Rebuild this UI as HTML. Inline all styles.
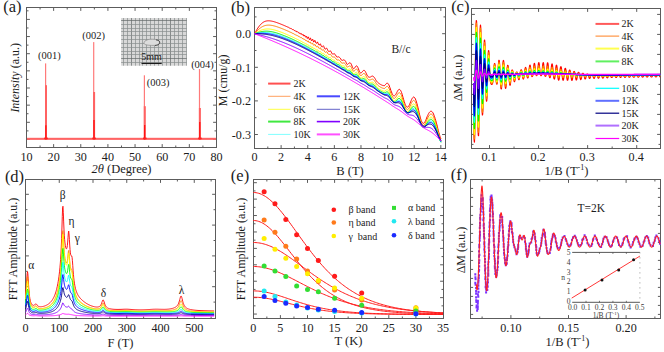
<!DOCTYPE html>
<html><head><meta charset="utf-8"><style>
html,body{margin:0;padding:0;background:#fff;}
body{width:664px;height:352px;overflow:hidden;}
svg{display:block;font-family:"Liberation Serif", serif;}
</style></head><body>
<svg width="664" height="352" viewBox="0 0 664 352">
<rect width="664" height="352" fill="#fff"/>
<rect x="26.5" y="7.5" width="190" height="140" fill="none" stroke="#5c5c5c" stroke-width="1"/>
<line x1="40.07" y1="147.5" x2="40.07" y2="145.5" stroke="#5c5c5c" stroke-width="1.0"/>
<line x1="40.07" y1="7.5" x2="40.07" y2="9.5" stroke="#5c5c5c" stroke-width="1.0"/>
<line x1="53.64" y1="147.5" x2="53.64" y2="144.1" stroke="#5c5c5c" stroke-width="1.0"/>
<line x1="53.64" y1="7.5" x2="53.64" y2="10.9" stroke="#5c5c5c" stroke-width="1.0"/>
<line x1="67.21" y1="147.5" x2="67.21" y2="145.5" stroke="#5c5c5c" stroke-width="1.0"/>
<line x1="67.21" y1="7.5" x2="67.21" y2="9.5" stroke="#5c5c5c" stroke-width="1.0"/>
<line x1="80.78" y1="147.5" x2="80.78" y2="144.1" stroke="#5c5c5c" stroke-width="1.0"/>
<line x1="80.78" y1="7.5" x2="80.78" y2="10.9" stroke="#5c5c5c" stroke-width="1.0"/>
<line x1="94.35" y1="147.5" x2="94.35" y2="145.5" stroke="#5c5c5c" stroke-width="1.0"/>
<line x1="94.35" y1="7.5" x2="94.35" y2="9.5" stroke="#5c5c5c" stroke-width="1.0"/>
<line x1="107.92" y1="147.5" x2="107.92" y2="144.1" stroke="#5c5c5c" stroke-width="1.0"/>
<line x1="107.92" y1="7.5" x2="107.92" y2="10.9" stroke="#5c5c5c" stroke-width="1.0"/>
<line x1="121.49" y1="147.5" x2="121.49" y2="145.5" stroke="#5c5c5c" stroke-width="1.0"/>
<line x1="121.49" y1="7.5" x2="121.49" y2="9.5" stroke="#5c5c5c" stroke-width="1.0"/>
<line x1="135.06" y1="147.5" x2="135.06" y2="144.1" stroke="#5c5c5c" stroke-width="1.0"/>
<line x1="135.06" y1="7.5" x2="135.06" y2="10.9" stroke="#5c5c5c" stroke-width="1.0"/>
<line x1="148.63" y1="147.5" x2="148.63" y2="145.5" stroke="#5c5c5c" stroke-width="1.0"/>
<line x1="148.63" y1="7.5" x2="148.63" y2="9.5" stroke="#5c5c5c" stroke-width="1.0"/>
<line x1="162.2" y1="147.5" x2="162.2" y2="144.1" stroke="#5c5c5c" stroke-width="1.0"/>
<line x1="162.2" y1="7.5" x2="162.2" y2="10.9" stroke="#5c5c5c" stroke-width="1.0"/>
<line x1="175.77" y1="147.5" x2="175.77" y2="145.5" stroke="#5c5c5c" stroke-width="1.0"/>
<line x1="175.77" y1="7.5" x2="175.77" y2="9.5" stroke="#5c5c5c" stroke-width="1.0"/>
<line x1="189.34" y1="147.5" x2="189.34" y2="144.1" stroke="#5c5c5c" stroke-width="1.0"/>
<line x1="189.34" y1="7.5" x2="189.34" y2="10.9" stroke="#5c5c5c" stroke-width="1.0"/>
<line x1="202.91" y1="147.5" x2="202.91" y2="145.5" stroke="#5c5c5c" stroke-width="1.0"/>
<line x1="202.91" y1="7.5" x2="202.91" y2="9.5" stroke="#5c5c5c" stroke-width="1.0"/>
<line x1="26.5" y1="10.82" x2="28.5" y2="10.82" stroke="#5c5c5c" stroke-width="1.0"/>
<line x1="216.5" y1="10.82" x2="214.5" y2="10.82" stroke="#5c5c5c" stroke-width="1.0"/>
<line x1="26.5" y1="19.4" x2="29.9" y2="19.4" stroke="#5c5c5c" stroke-width="1.0"/>
<line x1="216.5" y1="19.4" x2="213.1" y2="19.4" stroke="#5c5c5c" stroke-width="1.0"/>
<line x1="26.5" y1="27.97" x2="28.5" y2="27.97" stroke="#5c5c5c" stroke-width="1.0"/>
<line x1="216.5" y1="27.97" x2="214.5" y2="27.97" stroke="#5c5c5c" stroke-width="1.0"/>
<line x1="26.5" y1="36.55" x2="29.9" y2="36.55" stroke="#5c5c5c" stroke-width="1.0"/>
<line x1="216.5" y1="36.55" x2="213.1" y2="36.55" stroke="#5c5c5c" stroke-width="1.0"/>
<line x1="26.5" y1="45.12" x2="28.5" y2="45.12" stroke="#5c5c5c" stroke-width="1.0"/>
<line x1="216.5" y1="45.12" x2="214.5" y2="45.12" stroke="#5c5c5c" stroke-width="1.0"/>
<line x1="26.5" y1="53.7" x2="29.9" y2="53.7" stroke="#5c5c5c" stroke-width="1.0"/>
<line x1="216.5" y1="53.7" x2="213.1" y2="53.7" stroke="#5c5c5c" stroke-width="1.0"/>
<line x1="26.5" y1="62.27" x2="28.5" y2="62.27" stroke="#5c5c5c" stroke-width="1.0"/>
<line x1="216.5" y1="62.27" x2="214.5" y2="62.27" stroke="#5c5c5c" stroke-width="1.0"/>
<line x1="26.5" y1="70.85" x2="29.9" y2="70.85" stroke="#5c5c5c" stroke-width="1.0"/>
<line x1="216.5" y1="70.85" x2="213.1" y2="70.85" stroke="#5c5c5c" stroke-width="1.0"/>
<line x1="26.5" y1="79.42" x2="28.5" y2="79.42" stroke="#5c5c5c" stroke-width="1.0"/>
<line x1="216.5" y1="79.42" x2="214.5" y2="79.42" stroke="#5c5c5c" stroke-width="1.0"/>
<line x1="26.5" y1="88" x2="29.9" y2="88" stroke="#5c5c5c" stroke-width="1.0"/>
<line x1="216.5" y1="88" x2="213.1" y2="88" stroke="#5c5c5c" stroke-width="1.0"/>
<line x1="26.5" y1="96.57" x2="28.5" y2="96.57" stroke="#5c5c5c" stroke-width="1.0"/>
<line x1="216.5" y1="96.57" x2="214.5" y2="96.57" stroke="#5c5c5c" stroke-width="1.0"/>
<line x1="26.5" y1="105.15" x2="29.9" y2="105.15" stroke="#5c5c5c" stroke-width="1.0"/>
<line x1="216.5" y1="105.15" x2="213.1" y2="105.15" stroke="#5c5c5c" stroke-width="1.0"/>
<line x1="26.5" y1="113.72" x2="28.5" y2="113.72" stroke="#5c5c5c" stroke-width="1.0"/>
<line x1="216.5" y1="113.72" x2="214.5" y2="113.72" stroke="#5c5c5c" stroke-width="1.0"/>
<line x1="26.5" y1="122.3" x2="29.9" y2="122.3" stroke="#5c5c5c" stroke-width="1.0"/>
<line x1="216.5" y1="122.3" x2="213.1" y2="122.3" stroke="#5c5c5c" stroke-width="1.0"/>
<line x1="26.5" y1="130.88" x2="28.5" y2="130.88" stroke="#5c5c5c" stroke-width="1.0"/>
<line x1="216.5" y1="130.88" x2="214.5" y2="130.88" stroke="#5c5c5c" stroke-width="1.0"/>
<line x1="26.5" y1="139.45" x2="29.9" y2="139.45" stroke="#5c5c5c" stroke-width="1.0"/>
<line x1="216.5" y1="139.45" x2="213.1" y2="139.45" stroke="#5c5c5c" stroke-width="1.0"/>
<text transform="translate(26.5 160.8) scale(0.92 1)" font-size="13.2" text-anchor="middle" fill="#1c1c1c">10</text>
<text transform="translate(53.64 160.8) scale(0.92 1)" font-size="13.2" text-anchor="middle" fill="#1c1c1c">20</text>
<text transform="translate(80.78 160.8) scale(0.92 1)" font-size="13.2" text-anchor="middle" fill="#1c1c1c">30</text>
<text transform="translate(107.92 160.8) scale(0.92 1)" font-size="13.2" text-anchor="middle" fill="#1c1c1c">40</text>
<text transform="translate(135.06 160.8) scale(0.92 1)" font-size="13.2" text-anchor="middle" fill="#1c1c1c">50</text>
<text transform="translate(162.2 160.8) scale(0.92 1)" font-size="13.2" text-anchor="middle" fill="#1c1c1c">60</text>
<text transform="translate(189.34 160.8) scale(0.92 1)" font-size="13.2" text-anchor="middle" fill="#1c1c1c">70</text>
<text transform="translate(216.48 160.8) scale(0.92 1)" font-size="13.2" text-anchor="middle" fill="#1c1c1c">80</text>
<text x="14.9" y="77.8" font-size="12" text-anchor="middle" fill="#1c1c1c" transform="rotate(-90 14.9 77.8)" dominant-baseline="central"><tspan font-style="italic">Intensity</tspan> (a.u.)</text>
<text x="121.5" y="173" font-size="12.5" text-anchor="middle" fill="#1c1c1c"><tspan font-style="italic">2θ</tspan> (Degree)</text>
<text x="12.4" y="11.6" font-size="16.5" text-anchor="middle" fill="#1c1c1c">(a)</text>
<rect x="121.1" y="18" width="65.6" height="47.7" fill="#d8d8d8"/>
<line x1="123.5" y1="18" x2="123.5" y2="65.7" stroke="#888e8e" stroke-width="0.7"/>
<line x1="127.5" y1="18" x2="127.5" y2="65.7" stroke="#888e8e" stroke-width="0.7"/>
<line x1="131.5" y1="18" x2="131.5" y2="65.7" stroke="#646a6a" stroke-width="0.7"/>
<line x1="135.5" y1="18" x2="135.5" y2="65.7" stroke="#888e8e" stroke-width="0.7"/>
<line x1="139.5" y1="18" x2="139.5" y2="65.7" stroke="#888e8e" stroke-width="0.7"/>
<line x1="142.5" y1="18" x2="142.5" y2="65.7" stroke="#888e8e" stroke-width="0.7"/>
<line x1="146.5" y1="18" x2="146.5" y2="65.7" stroke="#888e8e" stroke-width="0.7"/>
<line x1="150.5" y1="18" x2="150.5" y2="65.7" stroke="#888e8e" stroke-width="0.7"/>
<line x1="154.5" y1="18" x2="154.5" y2="65.7" stroke="#888e8e" stroke-width="0.7"/>
<line x1="158.5" y1="18" x2="158.5" y2="65.7" stroke="#888e8e" stroke-width="0.7"/>
<line x1="162.5" y1="18" x2="162.5" y2="65.7" stroke="#888e8e" stroke-width="0.7"/>
<line x1="166.5" y1="18" x2="166.5" y2="65.7" stroke="#888e8e" stroke-width="0.7"/>
<line x1="170.5" y1="18" x2="170.5" y2="65.7" stroke="#646a6a" stroke-width="0.7"/>
<line x1="174.5" y1="18" x2="174.5" y2="65.7" stroke="#888e8e" stroke-width="0.7"/>
<line x1="178.5" y1="18" x2="178.5" y2="65.7" stroke="#888e8e" stroke-width="0.7"/>
<line x1="182.5" y1="18" x2="182.5" y2="65.7" stroke="#888e8e" stroke-width="0.7"/>
<line x1="186.5" y1="18" x2="186.5" y2="65.7" stroke="#888e8e" stroke-width="0.7"/>
<line x1="121.1" y1="20.5" x2="186.7" y2="20.5" stroke="#646a6a" stroke-width="0.7"/>
<line x1="121.1" y1="24.5" x2="186.7" y2="24.5" stroke="#888e8e" stroke-width="0.7"/>
<line x1="121.1" y1="28.5" x2="186.7" y2="28.5" stroke="#888e8e" stroke-width="0.7"/>
<line x1="121.1" y1="31.5" x2="186.7" y2="31.5" stroke="#888e8e" stroke-width="0.7"/>
<line x1="121.1" y1="35.5" x2="186.7" y2="35.5" stroke="#888e8e" stroke-width="0.7"/>
<line x1="121.1" y1="39.5" x2="186.7" y2="39.5" stroke="#888e8e" stroke-width="0.7"/>
<line x1="121.1" y1="43.5" x2="186.7" y2="43.5" stroke="#888e8e" stroke-width="0.7"/>
<line x1="121.1" y1="47.5" x2="186.7" y2="47.5" stroke="#888e8e" stroke-width="0.7"/>
<line x1="121.1" y1="51.5" x2="186.7" y2="51.5" stroke="#888e8e" stroke-width="0.7"/>
<line x1="121.1" y1="54.5" x2="186.7" y2="54.5" stroke="#888e8e" stroke-width="0.7"/>
<line x1="121.1" y1="58.5" x2="186.7" y2="58.5" stroke="#646a6a" stroke-width="0.7"/>
<line x1="121.1" y1="62.5" x2="186.7" y2="62.5" stroke="#888e8e" stroke-width="0.7"/>
<path d="M144,42.8 C144.5,40.2 148.5,39 152.5,39.2 C156.5,39.3 160,40.2 159.6,42.6 C159.2,44.8 156,45.6 151.5,45.4 C147.5,45.3 143.6,44.8 144,42.8 Z" fill="#dcdcdc" stroke="#8a8a8a" stroke-width="0.7"/><path d="M156,39.8 C159,40.3 160.3,41.5 159.6,43.2 C159,44.8 157,45.4 155,45.5" fill="none" stroke="#505050" stroke-width="1"/>
<text x="151.6" y="60.1" font-size="10" text-anchor="middle" fill="#1a1a1a">5mm</text>
<line x1="141.5" y1="63.4" x2="161.7" y2="63.4" stroke="#1a1a1a" stroke-width="1.2"/>
<rect x="27.0" y="137.8" width="189" height="2.1" fill="#ff6464"/>
<rect x="45.0" y="63.4" width="1.2" height="76.1" fill="#ff7a7a"/>
<rect x="45.0" y="85.2" width="2.0" height="54.3" fill="#ff6262"/>
<rect x="45.3" y="125.3" width="1.2" height="14.2" fill="#ff0a0a"/>
<rect x="44.2" y="137.6" width="3.6" height="1.6" fill="#ff2020"/>
<rect x="93.1" y="42.1" width="1.2" height="97.4" fill="#ff7a7a"/>
<rect x="93.1" y="92.0" width="2.0" height="47.5" fill="#ff6262"/>
<rect x="93.39999999999999" y="120.0" width="1.2" height="19.5" fill="#ff0a0a"/>
<rect x="92.3" y="137.6" width="3.6" height="1.6" fill="#ff2020"/>
<rect x="143.8" y="75.3" width="1.2" height="64.2" fill="#ff7a7a"/>
<rect x="143.8" y="106.2" width="2.0" height="33.3" fill="#ff6262"/>
<rect x="144.10000000000002" y="125.0" width="1.2" height="14.5" fill="#ff0a0a"/>
<rect x="143.0" y="137.6" width="3.6" height="1.6" fill="#ff2020"/>
<rect x="198.9" y="69.0" width="1.2" height="70.5" fill="#ff7a7a"/>
<rect x="198.9" y="108.0" width="2.0" height="31.5" fill="#ff6262"/>
<rect x="199.20000000000002" y="122.0" width="1.2" height="17.5" fill="#ff0a0a"/>
<rect x="198.1" y="137.6" width="3.6" height="1.6" fill="#ff2020"/>
<text x="49.3" y="58.6" font-size="10.5" text-anchor="middle" fill="#1c1c1c">(001)</text>
<text x="93.7" y="38.9" font-size="10.5" text-anchor="middle" fill="#1c1c1c">(002)</text>
<text x="158.2" y="86" font-size="10.5" text-anchor="middle" fill="#1c1c1c">(003)</text>
<text x="202.5" y="68" font-size="10.5" text-anchor="middle" fill="#1c1c1c">(004)</text>
<rect x="254.5" y="7.5" width="191" height="141" fill="none" stroke="#5c5c5c" stroke-width="1"/>
<line x1="267.81" y1="148.5" x2="267.81" y2="146.5" stroke="#5c5c5c" stroke-width="1.0"/>
<line x1="267.81" y1="7.5" x2="267.81" y2="9.5" stroke="#5c5c5c" stroke-width="1.0"/>
<line x1="281.12" y1="148.5" x2="281.12" y2="145.1" stroke="#5c5c5c" stroke-width="1.0"/>
<line x1="281.12" y1="7.5" x2="281.12" y2="10.9" stroke="#5c5c5c" stroke-width="1.0"/>
<line x1="294.43" y1="148.5" x2="294.43" y2="146.5" stroke="#5c5c5c" stroke-width="1.0"/>
<line x1="294.43" y1="7.5" x2="294.43" y2="9.5" stroke="#5c5c5c" stroke-width="1.0"/>
<line x1="307.74" y1="148.5" x2="307.74" y2="145.1" stroke="#5c5c5c" stroke-width="1.0"/>
<line x1="307.74" y1="7.5" x2="307.74" y2="10.9" stroke="#5c5c5c" stroke-width="1.0"/>
<line x1="321.05" y1="148.5" x2="321.05" y2="146.5" stroke="#5c5c5c" stroke-width="1.0"/>
<line x1="321.05" y1="7.5" x2="321.05" y2="9.5" stroke="#5c5c5c" stroke-width="1.0"/>
<line x1="334.36" y1="148.5" x2="334.36" y2="145.1" stroke="#5c5c5c" stroke-width="1.0"/>
<line x1="334.36" y1="7.5" x2="334.36" y2="10.9" stroke="#5c5c5c" stroke-width="1.0"/>
<line x1="347.67" y1="148.5" x2="347.67" y2="146.5" stroke="#5c5c5c" stroke-width="1.0"/>
<line x1="347.67" y1="7.5" x2="347.67" y2="9.5" stroke="#5c5c5c" stroke-width="1.0"/>
<line x1="360.98" y1="148.5" x2="360.98" y2="145.1" stroke="#5c5c5c" stroke-width="1.0"/>
<line x1="360.98" y1="7.5" x2="360.98" y2="10.9" stroke="#5c5c5c" stroke-width="1.0"/>
<line x1="374.29" y1="148.5" x2="374.29" y2="146.5" stroke="#5c5c5c" stroke-width="1.0"/>
<line x1="374.29" y1="7.5" x2="374.29" y2="9.5" stroke="#5c5c5c" stroke-width="1.0"/>
<line x1="387.6" y1="148.5" x2="387.6" y2="145.1" stroke="#5c5c5c" stroke-width="1.0"/>
<line x1="387.6" y1="7.5" x2="387.6" y2="10.9" stroke="#5c5c5c" stroke-width="1.0"/>
<line x1="400.91" y1="148.5" x2="400.91" y2="146.5" stroke="#5c5c5c" stroke-width="1.0"/>
<line x1="400.91" y1="7.5" x2="400.91" y2="9.5" stroke="#5c5c5c" stroke-width="1.0"/>
<line x1="414.22" y1="148.5" x2="414.22" y2="145.1" stroke="#5c5c5c" stroke-width="1.0"/>
<line x1="414.22" y1="7.5" x2="414.22" y2="10.9" stroke="#5c5c5c" stroke-width="1.0"/>
<line x1="427.53" y1="148.5" x2="427.53" y2="146.5" stroke="#5c5c5c" stroke-width="1.0"/>
<line x1="427.53" y1="7.5" x2="427.53" y2="9.5" stroke="#5c5c5c" stroke-width="1.0"/>
<line x1="440.84" y1="148.5" x2="440.84" y2="145.1" stroke="#5c5c5c" stroke-width="1.0"/>
<line x1="440.84" y1="7.5" x2="440.84" y2="10.9" stroke="#5c5c5c" stroke-width="1.0"/>
<line x1="254.5" y1="16.9" x2="256.5" y2="16.9" stroke="#5c5c5c" stroke-width="1.0"/>
<line x1="445.5" y1="16.9" x2="443.5" y2="16.9" stroke="#5c5c5c" stroke-width="1.0"/>
<line x1="254.5" y1="33.7" x2="257.9" y2="33.7" stroke="#5c5c5c" stroke-width="1.0"/>
<line x1="445.5" y1="33.7" x2="442.1" y2="33.7" stroke="#5c5c5c" stroke-width="1.0"/>
<line x1="254.5" y1="50.5" x2="256.5" y2="50.5" stroke="#5c5c5c" stroke-width="1.0"/>
<line x1="445.5" y1="50.5" x2="443.5" y2="50.5" stroke="#5c5c5c" stroke-width="1.0"/>
<line x1="254.5" y1="67.3" x2="257.9" y2="67.3" stroke="#5c5c5c" stroke-width="1.0"/>
<line x1="445.5" y1="67.3" x2="442.1" y2="67.3" stroke="#5c5c5c" stroke-width="1.0"/>
<line x1="254.5" y1="84.1" x2="256.5" y2="84.1" stroke="#5c5c5c" stroke-width="1.0"/>
<line x1="445.5" y1="84.1" x2="443.5" y2="84.1" stroke="#5c5c5c" stroke-width="1.0"/>
<line x1="254.5" y1="100.9" x2="257.9" y2="100.9" stroke="#5c5c5c" stroke-width="1.0"/>
<line x1="445.5" y1="100.9" x2="442.1" y2="100.9" stroke="#5c5c5c" stroke-width="1.0"/>
<line x1="254.5" y1="117.7" x2="256.5" y2="117.7" stroke="#5c5c5c" stroke-width="1.0"/>
<line x1="445.5" y1="117.7" x2="443.5" y2="117.7" stroke="#5c5c5c" stroke-width="1.0"/>
<line x1="254.5" y1="134.5" x2="257.9" y2="134.5" stroke="#5c5c5c" stroke-width="1.0"/>
<line x1="445.5" y1="134.5" x2="442.1" y2="134.5" stroke="#5c5c5c" stroke-width="1.0"/>
<text transform="translate(254.5 160.8) scale(0.92 1)" font-size="13.2" text-anchor="middle" fill="#1c1c1c">0</text>
<text transform="translate(281.12 160.8) scale(0.92 1)" font-size="13.2" text-anchor="middle" fill="#1c1c1c">2</text>
<text transform="translate(307.74 160.8) scale(0.92 1)" font-size="13.2" text-anchor="middle" fill="#1c1c1c">4</text>
<text transform="translate(334.36 160.8) scale(0.92 1)" font-size="13.2" text-anchor="middle" fill="#1c1c1c">6</text>
<text transform="translate(360.98 160.8) scale(0.92 1)" font-size="13.2" text-anchor="middle" fill="#1c1c1c">8</text>
<text transform="translate(387.6 160.8) scale(0.92 1)" font-size="13.2" text-anchor="middle" fill="#1c1c1c">10</text>
<text transform="translate(414.22 160.8) scale(0.92 1)" font-size="13.2" text-anchor="middle" fill="#1c1c1c">12</text>
<text transform="translate(440.84 160.8) scale(0.92 1)" font-size="13.2" text-anchor="middle" fill="#1c1c1c">14</text>
<text transform="translate(251 38.1) scale(0.92 1)" font-size="13.2" text-anchor="end" fill="#1c1c1c">0.0</text>
<text transform="translate(251 71.7) scale(0.92 1)" font-size="13.2" text-anchor="end" fill="#1c1c1c">-0.1</text>
<text transform="translate(251 105.3) scale(0.92 1)" font-size="13.2" text-anchor="end" fill="#1c1c1c">-0.2</text>
<text transform="translate(251 138.9) scale(0.92 1)" font-size="13.2" text-anchor="end" fill="#1c1c1c">-0.3</text>
<text x="223" y="80.3" font-size="12" text-anchor="middle" fill="#1c1c1c" transform="rotate(-90 223 80.3)" dominant-baseline="central">M (cmu/g)</text>
<text x="350" y="174.7" font-size="12.5" text-anchor="middle" fill="#1c1c1c">B (T)</text>
<text x="240.5" y="13.3" font-size="16.5" text-anchor="middle" fill="#1c1c1c">(b)</text>
<text x="401" y="52.5" font-size="11.5" text-anchor="middle" fill="#1c1c1c">B//c</text>
<polyline fill="none" stroke="#ff0000" stroke-width="1.0" stroke-linejoin="round" points="254.5,33.7 255.17,32.53 255.83,31.37 256.5,30.24 257.16,29.16 257.83,28.12 258.49,27.14 259.16,26.23 259.82,25.39 260.49,24.62 261.15,23.94 261.82,23.33 262.49,22.79 263.15,22.33 263.82,21.94 264.48,21.61 265.15,21.35 265.81,21.14 266.48,20.99 267.14,20.89 267.81,20.82 268.48,20.8 269.14,20.82 269.81,20.86 270.47,20.94 271.14,21.04 271.8,21.16 272.47,21.3 273.13,21.46 273.8,21.64 274.47,21.83 275.13,22.03 275.8,22.25 276.46,22.47 277.13,22.7 277.79,22.94 278.46,23.19 279.12,23.44 279.79,23.7 280.45,23.96 281.12,24.23 281.79,24.5 282.45,24.78 283.12,25.06 283.78,25.34 284.45,25.62 285.11,25.91 285.78,26.2 286.44,26.49 287.11,26.78 287.77,27.08 288.44,27.29 289.11,27.68 289.77,28.22 290.44,28.42 291.1,28.52 291.77,28.9 292.43,29.53 293.1,29.52 293.76,29.87 294.43,30.59 295.1,30.47 295.63,31.27 296.16,31.01 296.69,31.82 297.23,31.61 297.76,32.08 298.29,32.42 298.82,32.38 299.35,33.49 299.89,32.91 300.42,33.49 300.95,34.24 301.48,33.62 302.02,34.81 302.55,34.94 303.08,34.42 303.61,35.85 304.15,35.95 304.68,35.14 305.21,36.49 305.74,37.28 306.28,36.01 306.81,36.73 307.34,38.49 307.87,37.62 308.41,36.88 308.94,38.68 309.47,39.73 310,38.39 310.54,38.06 311.07,40.05 311.6,40.83 312.13,39.75 312.66,39.08 313.2,41 313.73,42.02 314.26,41.71 314.79,40.32 315.33,41.2 315.86,42.94 316.39,43.41 316.92,42.98 317.46,41.87 317.99,43.07 318.52,44.56 319.05,45.03 319.59,44.93 320.12,43.74 320.65,44.25 321.18,46.01 321.72,46.71 322.25,46.92 322.78,46.42 323.31,45.7 323.85,46.56 324.38,48.12 324.91,48.87 325.44,49.11 325.97,48.82 326.51,48.1 327.04,48.46 327.57,49.79 328.1,50.87 328.64,51.48 329.17,51.51 329.7,51.11 330.23,50.8 330.77,51.18 331.3,52.15 331.83,53.23 332.36,54 332.9,54.22 333.43,53.98 333.96,53.74 334.49,53.82 335.03,54.3 335.56,55.04 336.09,56 336.62,56.77 337.16,57.09 337.69,56.97 338.22,56.78 338.75,56.92 339.28,57.23 339.82,57.67 340.35,58.2 340.88,59.2 341.41,60.07 341.95,60.47 342.48,60.38 343.01,59.95 343.54,59.88 344.08,59.92 344.61,60.2 345.14,60.74 345.67,61.51 346.21,62.75 346.74,63.83 347.27,64.42 347.8,64.41 348.34,63.9 348.87,63.27 349.4,62.89 349.93,62.75 350.47,63.01 351,63.71 351.53,64.77 352.06,66.13 352.59,67.46 353.13,68.38 353.66,68.73 354.19,68.48 354.72,67.81 355.26,67 355.79,66.31 356.32,65.89 356.85,65.93 357.39,66.53 357.92,67.58 358.45,68.9 358.98,70.3 359.52,71.57 360.05,72.49 360.58,72.97 361.11,72.96 361.65,72.53 362.18,71.91 362.71,71.23 363.24,70.64 363.78,70.3 364.31,70.33 364.84,70.8 365.37,71.62 365.9,72.69 366.44,73.89 366.97,74.95 367.5,75.85 368.03,76.54 368.57,76.99 369.1,77.2 369.63,77.23 370.16,77.11 370.7,76.88 371.23,76.54 371.76,76.23 372.29,76.08 372.83,76.14 373.36,76.44 373.89,76.95 374.42,77.66 374.96,78.46 375.49,79.4 376.02,80.32 376.55,81.11 377.09,81.78 377.62,82.34 378.15,82.82 378.68,83.24 379.21,83.61 379.75,83.96 380.28,84.28 380.81,84.58 381.34,84.86 381.88,85.11 382.41,85.32 382.94,85.48 383.47,85.58 384.01,85.62 384.54,85.59 385.07,85.18 385.6,84.43 386.14,83.77 386.67,83.31 387.2,83.14 387.73,83.32 388.27,83.86 388.8,84.76 389.33,85.97 389.86,87.43 390.4,89.03 390.93,90.5 391.46,91.94 391.99,93.27 392.52,94.41 393.06,95.26 393.59,95.75 394.12,95.9 394.65,95.7 395.19,95.2 395.72,94.46 396.25,93.54 396.78,92.51 397.32,91.47 397.85,90.55 398.38,89.85 398.91,89.44 399.45,89.36 399.98,89.63 400.51,90.27 401.04,91.27 401.58,92.61 402.11,94.21 402.64,96.01 403.17,97.91 403.71,99.77 404.24,101.56 404.77,103.19 405.3,104.6 405.83,105.73 406.37,106.58 406.9,107.08 407.43,107.2 407.96,106.97 408.5,106.39 409.03,105.53 409.56,104.44 410.09,103.18 410.63,101.86 411.16,100.56 411.69,99.37 412.22,98.36 412.76,97.6 413.29,97.14 413.82,97.02 414.35,97.32 414.89,97.99 415.42,99.01 415.95,100.35 416.48,101.97 417.02,103.81 417.55,105.83 418.08,107.94 418.61,110.23 419.14,112.62 419.68,114.93 420.21,117.09 420.74,119.02 421.27,120.59 421.81,121.83 422.34,122.71 422.87,123.22 423.4,123.35 423.94,123.14 424.47,122.59 425,121.77 425.53,120.7 426.07,119.44 426.6,118.07 427.13,116.62 427.66,115.47 428.2,114.38 428.73,113.4 429.26,112.55 429.79,111.89 430.33,111.43 430.86,111.21 431.39,111.24 431.92,111.54 432.45,112.1 432.99,112.93 433.52,114 434.05,115.29 434.58,116.77 435.12,118.42 435.65,120.2 436.18,122.08 436.71,124.01 437.25,126.08 437.78,128.33 438.31,130.5 438.84,132.57 439.38,134.49 439.91,136.23 440.44,137.75 440.97,139.05"/>
<polyline fill="none" stroke="#ff8000" stroke-width="1.0" stroke-linejoin="round" points="254.5,33.7 255.17,32.96 255.83,32.24 256.5,31.52 257.16,30.83 257.83,30.17 258.49,29.53 259.16,28.94 259.82,28.38 260.49,27.87 261.15,27.4 261.82,26.98 262.49,26.6 263.15,26.27 263.82,25.99 264.48,25.75 265.15,25.55 265.81,25.39 266.48,25.27 267.14,25.19 267.81,25.14 268.48,25.12 269.14,25.13 269.81,25.17 270.47,25.23 271.14,25.32 271.8,25.42 272.47,25.54 273.13,25.69 273.8,25.84 274.47,26.01 275.13,26.2 275.8,26.39 276.46,26.6 277.13,26.81 277.79,27.04 278.46,27.27 279.12,27.51 279.79,27.75 280.45,28 281.12,28.26 281.79,28.52 282.45,28.78 283.12,29.05 283.78,29.32 284.45,29.6 285.11,29.88 285.78,30.16 286.44,30.45 287.11,30.73 287.77,31.02 288.44,31.29 289.11,31.61 289.77,32 290.44,32.27 291.1,32.49 291.77,32.83 292.43,33.27 293.1,33.46 293.76,33.79 294.43,34.28 295.1,34.41 295.63,34.92 296.16,34.94 296.69,35.46 297.23,35.5 297.76,35.87 298.29,36.18 298.82,36.3 299.35,36.99 299.89,36.83 300.42,37.26 300.95,37.79 301.48,37.59 302.02,38.36 302.55,38.56 303.08,38.41 303.61,39.32 304.15,39.5 304.68,39.17 305.21,40.06 305.74,40.64 306.28,40.03 306.81,40.57 307.34,41.72 307.87,41.33 308.41,40.99 308.94,42.2 309.47,42.96 310,42.24 310.54,42.14 311.07,43.5 311.6,44.1 312.13,43.52 312.66,43.2 313.2,44.54 313.73,45.3 314.26,45.2 314.79,44.39 315.33,45.07 315.86,46.32 316.39,46.74 316.92,46.54 317.46,45.88 317.99,46.79 318.52,47.91 319.05,48.33 319.59,48.35 320.12,47.61 320.65,48.05 321.18,49.38 321.72,49.96 322.25,50.2 322.78,49.92 323.31,49.48 323.85,50.18 324.38,51.4 324.91,52.02 325.44,52.28 325.97,52.15 326.51,51.69 327.04,52.03 327.57,53.09 328.1,53.98 328.64,54.51 329.17,54.61 329.7,54.38 330.23,54.21 330.77,54.58 331.3,55.39 331.83,56.28 332.36,56.94 332.9,57.18 333.43,57.06 333.96,56.94 334.49,57.07 335.03,57.51 335.56,58.16 336.09,58.97 336.62,59.65 337.16,59.96 337.69,59.93 338.22,59.84 338.75,60.01 339.28,60.31 339.82,60.73 340.35,61.21 340.88,62.08 341.41,62.84 341.95,63.22 342.48,63.2 343.01,62.91 343.54,62.91 344.08,63 344.61,63.28 345.14,63.77 345.67,64.46 346.21,65.53 346.74,66.48 347.27,67.02 347.8,67.07 348.34,66.7 348.87,66.23 349.4,65.96 349.93,65.89 350.47,66.15 351,66.79 351.53,67.73 352.06,68.92 352.59,70.09 353.13,70.92 353.66,71.27 354.19,71.1 354.72,70.58 355.26,69.94 355.79,69.39 356.32,69.08 356.85,69.16 357.39,69.72 357.92,70.65 358.45,71.83 358.98,73.08 359.52,74.22 360.05,75.06 360.58,75.52 361.11,75.55 361.65,75.23 362.18,74.73 362.71,74.18 363.24,73.71 363.78,73.46 364.31,73.53 364.84,73.97 365.37,74.72 365.9,75.7 366.44,76.79 366.97,77.76 367.5,78.59 368.03,79.24 368.57,79.68 369.1,79.9 369.63,79.97 370.16,79.9 370.7,79.73 371.23,79.48 371.76,79.24 372.29,79.14 372.83,79.23 373.36,79.52 373.89,80.02 374.42,80.69 374.96,81.43 375.49,82.3 376.02,83.16 376.55,83.91 377.09,84.54 377.62,85.08 378.15,85.54 378.68,85.96 379.21,86.33 379.75,86.68 380.28,87 380.81,87.31 381.34,87.59 381.88,87.85 382.41,88.07 382.94,88.25 383.47,88.38 384.01,88.45 384.54,88.45 385.07,88.11 385.6,87.46 386.14,86.89 386.67,86.51 387.2,86.38 387.73,86.57 388.27,87.09 388.8,87.94 389.33,89.08 389.86,90.43 390.4,91.93 390.93,93.3 391.46,94.64 391.99,95.9 392.52,96.97 393.06,97.78 393.59,98.26 394.12,98.43 394.65,98.28 395.19,97.85 395.72,97.2 396.25,96.38 396.78,95.46 397.32,94.53 397.85,93.71 398.38,93.09 398.91,92.74 399.45,92.69 399.98,92.96 400.51,93.58 401.04,94.53 401.58,95.79 402.11,97.3 402.64,98.99 403.17,100.78 403.71,102.53 404.24,104.22 404.77,105.76 405.3,107.09 405.83,108.17 406.37,108.99 406.9,109.48 407.43,109.63 407.96,109.44 408.5,108.93 409.03,108.15 409.56,107.15 410.09,106.01 410.63,104.79 411.16,103.61 411.69,102.51 412.22,101.59 412.76,100.89 413.29,100.48 413.82,100.39 414.35,100.68 414.89,101.32 415.42,102.29 415.95,103.56 416.48,105.09 417.02,106.84 417.55,108.74 418.08,110.74 418.61,112.9 419.14,115.17 419.68,117.35 420.21,119.4 420.74,121.23 421.27,122.73 421.81,123.91 422.34,124.75 422.87,125.24 423.4,125.39 423.94,125.2 424.47,124.7 425,123.93 425.53,122.94 426.07,121.77 426.6,120.47 427.13,119.12 427.66,118.04 428.2,117.03 428.73,116.1 429.26,115.31 429.79,114.69 430.33,114.26 430.86,114.06 431.39,114.1 431.92,114.38 432.45,114.93 432.99,115.72 433.52,116.74 434.05,117.97 434.58,119.39 435.12,120.97 435.65,122.67 436.18,124.46 436.71,126.3 437.25,128.28 437.78,130.43 438.31,132.51 438.84,134.49 439.38,136.33 439.91,137.99 440.44,139.46 440.97,140.71"/>
<polyline fill="none" stroke="#ffff00" stroke-width="1.0" stroke-linejoin="round" points="254.5,33.7 255.17,33.29 255.83,32.88 256.5,32.48 257.16,32.09 257.83,31.71 258.49,31.35 259.16,31.01 259.82,30.7 260.49,30.41 261.15,30.14 261.82,29.9 262.49,29.69 263.15,29.51 263.82,29.35 264.48,29.22 265.15,29.12 265.81,29.05 266.48,29 267.14,28.97 267.81,28.97 268.48,28.99 269.14,29.03 269.81,29.09 270.47,29.17 271.14,29.27 271.8,29.39 272.47,29.52 273.13,29.66 273.8,29.82 274.47,29.99 275.13,30.17 275.8,30.36 276.46,30.56 277.13,30.76 277.79,30.98 278.46,31.21 279.12,31.44 279.79,31.68 280.45,31.92 281.12,32.17 281.79,32.42 282.45,32.68 283.12,32.94 283.78,33.21 284.45,33.48 285.11,33.75 285.78,34.03 286.44,34.31 287.11,34.59 287.77,34.88 288.44,35.16 289.11,35.46 289.77,35.78 290.44,36.07 291.1,36.35 291.77,36.66 292.43,37.01 293.1,37.28 293.76,37.6 294.43,37.98 295.1,38.23 295.63,38.58 296.16,38.75 296.69,39.11 297.23,39.29 297.76,39.6 298.29,39.88 298.82,40.08 299.35,40.52 299.89,40.62 300.42,40.96 300.95,41.34 301.48,41.41 302.02,41.9 302.55,42.14 303.08,42.23 303.61,42.79 304.15,43.03 304.68,43.02 305.21,43.59 305.74,44.01 306.28,43.87 306.81,44.27 307.34,44.98 307.87,44.93 308.41,44.91 308.94,45.65 309.47,46.18 310,45.96 310.54,46.04 311.07,46.89 311.6,47.34 312.13,47.17 312.66,47.13 313.2,47.99 313.73,48.54 314.26,48.62 314.79,48.29 315.33,48.8 315.86,49.63 316.39,50 316.92,50.01 317.46,49.75 317.99,50.4 318.52,51.18 319.05,51.55 319.59,51.68 320.12,51.35 320.65,51.73 321.18,52.65 321.72,53.12 322.25,53.39 322.78,53.33 323.31,53.17 323.85,53.71 324.38,54.59 324.91,55.09 325.44,55.37 325.97,55.39 326.51,55.21 327.04,55.53 327.57,56.32 328.1,57 328.64,57.45 329.17,57.62 329.7,57.57 330.23,57.56 330.77,57.9 331.3,58.54 331.83,59.24 332.36,59.79 332.9,60.05 333.43,60.07 333.96,60.08 334.49,60.26 335.03,60.65 335.56,61.19 336.09,61.85 336.62,62.42 337.16,62.73 337.69,62.8 338.22,62.82 338.75,63.03 339.28,63.33 339.82,63.72 340.35,64.15 340.88,64.86 341.41,65.49 341.95,65.86 342.48,65.93 343.01,65.8 343.54,65.87 344.08,66.02 344.61,66.3 345.14,66.75 345.67,67.34 346.21,68.21 346.74,69 347.27,69.49 347.8,69.6 348.34,69.4 348.87,69.12 349.4,68.99 349.93,69 350.47,69.28 351,69.83 351.53,70.62 352.06,71.61 352.59,72.58 353.13,73.3 353.66,73.64 354.19,73.58 354.72,73.25 355.26,72.82 355.79,72.46 356.32,72.28 356.85,72.41 357.39,72.91 357.92,73.71 358.45,74.7 358.98,75.76 359.52,76.73 360.05,77.47 360.58,77.9 361.11,77.99 361.65,77.8 362.18,77.47 362.71,77.09 363.24,76.77 363.78,76.63 364.31,76.74 364.84,77.15 365.37,77.82 365.9,78.68 366.44,79.63 366.97,80.48 367.5,81.21 368.03,81.81 368.57,82.22 369.1,82.47 369.63,82.58 370.16,82.58 370.7,82.51 371.23,82.35 371.76,82.21 372.29,82.18 372.83,82.31 373.36,82.61 373.89,83.08 374.42,83.69 374.96,84.36 375.49,85.14 376.02,85.92 376.55,86.6 377.09,87.18 377.62,87.69 378.15,88.14 378.68,88.54 379.21,88.91 379.75,89.25 380.28,89.58 380.81,89.9 381.34,90.19 381.88,90.46 382.41,90.7 382.94,90.91 383.47,91.06 384.01,91.18 384.54,91.23 385.07,90.99 385.6,90.48 386.14,90.04 386.67,89.75 387.2,89.69 387.73,89.9 388.27,90.39 388.8,91.17 389.33,92.19 389.86,93.41 390.4,94.75 390.93,95.98 391.46,97.2 391.99,98.34 392.52,99.32 393.06,100.07 393.59,100.54 394.12,100.73 394.65,100.65 395.19,100.32 395.72,99.8 396.25,99.13 396.78,98.37 397.32,97.59 397.85,96.92 398.38,96.42 398.91,96.14 399.45,96.14 399.98,96.41 400.51,97 401.04,97.88 401.58,99.03 402.11,100.4 402.64,101.94 403.17,103.56 403.71,105.15 404.24,106.69 404.77,108.11 405.3,109.33 405.83,110.34 406.37,111.11 406.9,111.59 407.43,111.77 407.96,111.64 408.5,111.23 409.03,110.58 409.56,109.72 410.09,108.74 410.63,107.69 411.16,106.66 411.69,105.72 412.22,104.92 412.76,104.32 413.29,103.98 413.82,103.93 414.35,104.22 414.89,104.83 415.42,105.72 415.95,106.9 416.48,108.31 417.02,109.91 417.55,111.65 418.08,113.49 418.61,115.47 419.14,117.55 419.68,119.56 420.21,121.44 420.74,123.13 421.27,124.52 421.81,125.63 422.34,126.42 422.87,126.9 423.4,127.06 423.94,126.92 424.47,126.5 425,125.83 425.53,124.95 426.07,123.91 426.6,122.76 427.13,121.55 427.66,120.59 428.2,119.69 428.73,118.87 429.26,118.16 429.79,117.62 430.33,117.25 430.86,117.08 431.39,117.14 431.92,117.42 432.45,117.94 432.99,118.68 433.52,119.64 434.05,120.79 434.58,122.11 435.12,123.58 435.65,125.17 436.18,126.84 436.71,128.56 437.25,130.41 437.78,132.4 438.31,134.35 438.84,136.2 439.38,137.92 439.91,139.49 440.44,140.88 440.97,142.06"/>
<polyline fill="none" stroke="#00ee00" stroke-width="1.0" stroke-linejoin="round" points="254.5,33.7 255.17,33.46 255.83,33.23 256.5,33 257.16,32.78 257.83,32.56 258.49,32.36 259.16,32.17 259.82,31.99 260.49,31.83 261.15,31.68 261.82,31.56 262.49,31.45 263.15,31.35 263.82,31.28 264.48,31.22 265.15,31.19 265.81,31.17 266.48,31.17 267.14,31.18 267.81,31.22 268.48,31.27 269.14,31.33 269.81,31.41 270.47,31.51 271.14,31.62 271.8,31.74 272.47,31.88 273.13,32.02 273.8,32.18 274.47,32.35 275.13,32.53 275.8,32.72 276.46,32.91 277.13,33.12 277.79,33.33 278.46,33.55 279.12,33.78 279.79,34.01 280.45,34.25 281.12,34.49 281.79,34.74 282.45,34.99 283.12,35.25 283.78,35.51 284.45,35.77 285.11,36.04 285.78,36.31 286.44,36.58 287.11,36.86 287.77,37.14 288.44,37.42 289.11,37.71 289.77,38.01 290.44,38.3 291.1,38.6 291.77,38.9 292.43,39.22 293.1,39.51 293.76,39.83 294.43,40.16 295.1,40.46 295.63,40.74 296.16,40.97 296.69,41.26 297.23,41.49 297.76,41.77 298.29,42.04 298.82,42.28 299.35,42.61 299.89,42.81 300.42,43.11 300.95,43.42 301.48,43.61 302.02,43.97 302.55,44.23 303.08,44.43 303.61,44.82 304.15,45.08 304.68,45.24 305.21,45.64 305.74,45.98 306.28,46.08 306.81,46.42 307.34,46.89 307.87,47.02 308.41,47.17 308.94,47.66 309.47,48.06 310,48.11 310.54,48.3 311.07,48.85 311.6,49.22 312.13,49.29 312.66,49.42 313.2,49.99 313.73,50.4 314.26,50.59 314.79,50.58 315.33,50.97 315.86,51.54 316.39,51.88 316.92,52.03 317.46,52.03 317.99,52.51 318.52,53.06 319.05,53.4 319.59,53.61 320.12,53.57 320.65,53.91 321.18,54.55 321.72,54.94 322.25,55.22 322.78,55.32 323.31,55.36 323.85,55.8 324.38,56.43 324.91,56.85 325.44,57.14 325.97,57.28 326.51,57.29 327.04,57.61 327.57,58.2 328.1,58.73 328.64,59.12 329.17,59.35 329.7,59.44 330.23,59.55 330.77,59.87 331.3,60.38 331.83,60.93 332.36,61.39 332.9,61.67 333.43,61.8 333.96,61.92 334.49,62.14 335.03,62.5 335.56,62.96 336.09,63.49 336.62,63.97 337.16,64.28 337.69,64.44 338.22,64.56 338.75,64.8 339.28,65.1 339.82,65.46 340.35,65.85 340.88,66.43 341.41,66.95 341.95,67.3 342.48,67.45 343.01,67.47 343.54,67.62 344.08,67.81 344.61,68.1 345.14,68.5 345.67,69.01 346.21,69.71 346.74,70.35 347.27,70.79 347.8,70.96 348.34,70.91 348.87,70.81 349.4,70.81 349.93,70.91 350.47,71.19 351,71.67 351.53,72.32 352.06,73.12 352.59,73.91 353.13,74.51 353.66,74.85 354.19,74.9 354.72,74.74 355.26,74.51 355.79,74.33 356.32,74.28 356.85,74.45 357.39,74.9 357.92,75.57 358.45,76.39 358.98,77.26 359.52,78.06 360.05,78.69 360.58,79.1 361.11,79.25 361.65,79.19 362.18,79.02 362.71,78.81 363.24,78.65 363.78,78.61 364.31,78.77 364.84,79.16 365.37,79.75 365.9,80.47 366.44,81.28 366.97,82 367.5,82.65 368.03,83.18 368.57,83.58 369.1,83.84 369.63,84.01 370.16,84.08 370.7,84.09 371.23,84.04 371.76,84 372.29,84.05 372.83,84.22 373.36,84.53 373.89,84.96 374.42,85.51 374.96,86.11 375.49,86.8 376.02,87.49 376.55,88.09 377.09,88.63 377.62,89.1 378.15,89.53 378.68,89.92 379.21,90.28 379.75,90.63 380.28,90.96 380.81,91.28 381.34,91.58 381.88,91.87 382.41,92.13 382.94,92.36 383.47,92.56 384.01,92.71 384.54,92.82 385.07,92.68 385.6,92.33 386.14,92.03 386.67,91.86 387.2,91.87 387.73,92.1 388.27,92.56 388.8,93.26 389.33,94.16 389.86,95.22 390.4,96.39 390.93,97.47 391.46,98.54 391.99,99.54 392.52,100.42 393.06,101.11 393.59,101.57 394.12,101.79 394.65,101.78 395.19,101.57 395.72,101.19 396.25,100.69 396.78,100.1 397.32,99.51 397.85,99 398.38,98.63 398.91,98.45 399.45,98.5 399.98,98.78 400.51,99.32 401.04,100.12 401.58,101.15 402.11,102.36 402.64,103.72 403.17,105.16 403.71,106.57 404.24,107.93 404.77,109.19 405.3,110.3 405.83,111.21 406.37,111.93 406.9,112.4 407.43,112.61 407.96,112.55 408.5,112.26 409.03,111.75 409.56,111.07 410.09,110.27 410.63,109.42 411.16,108.58 411.69,107.82 412.22,107.17 412.76,106.7 413.29,106.45 413.82,106.45 414.35,106.75 414.89,107.31 415.42,108.14 415.95,109.2 416.48,110.47 417.02,111.91 417.55,113.48 418.08,115.12 418.61,116.9 419.14,118.76 419.68,120.57 420.21,122.27 420.74,123.79 421.27,125.06 421.81,126.08 422.34,126.83 422.87,127.3 423.4,127.49 423.94,127.42 424.47,127.09 425,126.55 425.53,125.82 426.07,124.95 426.6,123.98 427.13,122.95 427.66,122.14 428.2,121.39 428.73,120.7 429.26,120.11 429.79,119.67 430.33,119.38 430.86,119.27 431.39,119.35 431.92,119.64 432.45,120.13 432.99,120.83 433.52,121.72 434.05,122.78 434.58,124 435.12,125.35 435.65,126.8 436.18,128.33 436.71,129.91 437.25,131.6 437.78,133.43 438.31,135.21 438.84,136.91 439.38,138.5 439.91,139.95 440.44,141.23 440.97,142.34"/>
<polyline fill="none" stroke="#00ffff" stroke-width="1.0" stroke-linejoin="round" points="254.5,33.7 255.17,33.57 255.83,33.45 256.5,33.32 257.16,33.21 257.83,33.1 258.49,32.99 259.16,32.9 259.82,32.81 260.49,32.73 261.15,32.67 261.82,32.61 262.49,32.57 263.15,32.54 263.82,32.52 264.48,32.52 265.15,32.53 265.81,32.55 266.48,32.59 267.14,32.64 267.81,32.7 268.48,32.78 269.14,32.86 269.81,32.96 270.47,33.07 271.14,33.19 271.8,33.33 272.47,33.47 273.13,33.62 273.8,33.78 274.47,33.95 275.13,34.13 275.8,34.32 276.46,34.51 277.13,34.72 277.79,34.93 278.46,35.14 279.12,35.36 279.79,35.59 280.45,35.82 281.12,36.06 281.79,36.3 282.45,36.55 283.12,36.8 283.78,37.06 284.45,37.32 285.11,37.58 285.78,37.85 286.44,38.12 287.11,38.39 287.77,38.67 288.44,38.95 289.11,39.23 289.77,39.52 290.44,39.81 291.1,40.1 291.77,40.4 292.43,40.71 293.1,41.01 293.76,41.31 294.43,41.63 295.1,41.94 295.63,42.2 296.16,42.44 296.69,42.71 297.23,42.96 297.76,43.22 298.29,43.48 298.82,43.74 299.35,44.02 299.89,44.27 300.42,44.54 300.95,44.82 301.48,45.06 302.02,45.36 302.55,45.63 303.08,45.88 303.61,46.19 304.15,46.46 304.68,46.69 305.21,47.02 305.74,47.32 306.28,47.52 306.81,47.83 307.34,48.18 307.87,48.4 308.41,48.63 308.94,49 309.47,49.33 310,49.52 310.54,49.76 311.07,50.16 311.6,50.49 312.13,50.68 312.66,50.89 313.2,51.31 313.73,51.66 314.26,51.9 314.79,52.05 315.33,52.39 315.86,52.81 316.39,53.13 316.92,53.35 317.46,53.5 317.99,53.89 318.52,54.31 319.05,54.63 319.59,54.88 320.12,55.01 320.65,55.33 321.18,55.8 321.72,56.15 322.25,56.44 322.78,56.63 323.31,56.79 323.85,57.17 324.38,57.64 324.91,58.01 325.44,58.31 325.97,58.52 326.51,58.66 327.04,58.97 327.57,59.44 328.1,59.87 328.64,60.22 329.17,60.48 329.7,60.66 330.23,60.86 330.77,61.18 331.3,61.6 331.83,62.05 332.36,62.44 332.9,62.74 333.43,62.93 333.96,63.13 334.49,63.39 335.03,63.73 335.56,64.13 336.09,64.57 336.62,64.98 337.16,65.29 337.69,65.51 338.22,65.7 338.75,65.97 339.28,66.28 339.82,66.61 340.35,66.98 340.88,67.45 341.41,67.9 341.95,68.24 342.48,68.45 343.01,68.57 343.54,68.77 344.08,69.01 344.61,69.31 345.14,69.67 345.67,70.11 346.21,70.68 346.74,71.21 347.27,71.6 347.8,71.82 348.34,71.9 348.87,71.93 349.4,72.03 349.93,72.2 350.47,72.49 351,72.92 351.53,73.46 352.06,74.1 352.59,74.74 353.13,75.25 353.66,75.58 354.19,75.71 354.72,75.7 355.26,75.64 355.79,75.61 356.32,75.66 356.85,75.88 357.39,76.28 357.92,76.85 358.45,77.51 358.98,78.22 359.52,78.88 360.05,79.42 360.58,79.81 361.11,80.01 361.65,80.06 362.18,80.02 362.71,79.96 363.24,79.93 363.78,80 364.31,80.2 364.84,80.57 365.37,81.08 365.9,81.69 366.44,82.37 366.97,82.99 367.5,83.55 368.03,84.03 368.57,84.41 369.1,84.69 369.63,84.9 370.16,85.04 370.7,85.13 371.23,85.17 371.76,85.23 372.29,85.35 372.83,85.55 373.36,85.86 373.89,86.27 374.42,86.76 374.96,87.3 375.49,87.9 376.02,88.5 376.55,89.05 377.09,89.54 377.62,89.98 378.15,90.38 378.68,90.76 379.21,91.12 379.75,91.47 380.28,91.8 380.81,92.13 381.34,92.44 381.88,92.74 382.41,93.02 382.94,93.27 383.47,93.5 384.01,93.7 384.54,93.85 385.07,93.82 385.6,93.62 386.14,93.46 386.67,93.39 387.2,93.47 387.73,93.72 388.27,94.15 388.8,94.77 389.33,95.56 389.86,96.48 390.4,97.48 390.93,98.41 391.46,99.33 391.99,100.21 392.52,100.98 393.06,101.61 393.59,102.05 394.12,102.3 394.65,102.36 395.19,102.26 395.72,102.02 396.25,101.69 396.78,101.28 397.32,100.87 397.85,100.52 398.38,100.28 398.91,100.2 399.45,100.3 399.98,100.59 400.51,101.1 401.04,101.81 401.58,102.71 402.11,103.77 402.64,104.95 403.17,106.2 403.71,107.42 404.24,108.61 404.77,109.72 405.3,110.7 405.83,111.52 406.37,112.18 406.9,112.64 407.43,112.88 407.96,112.9 408.5,112.72 409.03,112.36 409.56,111.86 410.09,111.25 410.63,110.6 411.16,109.96 411.69,109.38 412.22,108.9 412.76,108.56 413.29,108.41 413.82,108.46 414.35,108.77 414.89,109.3 415.42,110.05 415.95,111 416.48,112.12 417.02,113.4 417.55,114.78 418.08,116.23 418.61,117.8 419.14,119.44 419.68,121.03 420.21,122.53 420.74,123.89 421.27,125.03 421.81,125.97 422.34,126.67 422.87,127.13 423.4,127.36 423.94,127.35 424.47,127.14 425,126.73 425.53,126.17 426.07,125.48 426.6,124.7 427.13,123.87 427.66,123.23 428.2,122.63 428.73,122.09 429.26,121.63 429.79,121.3 430.33,121.1 430.86,121.05 431.39,121.17 431.92,121.47 432.45,121.95 432.99,122.6 433.52,123.42 434.05,124.39 434.58,125.49 435.12,126.71 435.65,128.03 436.18,129.41 436.71,130.83 437.25,132.36 437.78,134.01 438.31,135.62 438.84,137.15 439.38,138.6 439.91,139.92 440.44,141.1 440.97,142.12"/>
<polyline fill="none" stroke="#0000ff" stroke-width="1.0" stroke-linejoin="round" points="254.5,33.7 255.17,33.64 255.83,33.59 256.5,33.54 257.16,33.49 257.83,33.44 258.49,33.4 259.16,33.37 259.82,33.34 260.49,33.32 261.15,33.31 261.82,33.31 262.49,33.31 263.15,33.33 263.82,33.35 264.48,33.38 265.15,33.43 265.81,33.48 266.48,33.55 267.14,33.62 267.81,33.7 268.48,33.8 269.14,33.9 269.81,34.01 270.47,34.13 271.14,34.27 271.8,34.41 272.47,34.55 273.13,34.71 273.8,34.88 274.47,35.05 275.13,35.23 275.8,35.42 276.46,35.61 277.13,35.81 277.79,36.02 278.46,36.23 279.12,36.45 279.79,36.68 280.45,36.9 281.12,37.14 281.79,37.38 282.45,37.62 283.12,37.87 283.78,38.12 284.45,38.38 285.11,38.63 285.78,38.9 286.44,39.16 287.11,39.43 287.77,39.7 288.44,39.98 289.11,40.26 289.77,40.54 290.44,40.83 291.1,41.12 291.77,41.41 292.43,41.71 293.1,42.01 293.76,42.31 294.43,42.62 295.1,42.93 295.63,43.18 296.16,43.43 296.69,43.68 297.23,43.93 297.76,44.19 298.29,44.45 298.82,44.71 299.35,44.97 299.89,45.23 300.42,45.5 300.95,45.76 301.48,46.02 302.02,46.3 302.55,46.57 303.08,46.83 303.61,47.11 304.15,47.38 304.68,47.64 305.21,47.93 305.74,48.22 306.28,48.47 306.81,48.75 307.34,49.06 307.87,49.32 308.41,49.57 308.94,49.89 309.47,50.19 310,50.44 310.54,50.7 311.07,51.04 311.6,51.34 312.13,51.58 312.66,51.84 313.2,52.18 313.73,52.5 314.26,52.77 314.79,52.99 315.33,53.3 315.86,53.66 316.39,53.96 316.92,54.22 317.46,54.44 317.99,54.78 318.52,55.14 319.05,55.44 319.59,55.72 320.12,55.93 320.65,56.24 321.18,56.62 321.72,56.95 322.25,57.24 322.78,57.49 323.31,57.72 323.85,58.05 324.38,58.44 324.91,58.78 325.44,59.08 325.97,59.33 326.51,59.55 327.04,59.86 327.57,60.25 328.1,60.62 328.64,60.95 329.17,61.23 329.7,61.47 330.23,61.71 330.77,62.02 331.3,62.39 331.83,62.78 332.36,63.14 332.9,63.44 333.43,63.68 333.96,63.93 334.49,64.2 335.03,64.53 335.56,64.89 336.09,65.28 336.62,65.65 337.16,65.96 337.69,66.21 338.22,66.45 338.75,66.74 339.28,67.04 339.82,67.37 340.35,67.71 340.88,68.12 341.41,68.52 341.95,68.84 342.48,69.09 343.01,69.29 343.54,69.53 344.08,69.8 344.61,70.1 345.14,70.44 345.67,70.83 346.21,71.31 346.74,71.76 347.27,72.12 347.8,72.38 348.34,72.54 348.87,72.67 349.4,72.84 349.93,73.06 350.47,73.36 351,73.74 351.53,74.2 352.06,74.73 352.59,75.26 353.13,75.7 353.66,76.03 354.19,76.22 354.72,76.32 355.26,76.38 355.79,76.46 356.32,76.6 356.85,76.85 357.39,77.22 357.92,77.7 358.45,78.26 358.98,78.84 359.52,79.39 360.05,79.86 360.58,80.23 361.11,80.47 361.65,80.6 362.18,80.67 362.71,80.73 363.24,80.8 363.78,80.94 364.31,81.18 364.84,81.53 365.37,81.99 365.9,82.52 366.44,83.09 366.97,83.62 367.5,84.11 368.03,84.55 368.57,84.91 369.1,85.21 369.63,85.45 370.16,85.64 370.7,85.8 371.23,85.93 371.76,86.05 372.29,86.23 372.83,86.47 373.36,86.78 373.89,87.17 374.42,87.62 374.96,88.1 375.49,88.63 376.02,89.16 376.55,89.65 377.09,90.1 377.62,90.51 378.15,90.9 378.68,91.27 379.21,91.62 379.75,91.97 380.28,92.3 380.81,92.63 381.34,92.95 381.88,93.26 382.41,93.56 382.94,93.84 383.47,94.09 384.01,94.33 384.54,94.53 385.07,94.59 385.6,94.51 386.14,94.47 386.67,94.49 387.2,94.63 387.73,94.9 388.27,95.31 388.8,95.87 389.33,96.55 389.86,97.34 390.4,98.19 390.93,98.99 391.46,99.79 391.99,100.55 392.52,101.23 393.06,101.8 393.59,102.22 394.12,102.49 394.65,102.62 395.19,102.62 395.72,102.51 396.25,102.33 396.78,102.08 397.32,101.83 397.85,101.63 398.38,101.51 398.91,101.52 399.45,101.67 399.98,101.97 400.51,102.44 401.04,103.08 401.58,103.87 402.11,104.79 402.64,105.8 403.17,106.87 403.71,107.92 404.24,108.95 404.77,109.91 405.3,110.77 405.83,111.51 406.37,112.12 406.9,112.56 407.43,112.83 407.96,112.92 408.5,112.85 409.03,112.63 409.56,112.29 410.09,111.87 410.63,111.41 411.16,110.96 411.69,110.55 412.22,110.23 412.76,110.02 413.29,109.95 413.82,110.06 414.35,110.38 414.89,110.88 415.42,111.56 415.95,112.4 416.48,113.4 417.02,114.51 417.55,115.72 418.08,116.98 418.61,118.35 419.14,119.77 419.68,121.16 420.21,122.48 420.74,123.68 421.27,124.7 421.81,125.54 422.34,126.2 422.87,126.65 423.4,126.91 423.94,126.98 424.47,126.87 425,126.6 425.53,126.19 426.07,125.68 426.6,125.1 427.13,124.47 427.66,123.99 428.2,123.55 428.73,123.15 429.26,122.83 429.79,122.61 430.33,122.5 430.86,122.52 431.39,122.68 431.92,122.99 432.45,123.45 432.99,124.06 433.52,124.81 434.05,125.69 434.58,126.69 435.12,127.79 435.65,128.96 436.18,130.2 436.71,131.47 437.25,132.83 437.78,134.3 438.31,135.73 438.84,137.11 439.38,138.41 439.91,139.6 440.44,140.67 440.97,141.61"/>
<polyline fill="none" stroke="#000080" stroke-width="1.0" stroke-linejoin="round" points="254.5,33.7 255.17,33.71 255.83,33.72 256.5,33.73 257.16,33.74 257.83,33.76 258.49,33.78 259.16,33.8 259.82,33.83 260.49,33.86 261.15,33.9 261.82,33.95 262.49,34 263.15,34.05 263.82,34.12 264.48,34.19 265.15,34.26 265.81,34.35 266.48,34.44 267.14,34.54 267.81,34.64 268.48,34.75 269.14,34.87 269.81,35 270.47,35.14 271.14,35.28 271.8,35.43 272.47,35.58 273.13,35.74 273.8,35.91 274.47,36.09 275.13,36.27 275.8,36.46 276.46,36.65 277.13,36.85 277.79,37.05 278.46,37.26 279.12,37.48 279.79,37.7 280.45,37.92 281.12,38.15 281.79,38.38 282.45,38.62 283.12,38.86 283.78,39.11 284.45,39.36 285.11,39.61 285.78,39.86 286.44,40.12 287.11,40.39 287.77,40.65 288.44,40.92 289.11,41.19 289.77,41.47 290.44,41.75 291.1,42.04 291.77,42.32 292.43,42.62 293.1,42.91 293.76,43.21 294.43,43.51 295.1,43.81 295.63,44.06 296.16,44.3 296.69,44.55 297.23,44.8 297.76,45.05 298.29,45.31 298.82,45.56 299.35,45.82 299.89,46.07 300.42,46.33 300.95,46.6 301.48,46.86 302.02,47.12 302.55,47.39 303.08,47.65 303.61,47.92 304.15,48.19 304.68,48.46 305.21,48.73 305.74,49.01 306.28,49.27 306.81,49.55 307.34,49.83 307.87,50.1 308.41,50.38 308.94,50.66 309.47,50.95 310,51.22 310.54,51.5 311.07,51.79 311.6,52.08 312.13,52.35 312.66,52.63 313.2,52.93 313.73,53.22 314.26,53.51 314.79,53.78 315.33,54.07 315.86,54.38 316.39,54.67 316.92,54.95 317.46,55.23 317.99,55.53 318.52,55.84 319.05,56.14 319.59,56.43 320.12,56.7 320.65,57 321.18,57.32 321.72,57.63 322.25,57.93 322.78,58.21 323.31,58.48 323.85,58.79 324.38,59.12 324.91,59.44 325.44,59.74 325.97,60.02 326.51,60.29 327.04,60.59 327.57,60.93 328.1,61.26 328.64,61.57 329.17,61.87 329.7,62.15 330.23,62.43 330.77,62.73 331.3,63.07 331.83,63.4 332.36,63.73 332.9,64.03 333.43,64.32 333.96,64.6 334.49,64.89 335.03,65.21 335.56,65.54 336.09,65.88 336.62,66.21 337.16,66.52 337.69,66.81 338.22,67.09 338.75,67.38 339.28,67.69 339.82,68.01 340.35,68.33 340.88,68.69 341.41,69.04 341.95,69.35 342.48,69.64 343.01,69.89 343.54,70.17 344.08,70.46 344.61,70.77 345.14,71.1 345.67,71.44 346.21,71.83 346.74,72.21 347.27,72.55 347.8,72.83 348.34,73.07 348.87,73.29 349.4,73.54 349.93,73.8 350.47,74.1 351,74.45 351.53,74.84 352.06,75.26 352.59,75.68 353.13,76.06 353.66,76.38 354.19,76.63 354.72,76.83 355.26,77.01 355.79,77.2 356.32,77.42 356.85,77.7 357.39,78.04 357.92,78.44 358.45,78.89 358.98,79.34 359.52,79.79 360.05,80.19 360.58,80.53 361.11,80.81 361.65,81.03 362.18,81.21 362.71,81.39 363.24,81.57 363.78,81.79 364.31,82.06 364.84,82.4 365.37,82.79 365.9,83.23 366.44,83.69 366.97,84.14 367.5,84.56 368.03,84.95 368.57,85.3 369.1,85.6 369.63,85.88 370.16,86.13 370.7,86.36 371.23,86.57 371.76,86.78 372.29,87.02 372.83,87.29 373.36,87.61 373.89,87.97 374.42,88.38 374.96,88.8 375.49,89.25 376.02,89.7 376.55,90.13 377.09,90.53 377.62,90.92 378.15,91.28 378.68,91.64 379.21,91.99 379.75,92.33 380.28,92.67 380.81,93 381.34,93.33 381.88,93.65 382.41,93.97 382.94,94.27 383.47,94.56 384.01,94.83 384.54,95.08 385.07,95.25 385.6,95.32 386.14,95.42 386.67,95.56 387.2,95.77 387.73,96.06 388.27,96.45 388.8,96.93 389.33,97.49 389.86,98.12 390.4,98.79 390.93,99.44 391.46,100.08 391.99,100.7 392.52,101.27 393.06,101.77 393.59,102.17 394.12,102.47 394.65,102.68 395.19,102.8 395.72,102.85 396.25,102.84 396.78,102.79 397.32,102.74 397.85,102.72 398.38,102.75 398.91,102.87 399.45,103.09 399.98,103.4 400.51,103.84 401.04,104.38 401.58,105.03 402.11,105.77 402.64,106.58 403.17,107.42 403.71,108.26 404.24,109.08 404.77,109.86 405.3,110.57 405.83,111.2 406.37,111.74 406.9,112.16 407.43,112.46 407.96,112.64 408.5,112.7 409.03,112.66 409.56,112.54 410.09,112.36 410.63,112.14 411.16,111.93 411.69,111.75 412.22,111.63 412.76,111.58 413.29,111.64 413.82,111.83 414.35,112.16 414.89,112.62 415.42,113.21 415.95,113.92 416.48,114.75 417.02,115.65 417.55,116.63 418.08,117.65 418.61,118.75 419.14,119.89 419.68,121.01 420.21,122.08 420.74,123.07 421.27,123.93 421.81,124.66 422.34,125.25 422.87,125.7 423.4,126.01 423.94,126.17 424.47,126.2 425,126.11 425.53,125.92 426.07,125.65 426.6,125.32 427.13,124.96 427.66,124.71 428.2,124.48 428.73,124.29 429.26,124.15 429.79,124.09 430.33,124.1 430.86,124.22 431.39,124.43 431.92,124.76 432.45,125.21 432.99,125.76 433.52,126.43 434.05,127.19 434.58,128.04 435.12,128.97 435.65,129.96 436.18,130.99 436.71,132.06 437.25,133.19 437.78,134.41 438.31,135.61 438.84,136.76 439.38,137.85 439.91,138.87 440.44,139.79 440.97,140.61"/>
<polyline fill="none" stroke="#8000ff" stroke-width="1.0" stroke-linejoin="round" points="254.5,33.7 255.17,33.85 255.83,34 256.5,34.16 257.16,34.31 257.83,34.47 258.49,34.63 259.16,34.79 259.82,34.95 260.49,35.12 261.15,35.28 261.82,35.45 262.49,35.62 263.15,35.8 263.82,35.97 264.48,36.15 265.15,36.34 265.81,36.52 266.48,36.71 267.14,36.9 267.81,37.09 268.48,37.29 269.14,37.49 269.81,37.7 270.47,37.9 271.14,38.11 271.8,38.32 272.47,38.54 273.13,38.76 273.8,38.98 274.47,39.21 275.13,39.43 275.8,39.67 276.46,39.9 277.13,40.14 277.79,40.38 278.46,40.62 279.12,40.86 279.79,41.11 280.45,41.36 281.12,41.62 281.79,41.87 282.45,42.13 283.12,42.39 283.78,42.65 284.45,42.92 285.11,43.19 285.78,43.46 286.44,43.73 287.11,44 287.77,44.28 288.44,44.56 289.11,44.84 289.77,45.12 290.44,45.41 291.1,45.7 291.77,45.99 292.43,46.28 293.1,46.58 293.76,46.87 294.43,47.17 295.1,47.47 295.63,47.72 296.16,47.96 296.69,48.21 297.23,48.45 297.76,48.7 298.29,48.95 298.82,49.2 299.35,49.45 299.89,49.7 300.42,49.95 300.95,50.21 301.48,50.46 302.02,50.72 302.55,50.98 303.08,51.24 303.61,51.5 304.15,51.76 304.68,52.02 305.21,52.28 305.74,52.55 306.28,52.81 306.81,53.08 307.34,53.34 307.87,53.61 308.41,53.88 308.94,54.15 309.47,54.42 310,54.69 310.54,54.96 311.07,55.23 311.6,55.5 312.13,55.78 312.66,56.05 313.2,56.33 313.73,56.61 314.26,56.88 314.79,57.16 315.33,57.44 315.86,57.72 316.39,58 316.92,58.28 317.46,58.56 317.99,58.84 318.52,59.12 319.05,59.41 319.59,59.69 320.12,59.97 320.65,60.26 321.18,60.55 321.72,60.83 322.25,61.12 322.78,61.41 323.31,61.69 323.85,61.98 324.38,62.27 324.91,62.57 325.44,62.86 325.97,63.14 326.51,63.43 327.04,63.72 327.57,64.02 328.1,64.32 328.64,64.61 329.17,64.91 329.7,65.2 330.23,65.49 330.77,65.78 331.3,66.08 331.83,66.39 332.36,66.69 332.9,66.98 333.43,67.28 333.96,67.57 334.49,67.86 335.03,68.16 335.56,68.47 336.09,68.78 336.62,69.08 337.16,69.38 337.69,69.68 338.22,69.97 338.75,70.27 339.28,70.57 339.82,70.88 340.35,71.18 340.88,71.5 341.41,71.81 341.95,72.12 342.48,72.42 343.01,72.71 343.54,73 344.08,73.3 344.61,73.61 345.14,73.92 345.67,74.23 346.21,74.56 346.74,74.89 347.27,75.2 347.8,75.5 348.34,75.79 348.87,76.07 349.4,76.36 349.93,76.65 350.47,76.96 351,77.28 351.53,77.61 352.06,77.95 352.59,78.29 353.13,78.63 353.66,78.94 354.19,79.23 354.72,79.51 355.26,79.78 355.79,80.05 356.32,80.34 356.85,80.64 357.39,80.96 357.92,81.3 358.45,81.66 358.98,82.02 359.52,82.37 360.05,82.72 360.58,83.05 361.11,83.35 361.65,83.63 362.18,83.91 362.71,84.18 363.24,84.45 363.78,84.73 364.31,85.04 364.84,85.36 365.37,85.71 365.9,86.07 366.44,86.44 366.97,86.81 367.5,87.17 368.03,87.52 368.57,87.85 369.1,88.17 369.63,88.48 370.16,88.78 370.7,89.07 371.23,89.35 371.76,89.64 372.29,89.93 372.83,90.24 373.36,90.56 373.89,90.91 374.42,91.26 374.96,91.63 375.49,92.01 376.02,92.39 376.55,92.76 377.09,93.12 377.62,93.48 378.15,93.83 378.68,94.17 379.21,94.51 379.75,94.85 380.28,95.19 380.81,95.53 381.34,95.86 381.88,96.2 382.41,96.53 382.94,96.85 383.47,97.17 384.01,97.48 384.54,97.79 385.07,98.05 385.6,98.28 386.14,98.51 386.67,98.76 387.2,99.05 387.73,99.37 388.27,99.73 388.8,100.13 389.33,100.58 389.86,101.05 390.4,101.54 390.93,102.03 391.46,102.51 391.99,102.99 392.52,103.44 393.06,103.86 393.59,104.23 394.12,104.57 394.65,104.85 395.19,105.1 395.72,105.31 396.25,105.49 396.78,105.66 397.32,105.82 397.85,105.99 398.38,106.19 398.91,106.43 399.45,106.72 399.98,107.05 400.51,107.44 401.04,107.89 401.58,108.39 402.11,108.94 402.64,109.51 403.17,110.12 403.71,110.71 404.24,111.31 404.77,111.88 405.3,112.42 405.83,112.92 406.37,113.38 406.9,113.78 407.43,114.11 407.96,114.39 408.5,114.6 409.03,114.76 409.56,114.88 410.09,114.96 410.63,115.03 411.16,115.09 411.69,115.18 412.22,115.28 412.76,115.43 413.29,115.64 413.82,115.91 414.35,116.25 414.89,116.67 415.42,117.15 415.95,117.7 416.48,118.31 417.02,118.97 417.55,119.67 418.08,120.39 418.61,121.16 419.14,121.96 419.68,122.74 420.21,123.5 420.74,124.22 421.27,124.86 421.81,125.44 422.34,125.95 422.87,126.37 423.4,126.71 423.94,126.98 424.47,127.17 425,127.29 425.53,127.35 426.07,127.37 426.6,127.35 427.13,127.31 427.66,127.34 428.2,127.37 428.73,127.43 429.26,127.51 429.79,127.63 430.33,127.8 430.86,128.02 431.39,128.3 431.92,128.65 432.45,129.07 432.99,129.55 433.52,130.09 434.05,130.69 434.58,131.35 435.12,132.05 435.65,132.79 436.18,133.56 436.71,134.35 437.25,135.18 437.78,136.07 438.31,136.94 438.84,137.79 439.38,138.61 439.91,139.38 440.44,140.1 440.97,140.76"/>
<polyline fill="none" stroke="#ff00ff" stroke-width="1.0" stroke-linejoin="round" points="254.5,33.7 255.17,33.96 255.83,34.22 256.5,34.47 257.16,34.73 257.83,35 258.49,35.26 259.16,35.52 259.82,35.78 260.49,36.05 261.15,36.31 261.82,36.58 262.49,36.85 263.15,37.11 263.82,37.38 264.48,37.65 265.15,37.92 265.81,38.19 266.48,38.47 267.14,38.74 267.81,39.01 268.48,39.29 269.14,39.56 269.81,39.84 270.47,40.12 271.14,40.39 271.8,40.67 272.47,40.95 273.13,41.23 273.8,41.52 274.47,41.8 275.13,42.08 275.8,42.37 276.46,42.65 277.13,42.94 277.79,43.23 278.46,43.51 279.12,43.8 279.79,44.09 280.45,44.38 281.12,44.67 281.79,44.97 282.45,45.26 283.12,45.55 283.78,45.85 284.45,46.14 285.11,46.44 285.78,46.74 286.44,47.04 287.11,47.34 287.77,47.64 288.44,47.94 289.11,48.24 289.77,48.54 290.44,48.84 291.1,49.15 291.77,49.45 292.43,49.76 293.1,50.07 293.76,50.38 294.43,50.68 295.1,50.99 295.63,51.24 296.16,51.49 296.69,51.74 297.23,51.99 297.76,52.24 298.29,52.49 298.82,52.75 299.35,53 299.89,53.25 300.42,53.5 300.95,53.76 301.48,54.01 302.02,54.27 302.55,54.52 303.08,54.78 303.61,55.04 304.15,55.29 304.68,55.55 305.21,55.81 305.74,56.07 306.28,56.33 306.81,56.59 307.34,56.85 307.87,57.11 308.41,57.37 308.94,57.63 309.47,57.9 310,58.16 310.54,58.43 311.07,58.69 311.6,58.96 312.13,59.22 312.66,59.49 313.2,59.75 313.73,60.02 314.26,60.29 314.79,60.56 315.33,60.83 315.86,61.1 316.39,61.37 316.92,61.64 317.46,61.91 317.99,62.18 318.52,62.45 319.05,62.73 319.59,63 320.12,63.27 320.65,63.55 321.18,63.82 321.72,64.1 322.25,64.38 322.78,64.65 323.31,64.93 323.85,65.21 324.38,65.49 324.91,65.77 325.44,66.05 325.97,66.33 326.51,66.61 327.04,66.89 327.57,67.17 328.1,67.45 328.64,67.74 329.17,68.02 329.7,68.3 330.23,68.59 330.77,68.87 331.3,69.16 331.83,69.45 332.36,69.73 332.9,70.02 333.43,70.31 333.96,70.6 334.49,70.89 335.03,71.18 335.56,71.47 336.09,71.76 336.62,72.05 337.16,72.34 337.69,72.63 338.22,72.93 338.75,73.22 339.28,73.51 339.82,73.81 340.35,74.11 340.88,74.4 341.41,74.7 341.95,75 342.48,75.29 343.01,75.59 343.54,75.89 344.08,76.19 344.61,76.49 345.14,76.79 345.67,77.09 346.21,77.39 346.74,77.7 347.27,78 347.8,78.3 348.34,78.6 348.87,78.91 349.4,79.21 349.93,79.51 350.47,79.82 351,80.13 351.53,80.44 352.06,80.75 352.59,81.06 353.13,81.37 353.66,81.68 354.19,81.99 354.72,82.29 355.26,82.6 355.79,82.91 356.32,83.22 356.85,83.53 357.39,83.85 357.92,84.16 358.45,84.48 358.98,84.8 359.52,85.12 360.05,85.44 360.58,85.75 361.11,86.07 361.65,86.39 362.18,86.7 362.71,87.01 363.24,87.33 363.78,87.64 364.31,87.96 364.84,88.28 365.37,88.61 365.9,88.93 366.44,89.26 366.97,89.59 367.5,89.92 368.03,90.25 368.57,90.57 369.1,90.9 369.63,91.22 370.16,91.54 370.7,91.87 371.23,92.19 371.76,92.51 372.29,92.84 372.83,93.16 373.36,93.49 373.89,93.83 374.42,94.16 374.96,94.5 375.49,94.83 376.02,95.17 376.55,95.51 377.09,95.85 377.62,96.19 378.15,96.52 378.68,96.86 379.21,97.2 379.75,97.54 380.28,97.87 380.81,98.21 381.34,98.55 381.88,98.89 382.41,99.23 382.94,99.56 383.47,99.9 384.01,100.24 384.54,100.57 385.07,100.9 385.6,101.23 386.14,101.55 386.67,101.88 387.2,102.22 387.73,102.56 388.27,102.91 388.8,103.26 389.33,103.62 389.86,103.99 390.4,104.36 390.93,104.74 391.46,105.11 391.99,105.48 392.52,105.85 393.06,106.22 393.59,106.57 394.12,106.92 394.65,107.26 395.19,107.6 395.72,107.92 396.25,108.25 396.78,108.56 397.32,108.88 397.85,109.2 398.38,109.53 398.91,109.86 399.45,110.2 399.98,110.55 400.51,110.92 401.04,111.29 401.58,111.68 402.11,112.08 402.64,112.48 403.17,112.89 403.71,113.31 404.24,113.72 404.77,114.13 405.3,114.53 405.83,114.92 406.37,115.31 406.9,115.68 407.43,116.04 407.96,116.39 408.5,116.73 409.03,117.05 409.56,117.36 410.09,117.66 410.63,117.96 411.16,118.26 411.69,118.56 412.22,118.87 412.76,119.19 413.29,119.51 413.82,119.86 414.35,120.22 414.89,120.6 415.42,121 415.95,121.41 416.48,121.84 417.02,122.28 417.55,122.73 418.08,123.19 418.61,123.66 419.14,124.14 419.68,124.62 420.21,125.1 420.74,125.56 421.27,126.01 421.81,126.44 422.34,126.85 422.87,127.25 423.4,127.62 423.94,127.97 424.47,128.3 425,128.61 425.53,128.91 426.07,129.19 426.6,129.47 427.13,129.73 427.66,130.02 428.2,130.3 428.73,130.59 429.26,130.89 429.79,131.2 430.33,131.52 430.86,131.85 431.39,132.21 431.92,132.58 432.45,132.97 432.99,133.38 433.52,133.81 434.05,134.26 434.58,134.72 435.12,135.2 435.65,135.69 436.18,136.2 436.71,136.71 437.25,137.23 437.78,137.77 438.31,138.31 438.84,138.85 439.38,139.37 439.91,139.89 440.44,140.39 440.97,140.87"/>
<line x1="268.1" y1="83.6" x2="290.5" y2="83.6" stroke="#ff5050" stroke-width="2"/>
<text x="293.4" y="87" font-size="10" text-anchor="start" fill="#1c1c1c">2K</text>
<line x1="268.1" y1="96.3" x2="290.5" y2="96.3" stroke="#ffa060" stroke-width="1"/>
<text x="293.4" y="99.7" font-size="10" text-anchor="start" fill="#1c1c1c">4K</text>
<line x1="268.1" y1="109.3" x2="290.5" y2="109.3" stroke="#ffff40" stroke-width="1"/>
<text x="293.4" y="112.7" font-size="10" text-anchor="start" fill="#1c1c1c">6K</text>
<line x1="268.1" y1="121.6" x2="290.5" y2="121.6" stroke="#40e840" stroke-width="2"/>
<text x="293.4" y="125" font-size="10" text-anchor="start" fill="#1c1c1c">8K</text>
<line x1="268.1" y1="134.4" x2="290.5" y2="134.4" stroke="#80ffff" stroke-width="1"/>
<text x="293.4" y="137.8" font-size="10" text-anchor="start" fill="#1c1c1c">10K</text>
<line x1="316.8" y1="96.3" x2="340" y2="96.3" stroke="#4848ff" stroke-width="2"/>
<text x="342.9" y="99.7" font-size="10" text-anchor="start" fill="#1c1c1c">12K</text>
<line x1="316.8" y1="109.3" x2="340" y2="109.3" stroke="#6464c8" stroke-width="1"/>
<text x="342.9" y="112.7" font-size="10" text-anchor="start" fill="#1c1c1c">15K</text>
<line x1="316.8" y1="121.6" x2="340" y2="121.6" stroke="#8000ff" stroke-width="1.6"/>
<text x="342.9" y="125" font-size="10" text-anchor="start" fill="#1c1c1c">20K</text>
<line x1="316.8" y1="134.4" x2="340" y2="134.4" stroke="#ff50ff" stroke-width="2"/>
<text x="342.9" y="137.8" font-size="10" text-anchor="start" fill="#1c1c1c">30K</text>
<rect x="471.5" y="8.5" width="189" height="140" fill="none" stroke="#5c5c5c" stroke-width="1"/>
<line x1="489.5" y1="148.5" x2="489.5" y2="145.1" stroke="#5c5c5c" stroke-width="1.0"/>
<line x1="489.5" y1="8.5" x2="489.5" y2="11.9" stroke="#5c5c5c" stroke-width="1.0"/>
<line x1="514.03" y1="148.5" x2="514.03" y2="146.5" stroke="#5c5c5c" stroke-width="1.0"/>
<line x1="514.03" y1="8.5" x2="514.03" y2="10.5" stroke="#5c5c5c" stroke-width="1.0"/>
<line x1="538.57" y1="148.5" x2="538.57" y2="145.1" stroke="#5c5c5c" stroke-width="1.0"/>
<line x1="538.57" y1="8.5" x2="538.57" y2="11.9" stroke="#5c5c5c" stroke-width="1.0"/>
<line x1="563.11" y1="148.5" x2="563.11" y2="146.5" stroke="#5c5c5c" stroke-width="1.0"/>
<line x1="563.11" y1="8.5" x2="563.11" y2="10.5" stroke="#5c5c5c" stroke-width="1.0"/>
<line x1="587.64" y1="148.5" x2="587.64" y2="145.1" stroke="#5c5c5c" stroke-width="1.0"/>
<line x1="587.64" y1="8.5" x2="587.64" y2="11.9" stroke="#5c5c5c" stroke-width="1.0"/>
<line x1="612.17" y1="148.5" x2="612.17" y2="146.5" stroke="#5c5c5c" stroke-width="1.0"/>
<line x1="612.17" y1="8.5" x2="612.17" y2="10.5" stroke="#5c5c5c" stroke-width="1.0"/>
<line x1="636.71" y1="148.5" x2="636.71" y2="145.1" stroke="#5c5c5c" stroke-width="1.0"/>
<line x1="636.71" y1="8.5" x2="636.71" y2="11.9" stroke="#5c5c5c" stroke-width="1.0"/>
<line x1="471.5" y1="14.4" x2="474.9" y2="14.4" stroke="#5c5c5c" stroke-width="1.0"/>
<line x1="660.5" y1="14.4" x2="657.1" y2="14.4" stroke="#5c5c5c" stroke-width="1.0"/>
<line x1="471.5" y1="24.4" x2="473.5" y2="24.4" stroke="#5c5c5c" stroke-width="1.0"/>
<line x1="660.5" y1="24.4" x2="658.5" y2="24.4" stroke="#5c5c5c" stroke-width="1.0"/>
<line x1="471.5" y1="34.4" x2="474.9" y2="34.4" stroke="#5c5c5c" stroke-width="1.0"/>
<line x1="660.5" y1="34.4" x2="657.1" y2="34.4" stroke="#5c5c5c" stroke-width="1.0"/>
<line x1="471.5" y1="44.4" x2="473.5" y2="44.4" stroke="#5c5c5c" stroke-width="1.0"/>
<line x1="660.5" y1="44.4" x2="658.5" y2="44.4" stroke="#5c5c5c" stroke-width="1.0"/>
<line x1="471.5" y1="54.4" x2="474.9" y2="54.4" stroke="#5c5c5c" stroke-width="1.0"/>
<line x1="660.5" y1="54.4" x2="657.1" y2="54.4" stroke="#5c5c5c" stroke-width="1.0"/>
<line x1="471.5" y1="64.4" x2="473.5" y2="64.4" stroke="#5c5c5c" stroke-width="1.0"/>
<line x1="660.5" y1="64.4" x2="658.5" y2="64.4" stroke="#5c5c5c" stroke-width="1.0"/>
<line x1="471.5" y1="74.4" x2="474.9" y2="74.4" stroke="#5c5c5c" stroke-width="1.0"/>
<line x1="660.5" y1="74.4" x2="657.1" y2="74.4" stroke="#5c5c5c" stroke-width="1.0"/>
<line x1="471.5" y1="84.4" x2="473.5" y2="84.4" stroke="#5c5c5c" stroke-width="1.0"/>
<line x1="660.5" y1="84.4" x2="658.5" y2="84.4" stroke="#5c5c5c" stroke-width="1.0"/>
<line x1="471.5" y1="94.4" x2="474.9" y2="94.4" stroke="#5c5c5c" stroke-width="1.0"/>
<line x1="660.5" y1="94.4" x2="657.1" y2="94.4" stroke="#5c5c5c" stroke-width="1.0"/>
<line x1="471.5" y1="104.4" x2="473.5" y2="104.4" stroke="#5c5c5c" stroke-width="1.0"/>
<line x1="660.5" y1="104.4" x2="658.5" y2="104.4" stroke="#5c5c5c" stroke-width="1.0"/>
<line x1="471.5" y1="114.4" x2="474.9" y2="114.4" stroke="#5c5c5c" stroke-width="1.0"/>
<line x1="660.5" y1="114.4" x2="657.1" y2="114.4" stroke="#5c5c5c" stroke-width="1.0"/>
<line x1="471.5" y1="124.4" x2="473.5" y2="124.4" stroke="#5c5c5c" stroke-width="1.0"/>
<line x1="660.5" y1="124.4" x2="658.5" y2="124.4" stroke="#5c5c5c" stroke-width="1.0"/>
<line x1="471.5" y1="134.4" x2="474.9" y2="134.4" stroke="#5c5c5c" stroke-width="1.0"/>
<line x1="660.5" y1="134.4" x2="657.1" y2="134.4" stroke="#5c5c5c" stroke-width="1.0"/>
<line x1="471.5" y1="144.4" x2="473.5" y2="144.4" stroke="#5c5c5c" stroke-width="1.0"/>
<line x1="660.5" y1="144.4" x2="658.5" y2="144.4" stroke="#5c5c5c" stroke-width="1.0"/>
<text transform="translate(489 160.8) scale(0.92 1)" font-size="13.2" text-anchor="middle" fill="#1c1c1c">0.1</text>
<text transform="translate(538.07 160.8) scale(0.92 1)" font-size="13.2" text-anchor="middle" fill="#1c1c1c">0.2</text>
<text transform="translate(587.14 160.8) scale(0.92 1)" font-size="13.2" text-anchor="middle" fill="#1c1c1c">0.3</text>
<text transform="translate(636.21 160.8) scale(0.92 1)" font-size="13.2" text-anchor="middle" fill="#1c1c1c">0.4</text>
<text x="458.3" y="78" font-size="12" text-anchor="middle" fill="#1c1c1c" transform="rotate(-90 458.3 78)" dominant-baseline="central">ΔM (a.u.)</text>
<text x="566.5" y="174.5" font-size="12.5" text-anchor="middle" fill="#1c1c1c">1/B (T<tspan font-size="8" dy="-4.5">-1</tspan><tspan dy="4.5">)</tspan></text>
<text x="460.3" y="11.8" font-size="16.5" text-anchor="middle" fill="#1c1c1c">(c)</text>
<polyline fill="none" stroke="#ff0000" stroke-width="1.3" stroke-linejoin="round" points="473.6,102.14 473.8,119.41 473.99,132.49 474.19,140.23 474.39,141.99 474.58,137.66 474.78,127.67 474.98,112.99 475.17,94.95 475.37,75.23 475.56,58.88 475.76,44.13 475.96,32.17 476.15,24.06 476.35,20.53 476.55,21.95 476.74,28.1 476.94,38.36 477.13,51.78 477.33,67.11 477.53,84.65 477.72,102.53 477.92,117.72 478.12,128.87 478.31,135.02 478.51,135.67 478.7,130.8 478.9,120.91 479.1,106.49 479.29,89.73 479.49,72.5 479.69,57.72 479.88,44.58 480.08,34.24 480.27,27.61 480.47,25.24 480.67,27.43 480.86,34.12 481.06,44.2 481.26,56.68 481.45,70.37 481.65,84.03 481.85,96.22 482.04,105.87 482.24,112.23 482.43,114.88 482.63,113.78 482.83,109.33 483.02,102.25 483.22,92.91 483.42,82.23 483.61,71.06 483.81,60.25 484,51.11 484.2,44.41 484.4,40.65 484.59,40.05 484.79,42.44 484.99,47.5 485.18,54.82 485.38,63.67 485.57,73.2 485.77,82.05 485.97,89.78 486.16,95.79 486.36,99.64 486.56,101.06 486.75,100.03 486.95,96.56 487.14,91.28 487.34,84.89 487.54,78.05 487.73,70.79 487.93,63.45 488.13,57.37 488.32,53.05 488.52,50.79 488.71,50.71 488.91,52.72 489.11,56.55 489.3,61.78 489.5,67.87 489.7,73.87 489.89,76.81 490.09,78.65 490.29,80.28 490.48,81.52 490.68,82.46 490.87,83.15 491.07,83.64 491.27,83.99 491.46,84.21 491.66,84.32 491.86,84.33 492.05,84.21 492.25,83.94 492.44,83.47 492.64,82.73 492.84,81.65 493.03,80.13 493.23,78.12 493.43,75.58 493.62,72.54 493.82,69.68 494.01,67.45 494.21,65.44 494.41,64.1 494.6,63.56 494.8,63.88 495,65.05 495.19,66.99 495.39,69.57 495.58,72.6 495.78,75.58 495.98,78.15 496.17,80.41 496.37,82.2 496.57,83.44 496.76,84.17 496.96,84.15 497.15,83.34 497.35,81.79 497.55,79.57 497.74,76.85 497.94,73.71 498.14,70.02 498.33,66.6 498.53,63.71 498.73,61.61 498.92,60.45 499.12,60.37 499.31,61.53 499.51,63.68 499.71,66.66 499.9,70.22 500.1,74.11 500.3,77.93 500.49,81.58 500.69,84.79 500.88,87.28 501.08,88.71 501.28,88.91 501.47,88 501.67,86.04 501.87,83.18 502.06,79.66 502.26,75.75 502.45,71.83 502.65,68.15 502.85,64.96 503.04,62.51 503.24,60.99 503.44,60.5 503.63,61.23 503.83,63 504.02,65.59 504.22,68.76 504.42,72.27 504.61,75.98 504.81,79.78 505.01,83.14 505.2,85.81 505.4,87.6 505.59,88.31 505.79,87.88 505.99,86.43 506.18,84.08 506.38,81.04 506.58,77.55 506.77,74 506.97,71.26 507.17,68.88 507.36,67.03 507.56,65.82 507.75,65.33 507.95,65.55 508.15,66.44 508.34,67.89 508.54,69.78 508.74,71.92 508.93,74.14 509.13,77.2 509.32,80.11 509.52,82.49 509.72,84.17 509.91,85.06 510.11,85.11 510.31,84.33 510.5,82.82 510.7,80.71 510.89,78.18 511.09,75.45 511.29,73.49 511.48,72.18 511.68,71.15 511.88,70.46 512.07,70.07 512.27,70.01 512.46,70.29 512.66,70.88 512.86,71.7 513.05,72.67 513.25,73.73 513.45,75.19 513.64,77.26 513.84,79.03 514.04,80.44 514.23,81.34 514.43,81.68 514.62,81.45 514.82,80.69 515.02,79.46 515.21,77.86 515.41,76.02 515.61,74.22 515.8,73.61 516,73.11 516.19,72.75 516.39,72.46 516.59,72.2 516.78,72.1 516.98,72.16 517.18,72.4 517.37,72.8 517.57,73.35 517.76,74.01 517.96,75.46 518.16,76.91 518.35,78.11 518.55,78.98 518.75,79.52 518.94,79.63 519.14,79.31 519.33,78.58 519.53,77.5 519.73,76.15 519.92,74.63 520.12,73.38 520.32,72.37 520.51,71.44 520.71,70.67 520.9,70.12 521.1,69.85 521.3,69.89 521.49,70.25 521.69,70.91 521.89,71.84 522.08,72.96 522.28,74.27 522.48,75.71 522.67,76.99 522.87,78 523.06,78.68 523.26,78.98 523.46,78.86 523.65,78.35 523.85,77.49 524.05,76.34 524.24,75 524.44,73.56 524.63,72 524.83,70.53 525.03,69.25 525.22,68.28 525.42,67.69 525.62,67.54 525.81,67.87 526.01,68.65 526.2,69.84 526.4,71.36 526.6,73.1 526.79,74.49 526.99,75.68 527.19,76.67 527.38,77.4 527.58,77.8 527.77,77.87 527.97,77.59 528.17,76.99 528.36,76.12 528.56,75.06 528.76,73.88 528.95,72.17 529.15,70.06 529.34,68.16 529.54,66.63 529.74,65.6 529.93,65.14 530.13,65.31 530.33,66.1 530.52,67.46 530.72,69.29 530.92,71.45 531.11,73.42 531.31,74.4 531.5,75.26 531.7,75.92 531.9,76.36 532.09,76.53 532.29,76.43 532.49,76.08 532.68,75.5 532.88,74.75 533.07,73.89 533.27,72.97 533.47,70.38 533.66,67.97 533.86,65.93 534.06,64.44 534.25,63.59 534.45,63.46 534.64,64.07 534.84,65.36 535.04,67.24 535.23,69.56 535.43,72.15 535.63,73.41 535.82,74.14 536.02,74.75 536.21,75.2 536.41,75.46 536.61,75.51 536.8,75.34 537,74.98 537.2,74.44 537.39,73.79 537.59,73.05 537.78,71.33 537.98,68.67 538.18,66.3 538.37,64.44 538.57,63.2 538.77,62.71 538.96,62.99 539.16,64.01 539.36,65.7 539.55,67.92 539.75,70.51 539.94,72.82 540.14,73.6 540.34,74.32 540.53,74.92 540.73,75.35 540.93,75.58 541.12,75.59 541.32,75.37 541.51,74.93 541.71,74.32 541.91,73.57 542.1,72.74 542.3,70.09 542.5,67.57 542.69,65.42 542.89,63.82 543.08,62.91 543.28,62.75 543.48,63.36 543.67,64.71 543.87,66.69 544.07,69.16 544.26,71.92 544.46,73.43 544.65,74.32 544.85,75.1 545.05,75.72 545.24,76.11 545.44,76.25 545.64,76.13 545.83,75.75 546.03,75.14 546.22,74.35 546.42,73.41 546.62,71.58 546.81,68.83 547.01,66.42 547.21,64.52 547.4,63.29 547.6,62.8 547.8,63.09 547.99,64.14 548.19,65.85 548.38,68.08 548.58,70.67 548.78,73.13 548.97,74.33 549.17,75.45 549.37,76.4 549.56,77.1 549.76,77.5 549.95,77.54 550.15,77.23 550.35,76.57 550.54,75.61 550.74,74.42 550.94,73.09 551.13,70.65 551.33,68.31 551.52,66.36 551.72,64.94 551.92,64.15 552.11,64.05 552.31,64.65 552.51,65.88 552.7,67.65 552.9,69.81 553.09,72.2 553.29,74.07 553.49,75.58 553.68,76.92 553.88,77.98 554.08,78.68 554.27,78.96 554.47,78.78 554.66,78.15 554.86,77.12 555.06,75.75 555.25,74.15 555.45,72.22 555.65,70.04 555.84,68.13 556.04,66.62 556.24,65.63 556.43,65.23 556.63,65.45 556.82,66.25 557.02,67.58 557.22,69.32 557.41,71.33 557.61,73.43 557.81,75.33 558,77.09 558.2,78.57 558.39,79.6 558.59,80.13 558.79,80.14 558.98,79.6 559.18,78.58 559.38,77.16 559.57,75.44 559.77,73.56 559.96,71.65 560.16,69.9 560.36,68.45 560.55,67.39 560.75,66.82 560.95,66.76 561.14,67.21 561.34,68.13 561.53,69.44 561.73,71.03 561.93,72.78 562.12,74.63 562.32,76.42 562.52,77.98 562.71,79.19 562.91,79.96 563.11,80.23 563.3,79.98 563.5,79.24 563.69,78.07 563.89,76.56 564.09,74.82 564.28,73.1 564.48,71.61 564.68,70.31 564.87,69.3 565.07,68.65 565.26,68.39 565.46,68.56 565.66,69.12 565.85,70.02 566.05,71.18 566.25,72.52 566.44,73.96 566.64,75.74 566.83,77.36 567.03,78.7 567.23,79.67 567.42,80.18 567.62,80.2 567.82,79.74 568.01,78.82 568.21,77.54 568.4,75.98 568.6,74.27 568.8,73 568.99,71.94 569.19,71.07 569.39,70.45 569.58,70.12 569.78,70.1 569.97,70.38 570.17,70.94 570.37,71.72 570.56,72.66 570.76,73.68 570.96,75.1 571.15,76.74 571.35,78.17 571.55,79.29 571.74,80.01 571.94,80.27 572.13,80.07 572.33,79.42 572.53,78.37 572.72,77.01 572.92,75.44 573.12,74.04 573.31,73.26 573.51,72.57 573.7,72.03 573.9,71.67 574.1,71.53 574.29,71.61 574.49,71.9 574.69,72.37 574.88,73 575.08,73.72 575.27,74.52 575.47,76.06 575.67,77.46 575.86,78.61 576.06,79.44 576.26,79.87 576.45,79.89 576.65,79.49 576.84,78.72 577.04,77.65 577.24,76.35 577.43,74.93 577.63,74.11 577.83,73.51 578.02,73.01 578.22,72.65 578.41,72.45 578.61,72.43 578.81,72.58 579,72.89 579.2,73.34 579.4,73.88 579.59,74.48 579.79,75.48 579.99,76.76 580.18,77.87 580.38,78.73 580.57,79.28 580.77,79.48 580.97,79.32 581.16,78.83 581.36,78.03 581.56,77.01 581.75,75.84 581.95,74.81 582.14,74.33 582.34,73.91 582.54,73.59 582.73,73.38 582.93,73.3 583.13,73.35 583.32,73.53 583.52,73.82 583.71,74.19 583.91,74.61 584.11,75.06 584.3,76.17 584.5,77.18 584.7,78.02 584.89,78.61 585.09,78.92 585.28,78.94 585.48,78.66 585.68,78.11 585.87,77.35 586.07,76.43 586.27,75.43 586.46,74.91 586.66,74.6 586.85,74.35 587.05,74.17 587.25,74.08 587.44,74.08 587.64,74.16 587.84,74.33 588.03,74.55 588.23,74.82 588.43,75.11 588.62,75.7 588.82,76.57 589.01,77.32 589.21,77.9 589.41,78.27 589.6,78.4 589.8,78.29 590,77.96 590.19,77.44 590.39,76.78 590.58,76.01 590.78,75.32 590.98,75.11 591.17,74.93 591.37,74.78 591.57,74.68 591.76,74.63 591.96,74.65 592.15,74.73 592.35,74.86 592.55,75.03 592.74,75.24 592.94,75.46 593.14,76.21 593.33,76.93 593.53,77.54 593.72,77.98 593.92,78.22 594.12,78.26 594.31,78.08 594.51,77.71 594.71,77.17 594.9,76.52 595.1,75.8 595.29,75.43 595.49,75.24 595.69,75.08 595.88,74.96 596.08,74.89 596.28,74.88 596.47,74.92 596.67,75.02 596.87,75.16 597.06,75.34 597.26,75.55 597.45,75.98 597.65,76.66 597.85,77.27 598.04,77.74 598.24,78.06 598.44,78.19 598.63,78.13 598.83,77.88 599.02,77.48 599.22,76.94 599.42,76.32 599.61,75.74 599.81,75.55 600.01,75.39 600.2,75.25 600.4,75.16 600.59,75.12 600.79,75.13 600.99,75.2 601.18,75.31 601.38,75.47 601.58,75.66 601.77,75.86 601.97,76.44 602.16,77.02 602.36,77.51 602.56,77.86 602.75,78.05 602.95,78.08 603.15,77.93 603.34,77.63 603.54,77.21 603.73,76.68 603.93,76.1 604.13,75.77 604.32,75.59 604.52,75.44 604.72,75.32 604.91,75.25 605.11,75.22 605.31,75.25 605.5,75.33 605.7,75.44 605.89,75.6 606.09,75.77 606.29,76.09 606.48,76.62 606.68,77.08 606.88,77.45 607.07,77.68 607.27,77.78 607.46,77.73 607.66,77.54 607.86,77.22 608.05,76.8 608.25,76.32 608.45,75.85 608.64,75.67 608.84,75.52 609.03,75.39 609.23,75.29 609.43,75.25 609.62,75.25 609.82,75.29 610.02,75.39 610.21,75.51 610.41,75.67 610.6,75.83 610.8,76.26 611,76.69 611.19,77.05 611.39,77.31 611.59,77.45 611.78,77.47 611.98,77.37 612.18,77.15 612.37,76.84 612.57,76.46 612.76,76.02 612.96,75.75 613.16,75.59 613.35,75.45 613.55,75.34 613.75,75.27 613.94,75.24 614.14,75.26 614.33,75.33 614.53,75.43 614.73,75.57 614.92,75.73 615.12,75.98 615.32,76.41 615.51,76.79 615.71,77.09 615.9,77.3 616.1,77.39 616.3,77.36 616.49,77.22 616.69,76.96 616.89,76.62 617.08,76.22 617.28,75.81 617.47,75.65 617.67,75.49 617.87,75.37 618.06,75.28 618.26,75.23 618.46,75.22 618.65,75.27 618.85,75.35 619.04,75.47 619.24,75.62 619.44,75.78 619.63,76.16 619.83,76.56 620.03,76.9 620.22,77.15 620.42,77.3 620.62,77.34 620.81,77.25 621.01,77.06 621.2,76.77 621.4,76.4 621.6,75.99 621.79,75.71 621.99,75.55 622.19,75.41 622.38,75.3 622.58,75.22 622.77,75.2 622.97,75.21 623.17,75.28 623.36,75.38 623.56,75.52 623.76,75.67 623.95,75.91 624.15,76.32 624.34,76.68 624.54,76.98 624.74,77.18 624.93,77.27 625.13,77.25 625.33,77.12 625.52,76.88 625.72,76.56 625.91,76.18 626.11,75.77 626.31,75.61 626.5,75.45 626.7,75.33 626.9,75.23 627.09,75.18 627.29,75.18 627.48,75.22 627.68,75.3 627.88,75.42 628.07,75.57 628.27,75.73 628.47,76.08 628.66,76.46 628.86,76.79 629.06,77.03 629.25,77.18 629.45,77.22 629.64,77.15 629.84,76.96 630.04,76.69 630.23,76.34 630.43,75.95 630.63,75.67 630.82,75.51 631.02,75.37 631.21,75.25 631.41,75.18 631.61,75.15 631.8,75.17 632,75.23 632.2,75.33 632.39,75.47 632.59,75.62 632.78,75.84 632.98,76.23 633.18,76.58 633.37,76.87 633.57,77.06 633.77,77.16 633.96,77.14 634.16,77.02 634.35,76.79 634.55,76.49 634.75,76.13 634.94,75.74 635.14,75.57 635.34,75.42 635.53,75.29 635.73,75.19 635.92,75.14 636.12,75.13 636.32,75.17 636.51,75.25 636.71,75.37 636.91,75.52 637.1,75.68 637.3,76 637.5,76.37 637.69,76.68 637.89,76.92 638.08,77.06 638.28,77.1 638.48,77.04 638.67,76.87 638.87,76.61 639.07,76.29 639.26,75.92 639.46,75.63 639.65,75.47 639.85,75.33 640.05,75.21 640.24,75.14 640.44,75.11 640.64,75.12 640.83,75.18 641.03,75.28 641.22,75.41 641.42,75.57 641.62,75.78 641.81,76.15 642.01,76.48 642.21,76.75 642.4,76.94 642.6,77.04 642.79,77.03 642.99,76.91 643.19,76.71 643.38,76.42 643.58,76.08 643.78,75.71 643.97,75.53 644.17,75.38 644.36,75.25 644.56,75.15 644.76,75.09 644.95,75.09 645.15,75.12 645.35,75.2 645.54,75.32 645.74,75.46 645.94,75.62 646.13,75.93 646.33,76.27 646.52,76.57 646.72,76.8 646.92,76.94 647.11,76.99 647.31,76.93 647.51,76.77 647.7,76.53 647.9,76.23 648.09,75.88 648.29,75.6 648.49,75.43 648.68,75.29 648.88,75.17 649.08,75.1 649.27,75.06 649.47,75.07 649.66,75.13 649.86,75.23 650.06,75.36 650.25,75.52 650.45,75.71 650.65,76.06 650.84,76.38 651.04,76.64 651.23,76.83 651.43,76.92 651.63,76.91 651.82,76.81 652.02,76.62 652.22,76.35 652.41,76.03 652.61,75.68 652.8,75.49 653,75.34 653.2,75.21 653.39,75.11 653.59,75.05 653.79,75.04 653.98,75.07 654.18,75.15 654.38,75.27 654.57,75.41 654.77,75.57 654.96,75.85 655.16,76.18 655.36,76.47 655.55,76.69 655.75,76.83 655.95,76.87 656.14,76.82 656.34,76.68 656.53,76.45 656.73,76.16 656.93,75.84 657.12,75.56 657.32,75.4 657.52,75.25 657.71,75.13 657.91,75.05 658.1,75.02 658.3,75.03 658.5,75.08 658.69,75.18 658.89,75.31 659.09,75.46 659.28,75.65 659.48,75.98 659.67,76.28 659.87,76.53 660.07,76.71 660.26,76.8"/>
<polyline fill="none" stroke="#ff8000" stroke-width="1.3" stroke-linejoin="round" points="473.6,100.95 473.8,117.46 473.99,129.94 474.19,137.32 474.39,138.97 474.58,134.8 474.78,125.24 474.98,111.2 475.17,93.99 475.37,75.19 475.56,59.62 475.76,45.59 475.96,34.23 476.15,26.55 476.35,23.21 476.55,24.59 476.74,30.46 476.94,40.22 477.13,52.95 477.33,67.49 477.53,84.11 477.72,101.03 477.92,115.38 478.12,125.89 478.31,131.68 478.51,132.25 478.7,127.63 478.9,118.26 479.1,104.65 479.29,88.84 479.49,72.61 479.69,58.71 479.88,46.36 480.08,36.66 480.27,30.45 480.47,28.26 480.67,30.34 480.86,36.64 481.06,46.11 481.26,57.81 481.45,70.62 481.65,83.4 481.85,94.8 482.04,103.8 482.24,109.71 482.43,112.17 482.63,111.11 482.83,106.95 483.02,100.33 483.22,91.63 483.42,81.68 483.61,71.3 483.81,61.26 484,52.79 484.2,46.59 484.4,43.12 484.59,42.58 484.79,44.81 484.99,49.52 485.18,56.3 485.38,64.49 485.57,73.3 485.77,81.46 485.97,88.57 486.16,94.11 486.36,97.63 486.56,98.92 486.75,97.96 486.95,94.76 487.14,89.9 487.34,84.02 487.54,77.75 487.73,71.1 487.93,64.38 488.13,58.82 488.32,54.88 488.52,52.83 488.71,52.77 488.91,54.62 489.11,58.13 489.3,62.9 489.5,68.46 489.7,73.92 489.89,76.59 490.09,78.26 490.29,79.73 490.48,80.86 490.68,81.7 490.87,82.32 491.07,82.76 491.27,83.07 491.46,83.26 491.66,83.36 491.86,83.36 492.05,83.25 492.25,83 492.44,82.56 492.64,81.89 492.84,80.91 493.03,79.55 493.23,77.73 493.43,75.46 493.62,72.74 493.82,70.17 494.01,68.18 494.21,66.39 494.41,65.2 494.6,64.73 494.8,65.02 495,66.07 495.19,67.8 495.39,70.1 495.58,72.8 495.78,75.45 495.98,77.72 496.17,79.73 496.37,81.31 496.57,82.4 496.76,83.04 496.96,83.01 497.15,82.3 497.35,80.92 497.55,78.96 497.74,76.56 497.94,73.79 498.14,70.55 498.33,67.55 498.53,65.02 498.73,63.18 498.92,62.18 499.12,62.12 499.31,63.14 499.51,65.03 499.71,67.64 499.9,70.76 500.1,74.14 500.3,77.47 500.49,80.65 500.69,83.44 500.88,85.59 501.08,86.82 501.28,86.99 501.47,86.18 501.67,84.47 501.87,82 502.06,78.95 502.26,75.57 502.45,72.18 502.65,69.01 502.85,66.27 503.04,64.17 503.24,62.87 503.44,62.46 503.63,63.1 503.83,64.63 504.02,66.85 504.22,69.58 504.42,72.58 504.61,75.75 504.81,78.99 505.01,81.85 505.2,84.12 505.4,85.63 505.59,86.22 505.79,85.85 505.99,84.61 506.18,82.61 506.38,80.02 506.58,77.06 506.77,74.06 506.97,71.75 507.17,69.74 507.36,68.19 507.56,67.18 507.75,66.77 507.95,66.96 508.15,67.71 508.34,68.94 508.54,70.52 508.74,72.32 508.93,74.18 509.13,76.74 509.32,79.17 509.52,81.15 509.72,82.54 509.91,83.28 510.11,83.3 510.31,82.65 510.5,81.39 510.7,79.63 510.89,77.53 511.09,75.27 511.29,73.65 511.48,72.57 511.68,71.72 511.88,71.15 512.07,70.83 512.27,70.79 512.46,71.03 512.66,71.51 512.86,72.18 513.05,72.99 513.25,73.85 513.45,75.04 513.64,76.73 513.84,78.18 514.04,79.32 514.23,80.05 514.43,80.32 514.62,80.13 514.82,79.5 515.02,78.49 515.21,77.19 515.41,75.7 515.61,74.24 515.8,73.74 516,73.33 516.19,73.04 516.39,72.81 516.59,72.6 516.78,72.51 516.98,72.56 517.18,72.75 517.37,73.08 517.57,73.52 517.76,74.04 517.96,75.19 518.16,76.35 518.35,77.3 518.55,77.98 518.75,78.4 518.94,78.49 519.14,78.23 519.33,77.64 519.53,76.78 519.73,75.71 519.92,74.5 520.12,73.51 520.32,72.71 520.51,71.98 520.71,71.37 520.9,70.94 521.1,70.73 521.3,70.76 521.49,71.04 521.69,71.56 521.89,72.28 522.08,73.16 522.28,74.17 522.48,75.29 522.67,76.28 522.87,77.07 523.06,77.59 523.26,77.81 523.46,77.71 523.65,77.31 523.85,76.64 524.05,75.74 524.24,74.7 524.44,73.59 524.63,72.39 524.83,71.26 525.03,70.28 525.22,69.53 525.42,69.08 525.62,68.97 525.81,69.22 526.01,69.82 526.2,70.73 526.4,71.89 526.6,73.21 526.79,74.26 526.99,75.16 527.19,75.91 527.38,76.45 527.58,76.75 527.77,76.79 527.97,76.58 528.17,76.12 528.36,75.46 528.56,74.65 528.76,73.76 528.95,72.48 529.15,70.89 529.34,69.47 529.54,68.33 529.74,67.56 529.93,67.22 530.13,67.35 530.33,67.94 530.52,68.96 530.72,70.32 530.92,71.92 531.11,73.38 531.31,74.1 531.5,74.73 531.7,75.21 531.9,75.53 532.09,75.65 532.29,75.57 532.49,75.3 532.68,74.87 532.88,74.32 533.07,73.68 533.27,73.01 533.47,71.12 533.66,69.35 533.86,67.87 534.06,66.79 534.25,66.18 534.45,66.09 534.64,66.53 534.84,67.47 535.04,68.83 535.23,70.51 535.43,72.38 535.63,73.28 535.82,73.8 536.02,74.24 536.21,74.56 536.41,74.74 536.61,74.77 536.8,74.64 537,74.37 537.2,73.99 537.39,73.51 537.59,72.99 537.78,71.76 537.98,69.87 538.18,68.19 538.37,66.87 538.57,66 538.77,65.67 538.96,65.87 539.16,66.6 539.36,67.8 539.55,69.37 539.75,71.19 539.94,72.81 540.14,73.36 540.34,73.86 540.53,74.28 540.73,74.59 540.93,74.75 541.12,74.75 541.32,74.6 541.51,74.3 541.71,73.87 541.91,73.35 542.1,72.78 542.3,70.95 542.5,69.22 542.69,67.74 542.89,66.66 543.08,66.04 543.28,65.94 543.48,66.37 543.67,67.3 543.87,68.66 544.07,70.35 544.26,72.24 544.46,73.27 544.65,73.88 544.85,74.41 545.05,74.83 545.24,75.09 545.44,75.19 545.64,75.1 545.83,74.84 546.03,74.43 546.22,73.9 546.42,73.27 546.62,72.05 546.81,70.21 547.01,68.6 547.21,67.34 547.4,66.52 547.6,66.21 547.8,66.41 547.99,67.12 548.19,68.26 548.38,69.75 548.58,71.47 548.78,73.1 548.97,73.9 549.17,74.64 549.37,75.27 549.56,75.73 549.76,75.98 549.95,76.01 550.15,75.8 550.35,75.37 550.54,74.74 550.74,73.97 550.94,73.1 551.13,71.51 551.33,70 551.52,68.74 551.72,67.82 551.92,67.32 552.11,67.27 552.31,67.66 552.51,68.47 552.7,69.61 552.9,71.01 553.09,72.55 553.29,73.75 553.49,74.72 553.68,75.58 553.88,76.25 554.08,76.7 554.27,76.87 554.47,76.76 554.66,76.35 554.86,75.7 555.06,74.83 555.25,73.81 555.45,72.6 555.65,71.23 555.84,70.02 556.04,69.08 556.24,68.47 556.43,68.23 556.63,68.37 556.82,68.88 557.02,69.72 557.22,70.81 557.41,72.07 557.61,73.39 557.81,74.56 558,75.66 558.2,76.57 558.39,77.21 558.59,77.54 558.79,77.54 558.98,77.21 559.18,76.59 559.38,75.71 559.57,74.66 559.77,73.51 559.96,72.35 560.16,71.28 560.36,70.4 560.55,69.77 560.75,69.43 560.95,69.4 561.14,69.69 561.34,70.26 561.53,71.06 561.73,72.03 561.93,73.09 562.12,74.21 562.32,75.3 562.52,76.24 562.71,76.96 562.91,77.42 563.11,77.58 563.3,77.44 563.5,77 563.69,76.3 563.89,75.4 564.09,74.37 564.28,73.35 564.48,72.48 564.68,71.72 564.87,71.13 565.07,70.75 565.26,70.61 565.46,70.72 565.66,71.05 565.85,71.59 566.05,72.28 566.25,73.07 566.44,73.92 566.64,74.96 566.83,75.91 567.03,76.7 567.23,77.26 567.42,77.55 567.62,77.57 567.82,77.3 568.01,76.77 568.21,76.03 568.4,75.14 568.6,74.16 568.8,73.44 568.99,72.84 569.19,72.34 569.39,71.99 569.58,71.81 569.78,71.81 569.97,71.98 570.17,72.31 570.37,72.76 570.56,73.3 570.76,73.88 570.96,74.69 571.15,75.62 571.35,76.43 571.55,77.06 571.74,77.47 571.94,77.62 572.13,77.51 572.33,77.14 572.53,76.56 572.72,75.8 572.92,74.93 573.12,74.16 573.31,73.73 573.51,73.35 573.7,73.06 573.9,72.87 574.1,72.8 574.29,72.85 574.49,73.02 574.69,73.29 574.88,73.64 575.08,74.04 575.27,74.49 575.47,75.33 575.67,76.1 575.86,76.73 576.06,77.18 576.26,77.42 576.45,77.43 576.65,77.22 576.84,76.81 577.04,76.23 577.24,75.53 577.43,74.77 577.63,74.34 577.83,74.02 578.02,73.76 578.22,73.57 578.41,73.48 578.61,73.47 578.81,73.56 579,73.73 579.2,73.98 579.4,74.27 579.59,74.6 579.79,75.13 579.99,75.81 580.18,76.4 580.38,76.86 580.57,77.15 580.77,77.26 580.97,77.18 581.16,76.92 581.36,76.51 581.56,75.98 581.75,75.38 581.95,74.84 582.14,74.6 582.34,74.39 582.54,74.23 582.73,74.13 582.93,74.09 583.13,74.12 583.32,74.22 583.52,74.37 583.71,74.57 583.91,74.79 584.11,75.03 584.3,75.6 584.5,76.12 584.7,76.54 584.89,76.84 585.09,77 585.28,77.01 585.48,76.87 585.68,76.6 585.87,76.21 586.07,75.75 586.27,75.25 586.46,75 586.66,74.84 586.85,74.72 587.05,74.64 587.25,74.6 587.44,74.6 587.64,74.65 587.84,74.73 588.03,74.85 588.23,74.99 588.43,75.14 588.62,75.43 588.82,75.86 589.01,76.23 589.21,76.52 589.41,76.7 589.6,76.77 589.8,76.72 590,76.56 590.19,76.31 590.39,75.99 590.58,75.62 590.78,75.29 590.98,75.19 591.17,75.1 591.37,75.04 591.57,74.99 591.76,74.98 591.96,74.99 592.15,75.03 592.35,75.09 592.55,75.18 592.74,75.29 592.94,75.4 593.14,75.76 593.33,76.11 593.53,76.4 593.72,76.61 593.92,76.73 594.12,76.74 594.31,76.66 594.51,76.49 594.71,76.24 594.9,75.94 595.1,75.6 595.29,75.43 595.49,75.35 595.69,75.28 595.88,75.23 596.08,75.2 596.28,75.19 596.47,75.22 596.67,75.27 596.87,75.34 597.06,75.43 597.26,75.53 597.45,75.73 597.65,76.05 597.85,76.33 598.04,76.55 598.24,76.7 598.44,76.76 598.63,76.73 598.83,76.62 599.02,76.44 599.22,76.2 599.42,75.92 599.61,75.66 599.81,75.58 600.01,75.51 600.2,75.46 600.4,75.42 600.59,75.41 600.79,75.42 600.99,75.45 601.18,75.51 601.38,75.58 601.58,75.67 601.77,75.76 601.97,76.03 602.16,76.29 602.36,76.51 602.56,76.66 602.75,76.74 602.95,76.75 603.15,76.69 603.34,76.55 603.54,76.36 603.73,76.13 603.93,75.88 604.13,75.73 604.32,75.65 604.52,75.58 604.72,75.53 604.91,75.5 605.11,75.49 605.31,75.5 605.5,75.53 605.7,75.58 605.89,75.65 606.09,75.72 606.29,75.86 606.48,76.09 606.68,76.28 606.88,76.44 607.07,76.54 607.27,76.58 607.46,76.55 607.66,76.47 607.86,76.33 608.05,76.15 608.25,75.95 608.45,75.75 608.64,75.67 608.84,75.61 609.03,75.55 609.23,75.51 609.43,75.49 609.62,75.49 609.82,75.51 610.02,75.55 610.21,75.6 610.41,75.67 610.6,75.73 610.8,75.91 611,76.09 611.19,76.23 611.39,76.34 611.59,76.4 611.78,76.4 611.98,76.36 612.18,76.27 612.37,76.14 612.57,75.98 612.76,75.8 612.96,75.69 613.16,75.62 613.35,75.57 613.55,75.52 613.75,75.49 613.94,75.48 614.14,75.49 614.33,75.52 614.53,75.56 614.73,75.61 614.92,75.68 615.12,75.78 615.32,75.95 615.51,76.1 615.71,76.22 615.9,76.3 616.1,76.33 616.3,76.32 616.49,76.26 616.69,76.16 616.89,76.02 617.08,75.86 617.28,75.7 617.47,75.63 617.67,75.57 617.87,75.52 618.06,75.49 618.26,75.47 618.46,75.47 618.65,75.48 618.85,75.52 619.04,75.56 619.24,75.62 619.44,75.68 619.63,75.83 619.83,75.98 620.03,76.11 620.22,76.2 620.42,76.26 620.62,76.27 620.81,76.24 621.01,76.16 621.2,76.05 621.4,75.91 621.6,75.75 621.79,75.64 621.99,75.58 622.19,75.53 622.38,75.49 622.58,75.46 622.77,75.45 622.97,75.45 623.17,75.48 623.36,75.52 623.56,75.57 623.76,75.62 623.95,75.71 624.15,75.86 624.34,76 624.54,76.1 624.74,76.18 624.93,76.21 625.13,76.2 625.33,76.15 625.52,76.06 625.72,75.94 625.91,75.8 626.11,75.65 626.31,75.59 626.5,75.53 626.7,75.49 626.9,75.45 627.09,75.43 627.29,75.43 627.48,75.45 627.68,75.47 627.88,75.52 628.07,75.57 628.27,75.63 628.47,75.75 628.66,75.89 628.86,76 629.06,76.09 629.25,76.14 629.45,76.15 629.64,76.12 629.84,76.06 630.04,75.96 630.23,75.84 630.43,75.7 630.63,75.6 630.82,75.54 631.02,75.49 631.21,75.45 631.41,75.42 631.61,75.41 631.8,75.42 632,75.44 632.2,75.47 632.39,75.52 632.59,75.57 632.78,75.65 632.98,75.78 633.18,75.9 633.37,76 633.57,76.06 633.77,76.09 633.96,76.09 634.16,76.04 634.35,75.96 634.55,75.86 634.75,75.74 634.94,75.6 635.14,75.54 635.34,75.49 635.53,75.45 635.73,75.42 635.92,75.4 636.12,75.39 636.32,75.41 636.51,75.43 636.71,75.47 636.91,75.52 637.1,75.57 637.3,75.68 637.5,75.8 637.69,75.9 637.89,75.98 638.08,76.03 638.28,76.04 638.48,76.01 638.67,75.96 638.87,75.87 639.07,75.76 639.26,75.64 639.46,75.55 639.65,75.5 639.85,75.45 640.05,75.41 640.24,75.39 640.44,75.38 640.64,75.38 640.83,75.4 641.03,75.43 641.22,75.47 641.42,75.52 641.62,75.59 641.81,75.7 642.01,75.81 642.21,75.9 642.4,75.95 642.6,75.98 642.79,75.98 642.99,75.94 643.19,75.87 643.38,75.78 643.58,75.67 643.78,75.56 643.97,75.5 644.17,75.45 644.36,75.41 644.56,75.38 644.76,75.36 644.95,75.36 645.15,75.37 645.35,75.39 645.54,75.43 645.74,75.47 645.94,75.52 646.13,75.61 646.33,75.72 646.52,75.81 646.72,75.88 646.92,75.92 647.11,75.93 647.31,75.91 647.51,75.86 647.7,75.79 647.9,75.7 648.09,75.59 648.29,75.5 648.49,75.45 648.68,75.41 648.88,75.37 649.08,75.35 649.27,75.34 649.47,75.34 649.66,75.36 649.86,75.39 650.06,75.43 650.25,75.47 650.45,75.53 650.65,75.63 650.84,75.72 651.04,75.8 651.23,75.85 651.43,75.88 651.63,75.88 651.82,75.84 652.02,75.79 652.22,75.71 652.41,75.61 652.61,75.51 652.8,75.45 653,75.41 653.2,75.37 653.39,75.34 653.59,75.32 653.79,75.32 653.98,75.33 654.18,75.35 654.38,75.38 654.57,75.42 654.77,75.47 654.96,75.55 655.16,75.64 655.36,75.72 655.55,75.78 655.75,75.82 655.95,75.83 656.14,75.82 656.34,75.77 656.53,75.71 656.73,75.63 656.93,75.53 657.12,75.46 657.32,75.41 657.52,75.37 657.71,75.33 657.91,75.31 658.1,75.3 658.3,75.3 658.5,75.32 658.69,75.34 658.89,75.38 659.09,75.42 659.28,75.47 659.48,75.56 659.67,75.64 659.87,75.71 660.07,75.76 660.26,75.78"/>
<polyline fill="none" stroke="#ffff00" stroke-width="1.3" stroke-linejoin="round" points="473.6,99.12 473.8,114.47 473.99,126.04 474.19,132.85 474.39,134.33 474.58,130.41 474.78,121.51 474.98,108.47 475.17,92.52 475.37,75.13 475.56,60.75 475.76,47.82 475.96,37.37 476.15,30.32 476.35,27.29 476.55,28.6 476.74,34.03 476.94,43.02 477.13,54.73 477.33,68.07 477.53,83.29 477.72,98.75 477.92,111.84 478.12,121.41 478.31,126.65 478.51,127.12 478.7,122.86 478.9,114.3 479.1,101.89 479.29,87.51 479.49,72.78 479.69,60.18 479.88,49.01 480.08,40.26 480.27,34.68 480.47,32.74 480.67,34.66 480.86,40.37 481.06,48.93 481.26,59.48 481.45,71.01 481.65,82.48 481.85,92.69 482.04,100.74 482.24,106.01 482.43,108.17 482.63,107.2 482.83,103.44 483.02,97.52 483.22,89.74 483.42,80.88 483.61,71.64 483.81,62.73 484,55.23 484.2,49.76 484.4,46.71 484.59,46.27 484.79,48.27 484.99,52.44 485.18,58.44 485.38,65.67 485.57,73.43 485.77,80.6 485.97,86.84 486.16,91.68 486.36,94.75 486.56,95.86 486.75,95 486.95,92.18 487.14,87.92 487.34,82.78 487.54,77.31 487.73,71.53 487.93,65.7 488.13,60.89 488.32,57.48 488.52,55.73 488.71,55.7 488.91,57.31 489.11,60.36 489.3,64.49 489.5,69.29 489.7,73.99 489.89,76.29 490.09,77.71 490.29,78.97 490.48,79.93 490.68,80.65 490.87,81.17 491.07,81.54 491.27,81.79 491.46,81.94 491.66,82.02 491.86,82.01 492.05,81.9 492.25,81.68 492.44,81.31 492.64,80.74 492.84,79.9 493.03,78.74 493.23,77.21 493.43,75.29 493.62,73 493.82,70.85 494.01,69.19 494.21,67.69 494.41,66.71 494.6,66.32 494.8,66.57 495,67.45 495.19,68.91 495.39,70.83 495.58,73.07 495.78,75.27 495.98,77.15 496.17,78.81 496.37,80.11 496.57,81.01 496.76,81.52 496.96,81.49 497.15,80.89 497.35,79.75 497.55,78.14 497.74,76.17 497.94,73.9 498.14,71.25 498.33,68.81 498.53,66.75 498.73,65.26 498.92,64.46 499.12,64.42 499.31,65.27 499.51,66.81 499.71,68.93 499.9,71.45 500.1,74.19 500.3,76.88 500.49,79.43 500.69,81.67 500.88,83.39 501.08,84.36 501.28,84.48 501.47,83.83 501.67,82.45 501.87,80.46 502.06,78.03 502.26,75.33 502.45,72.64 502.65,70.12 502.85,67.96 503.04,66.3 503.24,65.28 503.44,64.97 503.63,65.49 503.83,66.7 504.02,68.46 504.22,70.61 504.42,72.97 504.61,75.46 504.81,77.99 505.01,80.22 505.2,81.99 505.4,83.15 505.59,83.6 505.79,83.3 505.99,82.32 506.18,80.76 506.38,78.75 506.58,76.46 506.77,74.14 506.97,72.36 507.17,70.81 507.36,69.62 507.56,68.85 507.75,68.55 507.95,68.7 508.15,69.29 508.34,70.23 508.54,71.44 508.74,72.82 508.93,74.23 509.13,76.18 509.32,78.02 509.52,79.51 509.72,80.56 509.91,81.1 510.11,81.12 510.31,80.61 510.5,79.66 510.7,78.33 510.89,76.75 511.09,75.05 511.29,73.84 511.48,73.03 511.68,72.4 511.88,71.98 512.07,71.75 512.27,71.72 512.46,71.9 512.66,72.26 512.86,72.76 513.05,73.36 513.25,73.99 513.45,74.87 513.64,76.12 513.84,77.18 514.04,78.01 514.23,78.53 514.43,78.72 514.62,78.57 514.82,78.1 515.02,77.36 515.21,76.4 515.41,75.32 515.61,74.25 515.8,73.89 516,73.59 516.19,73.38 516.39,73.21 516.59,73.06 516.78,72.99 516.98,73.03 517.18,73.16 517.37,73.39 517.57,73.7 517.76,74.07 517.96,74.89 518.16,75.71 518.35,76.38 518.55,76.86 518.75,77.15 518.94,77.2 519.14,77 519.33,76.59 519.53,75.97 519.73,75.21 519.92,74.36 520.12,73.66 520.32,73.1 520.51,72.58 520.71,72.16 520.9,71.85 521.1,71.71 521.3,71.73 521.49,71.92 521.69,72.28 521.89,72.78 522.08,73.38 522.28,74.08 522.48,74.84 522.67,75.52 522.87,76.05 523.06,76.4 523.26,76.55 523.46,76.47 523.65,76.19 523.85,75.72 524.05,75.11 524.24,74.39 524.44,73.63 524.63,72.82 524.83,72.05 525.03,71.39 525.22,70.88 525.42,70.58 525.62,70.51 525.81,70.67 526.01,71.08 526.2,71.68 526.4,72.46 526.6,73.33 526.79,74.03 526.99,74.62 527.19,75.12 527.38,75.47 527.58,75.66 527.77,75.68 527.97,75.53 528.17,75.22 528.36,74.78 528.56,74.24 528.76,73.66 528.95,72.81 529.15,71.77 529.34,70.84 529.54,70.1 529.74,69.6 529.93,69.38 530.13,69.47 530.33,69.85 530.52,70.51 530.72,71.38 530.92,72.42 531.11,73.35 531.31,73.81 531.5,74.21 531.7,74.52 531.9,74.71 532.09,74.78 532.29,74.72 532.49,74.55 532.68,74.27 532.88,73.91 533.07,73.5 533.27,73.07 533.47,71.87 533.66,70.75 533.86,69.82 534.06,69.14 534.25,68.76 534.45,68.71 534.64,68.98 534.84,69.57 535.04,70.42 535.23,71.47 535.43,72.63 535.63,73.19 535.82,73.5 536.02,73.77 536.21,73.96 536.41,74.06 536.61,74.07 536.8,73.99 537,73.82 537.2,73.58 537.39,73.28 537.59,72.96 537.78,72.2 537.98,71.04 538.18,70.03 538.37,69.22 538.57,68.7 538.77,68.5 538.96,68.64 539.16,69.09 539.36,69.82 539.55,70.77 539.75,71.86 539.94,72.84 540.14,73.17 540.34,73.47 540.53,73.73 540.73,73.91 540.93,74 541.12,74.01 541.32,73.91 541.51,73.74 541.71,73.49 541.91,73.18 542.1,72.85 542.3,71.78 542.5,70.76 542.69,69.91 542.89,69.28 543.08,68.92 543.28,68.87 543.48,69.13 543.67,69.68 543.87,70.48 544.07,71.47 544.26,72.56 544.46,73.16 544.65,73.51 544.85,73.82 545.05,74.06 545.24,74.21 545.44,74.27 545.64,74.22 545.83,74.07 546.03,73.84 546.22,73.54 546.42,73.18 546.62,72.49 546.81,71.45 547.01,70.55 547.21,69.84 547.4,69.39 547.6,69.22 547.8,69.35 547.99,69.75 548.19,70.4 548.38,71.24 548.58,72.2 548.78,73.12 548.97,73.56 549.17,73.97 549.37,74.32 549.56,74.58 549.76,74.72 549.95,74.73 550.15,74.62 550.35,74.38 550.54,74.04 550.74,73.61 550.94,73.14 551.13,72.28 551.33,71.46 551.52,70.78 551.72,70.28 551.92,70.02 552.11,70 552.31,70.22 552.51,70.66 552.7,71.29 552.9,72.05 553.09,72.88 553.29,73.52 553.49,74.04 553.68,74.5 553.88,74.86 554.08,75.1 554.27,75.19 554.47,75.13 554.66,74.92 554.86,74.57 555.06,74.11 555.25,73.58 555.45,72.94 555.65,72.22 555.84,71.59 556.04,71.11 556.24,70.79 556.43,70.67 556.63,70.75 556.82,71.03 557.02,71.47 557.22,72.04 557.41,72.7 557.61,73.38 557.81,73.99 558,74.56 558.2,75.03 558.39,75.36 558.59,75.53 558.79,75.53 558.98,75.37 559.18,75.05 559.38,74.61 559.57,74.08 559.77,73.5 559.96,72.92 560.16,72.39 560.36,71.95 560.55,71.64 560.75,71.48 560.95,71.48 561.14,71.63 561.34,71.92 561.53,72.33 561.73,72.82 561.93,73.36 562.12,73.92 562.32,74.47 562.52,74.94 562.71,75.3 562.91,75.53 563.11,75.62 563.3,75.55 563.5,75.33 563.69,74.99 563.89,74.56 564.09,74.06 564.28,73.57 564.48,73.15 564.68,72.79 564.87,72.51 565.07,72.33 565.26,72.27 565.46,72.34 565.66,72.51 565.85,72.77 566.05,73.11 566.25,73.5 566.44,73.92 566.64,74.42 566.83,74.88 567.03,75.26 567.23,75.53 567.42,75.67 567.62,75.68 567.82,75.56 568.01,75.31 568.21,74.97 568.4,74.55 568.6,74.1 568.8,73.76 568.99,73.49 569.19,73.27 569.39,73.11 569.58,73.03 569.78,73.04 569.97,73.13 570.17,73.29 570.37,73.5 570.56,73.76 570.76,74.04 570.96,74.42 571.15,74.85 571.35,75.23 571.55,75.52 571.74,75.71 571.94,75.79 572.13,75.74 572.33,75.58 572.53,75.31 572.72,74.98 572.92,74.59 573.12,74.24 573.31,74.06 573.51,73.89 573.7,73.77 573.9,73.69 574.1,73.67 574.29,73.7 574.49,73.78 574.69,73.91 574.88,74.07 575.08,74.26 575.27,74.46 575.47,74.84 575.67,75.19 575.86,75.47 576.06,75.68 576.26,75.79 576.45,75.79 576.65,75.71 576.84,75.53 577.04,75.28 577.24,74.98 577.43,74.66 577.63,74.48 577.83,74.35 578.02,74.24 578.22,74.17 578.41,74.13 578.61,74.14 578.81,74.18 579,74.26 579.2,74.38 579.4,74.51 579.59,74.66 579.79,74.89 579.99,75.19 580.18,75.44 580.38,75.64 580.57,75.77 580.77,75.82 580.97,75.79 581.16,75.69 581.36,75.52 581.56,75.3 581.75,75.06 581.95,74.84 582.14,74.74 582.34,74.66 582.54,74.6 582.73,74.57 582.93,74.56 583.13,74.58 583.32,74.62 583.52,74.69 583.71,74.77 583.91,74.87 584.11,74.97 584.3,75.21 584.5,75.42 584.7,75.6 584.89,75.73 585.09,75.8 585.28,75.8 585.48,75.75 585.68,75.64 585.87,75.49 586.07,75.3 586.27,75.11 586.46,75.01 586.66,74.95 586.85,74.91 587.05,74.88 587.25,74.86 587.44,74.87 587.64,74.89 587.84,74.93 588.03,74.98 588.23,75.04 588.43,75.1 588.62,75.22 588.82,75.4 589.01,75.55 589.21,75.66 589.41,75.74 589.6,75.77 589.8,75.75 590,75.69 590.19,75.6 590.39,75.48 590.58,75.34 590.78,75.21 590.98,75.18 591.17,75.15 591.37,75.13 591.57,75.12 591.76,75.11 591.96,75.12 592.15,75.14 592.35,75.17 592.55,75.21 592.74,75.25 592.94,75.3 593.14,75.44 593.33,75.58 593.53,75.69 593.72,75.77 593.92,75.82 594.12,75.83 594.31,75.8 594.51,75.74 594.71,75.65 594.9,75.54 595.1,75.42 595.29,75.36 595.49,75.33 595.69,75.31 595.88,75.3 596.08,75.29 596.28,75.29 596.47,75.31 596.67,75.33 596.87,75.36 597.06,75.4 597.26,75.44 597.45,75.52 597.65,75.64 597.85,75.74 598.04,75.83 598.24,75.88 598.44,75.91 598.63,75.9 598.83,75.87 599.02,75.8 599.22,75.72 599.42,75.62 599.61,75.54 599.81,75.51 600.01,75.49 600.2,75.47 600.4,75.47 600.59,75.47 600.79,75.47 600.99,75.49 601.18,75.51 601.38,75.54 601.58,75.58 601.77,75.62 601.97,75.71 602.16,75.81 602.36,75.89 602.56,75.94 602.75,75.97 602.95,75.97 603.15,75.94 603.34,75.9 603.54,75.83 603.73,75.75 603.93,75.66 604.13,75.61 604.32,75.58 604.52,75.56 604.72,75.54 604.91,75.53 605.11,75.52 605.31,75.52 605.5,75.53 605.7,75.55 605.89,75.57 606.09,75.6 606.29,75.64 606.48,75.72 606.68,75.78 606.88,75.83 607.07,75.86 607.27,75.88 607.46,75.87 607.66,75.84 607.86,75.79 608.05,75.73 608.25,75.66 608.45,75.59 608.64,75.57 608.84,75.54 609.03,75.53 609.23,75.51 609.43,75.5 609.62,75.5 609.82,75.51 610.02,75.52 610.21,75.54 610.41,75.56 610.6,75.58 610.8,75.63 611,75.69 611.19,75.74 611.39,75.77 611.59,75.79 611.78,75.79 611.98,75.77 612.18,75.74 612.37,75.7 612.57,75.65 612.76,75.59 612.96,75.55 613.16,75.53 613.35,75.51 613.55,75.5 613.75,75.49 613.94,75.48 614.14,75.48 614.33,75.49 614.53,75.5 614.73,75.52 614.92,75.54 615.12,75.57 615.32,75.62 615.51,75.67 615.71,75.7 615.9,75.73 616.1,75.74 616.3,75.73 616.49,75.71 616.69,75.68 616.89,75.63 617.08,75.58 617.28,75.53 617.47,75.51 617.67,75.49 617.87,75.48 618.06,75.47 618.26,75.46 618.46,75.46 618.65,75.46 618.85,75.47 619.04,75.48 619.24,75.5 619.44,75.52 619.63,75.56 619.83,75.6 620.03,75.64 620.22,75.67 620.42,75.68 620.62,75.69 620.81,75.68 621.01,75.65 621.2,75.62 621.4,75.57 621.6,75.53 621.79,75.49 621.99,75.48 622.19,75.46 622.38,75.45 622.58,75.44 622.77,75.43 622.97,75.43 623.17,75.44 623.36,75.45 623.56,75.46 623.76,75.48 623.95,75.5 624.15,75.55 624.34,75.58 624.54,75.61 624.74,75.63 624.93,75.64 625.13,75.64 625.33,75.62 625.52,75.59 625.72,75.56 625.91,75.52 626.11,75.48 626.31,75.46 626.5,75.44 626.7,75.43 626.9,75.42 627.09,75.41 627.29,75.41 627.48,75.41 627.68,75.42 627.88,75.43 628.07,75.44 628.27,75.46 628.47,75.49 628.66,75.53 628.86,75.56 629.06,75.58 629.25,75.59 629.45,75.6 629.64,75.59 629.84,75.57 630.04,75.54 630.23,75.5 630.43,75.47 630.63,75.44 630.82,75.42 631.02,75.41 631.21,75.4 631.41,75.39 631.61,75.38 631.8,75.38 632,75.39 632.2,75.4 632.39,75.41 632.59,75.42 632.78,75.44 632.98,75.48 633.18,75.51 633.37,75.53 633.57,75.55 633.77,75.55 633.96,75.55 634.16,75.54 634.35,75.52 634.55,75.49 634.75,75.45 634.94,75.42 635.14,75.4 635.34,75.39 635.53,75.37 635.73,75.37 635.92,75.36 636.12,75.36 636.32,75.36 636.51,75.37 636.71,75.38 636.91,75.39 637.1,75.4 637.3,75.43 637.5,75.46 637.69,75.48 637.89,75.5 638.08,75.51 638.28,75.51 638.48,75.5 638.67,75.49 638.87,75.47 639.07,75.44 639.26,75.41 639.46,75.38 639.65,75.37 639.85,75.35 640.05,75.34 640.24,75.34 640.44,75.33 640.64,75.33 640.83,75.34 641.03,75.34 641.22,75.35 641.42,75.37 641.62,75.38 641.81,75.41 642.01,75.43 642.21,75.45 642.4,75.47 642.6,75.47 642.79,75.47 642.99,75.46 643.19,75.44 643.38,75.42 643.58,75.39 643.78,75.36 643.97,75.35 644.17,75.33 644.36,75.32 644.56,75.32 644.76,75.31 644.95,75.31 645.15,75.31 645.35,75.32 645.54,75.32 645.74,75.33 645.94,75.34 646.13,75.36 646.33,75.39 646.52,75.41 646.72,75.42 646.92,75.43 647.11,75.43 647.31,75.43 647.51,75.42 647.7,75.4 647.9,75.37 648.09,75.35 648.29,75.33 648.49,75.31 648.68,75.3 648.88,75.29 649.08,75.29 649.27,75.28 649.47,75.28 649.66,75.29 649.86,75.29 650.06,75.3 650.25,75.31 650.45,75.32 650.65,75.34 650.84,75.36 651.04,75.38 651.23,75.39 651.43,75.4 651.63,75.39 651.82,75.39 652.02,75.37 652.22,75.35 652.41,75.33 652.61,75.31 652.8,75.29 653,75.28 653.2,75.27 653.39,75.27 653.59,75.26 653.79,75.26 653.98,75.26 654.18,75.26 654.38,75.27 654.57,75.28 654.77,75.29 654.96,75.3 655.16,75.32 655.36,75.34 655.55,75.35 655.75,75.36 655.95,75.36 656.14,75.36 656.34,75.35 656.53,75.33 656.73,75.31 656.93,75.29 657.12,75.27 657.32,75.26 657.52,75.25 657.71,75.24 657.91,75.24 658.1,75.24 658.3,75.24 658.5,75.24 658.69,75.24 658.89,75.25 659.09,75.26 659.28,75.27 659.48,75.28 659.67,75.3 659.87,75.31 660.07,75.32 660.26,75.33"/>
<polyline fill="none" stroke="#00ff00" stroke-width="1.3" stroke-linejoin="round" points="473.6,96.85 473.8,110.74 473.99,121.18 474.19,127.29 474.39,128.57 474.58,124.98 474.78,116.89 474.98,105.1 475.17,90.71 475.37,75.06 475.56,62.14 475.76,50.56 475.96,41.22 476.15,34.95 476.35,32.29 476.55,33.5 476.74,38.39 476.94,46.45 477.13,56.9 477.33,68.78 477.53,82.29 477.72,96 477.92,107.57 478.12,116 478.31,120.57 478.51,120.94 478.7,117.12 478.9,109.54 479.1,98.58 479.29,85.92 479.49,72.98 479.69,61.94 479.88,52.18 480.08,44.55 480.27,39.72 480.47,38.07 480.67,39.78 480.86,44.79 481.06,52.27 481.26,61.45 481.45,71.46 481.65,81.4 481.85,90.21 482.04,97.14 482.24,101.66 482.43,103.49 482.63,102.61 482.83,99.35 483.02,94.24 483.22,87.55 483.42,79.95 483.61,72.04 483.81,64.44 484,58.06 484.2,53.41 484.4,50.85 484.59,50.51 484.79,52.23 484.99,55.8 485.18,60.9 485.38,67.02 485.57,73.58 485.77,79.63 485.97,84.87 486.16,88.93 486.36,91.48 486.56,92.39 486.75,91.64 486.95,89.26 487.14,85.69 487.34,81.39 487.54,76.83 487.73,72.01 487.93,67.17 488.13,63.19 488.32,60.39 488.52,58.96 488.71,58.95 488.91,60.31 489.11,62.84 489.3,66.25 489.5,70.2 489.7,74.06 489.89,75.94 490.09,77.11 490.29,78.13 490.48,78.91 490.68,79.49 490.87,79.9 491.07,80.2 491.27,80.39 491.46,80.51 491.66,80.56 491.86,80.54 492.05,80.45 492.25,80.27 492.44,79.96 492.64,79.49 492.84,78.81 493.03,77.88 493.23,76.65 493.43,75.11 493.62,73.29 493.82,71.58 494.01,70.26 494.21,69.08 494.41,68.3 494.6,68 494.8,68.21 495,68.92 495.19,70.07 495.39,71.59 495.58,73.36 495.78,75.08 495.98,76.56 496.17,77.85 496.37,78.86 496.57,79.55 496.76,79.95 496.96,79.92 497.15,79.44 497.35,78.55 497.55,77.3 497.74,75.77 497.94,74.01 498.14,71.97 498.33,70.09 498.53,68.52 498.73,67.39 498.92,66.78 499.12,66.77 499.31,67.42 499.51,68.61 499.71,70.23 499.9,72.16 500.1,74.24 500.3,76.28 500.49,78.21 500.69,79.89 500.88,81.18 501.08,81.91 501.28,81.99 501.47,81.48 501.67,80.44 501.87,78.94 502.06,77.11 502.26,75.09 502.45,73.08 502.65,71.22 502.85,69.61 503.04,68.39 503.24,67.64 503.44,67.42 503.63,67.82 503.83,68.72 504.02,70.03 504.22,71.61 504.42,73.35 504.61,75.18 504.81,77.03 505.01,78.65 505.2,79.93 505.4,80.78 505.59,81.09 505.79,80.86 505.99,80.14 506.18,79.01 506.38,77.55 506.58,75.89 506.77,74.21 506.97,72.93 507.17,71.83 507.36,70.97 507.56,70.43 507.75,70.22 507.95,70.34 508.15,70.76 508.34,71.43 508.54,72.3 508.74,73.28 508.93,74.28 509.13,75.66 509.32,76.95 509.52,78 509.72,78.73 509.91,79.11 510.11,79.11 510.31,78.75 510.5,78.07 510.7,77.14 510.89,76.04 511.09,74.85 511.29,74.01 511.48,73.45 511.68,73.02 511.88,72.73 512.07,72.57 512.27,72.55 512.46,72.68 512.66,72.93 512.86,73.28 513.05,73.69 513.25,74.12 513.45,74.72 513.64,75.57 513.84,76.29 514.04,76.85 514.23,77.2 514.43,77.31 514.62,77.21 514.82,76.88 515.02,76.37 515.21,75.72 515.41,74.99 515.61,74.27 515.8,74.02 516,73.82 516.19,73.68 516.39,73.56 516.59,73.46 516.78,73.41 516.98,73.43 517.18,73.52 517.37,73.66 517.57,73.87 517.76,74.1 517.96,74.64 518.16,75.17 518.35,75.6 518.55,75.91 518.75,76.09 518.94,76.12 519.14,75.98 519.33,75.7 519.53,75.3 519.73,74.8 519.92,74.24 520.12,73.79 520.32,73.42 520.51,73.09 520.71,72.81 520.9,72.62 521.1,72.52 521.3,72.53 521.49,72.65 521.69,72.88 521.89,73.19 522.08,73.57 522.28,74.01 522.48,74.49 522.67,74.91 522.87,75.24 523.06,75.45 523.26,75.54 523.46,75.48 523.65,75.3 523.85,75 524.05,74.61 524.24,74.16 524.44,73.68 524.63,73.17 524.83,72.69 525.03,72.28 525.22,71.97 525.42,71.78 525.62,71.73 525.81,71.83 526.01,72.08 526.2,72.45 526.4,72.92 526.6,73.45 526.79,73.87 526.99,74.23 527.19,74.52 527.38,74.73 527.58,74.84 527.77,74.84 527.97,74.75 528.17,74.55 528.36,74.28 528.56,73.95 528.76,73.6 528.95,73.09 529.15,72.46 529.34,71.91 529.54,71.46 529.74,71.16 529.93,71.03 530.13,71.08 530.33,71.31 530.52,71.69 530.72,72.21 530.92,72.81 531.11,73.36 531.31,73.62 531.5,73.85 531.7,74.02 531.9,74.13 532.09,74.17 532.29,74.13 532.49,74.02 532.68,73.85 532.88,73.64 533.07,73.4 533.27,73.14 533.47,72.45 533.66,71.81 533.86,71.27 534.06,70.88 534.25,70.66 534.45,70.63 534.64,70.79 534.84,71.12 535.04,71.6 535.23,72.19 535.43,72.84 535.63,73.15 535.82,73.33 536.02,73.47 536.21,73.57 536.41,73.63 536.61,73.63 536.8,73.57 537,73.47 537.2,73.33 537.39,73.16 537.59,72.98 537.78,72.55 537.98,71.91 538.18,71.35 538.37,70.9 538.57,70.61 538.77,70.51 538.96,70.59 539.16,70.84 539.36,71.25 539.55,71.77 539.75,72.37 539.94,72.91 540.14,73.09 540.34,73.26 540.53,73.39 540.73,73.49 540.93,73.55 541.12,73.55 541.32,73.5 541.51,73.41 541.71,73.28 541.91,73.12 542.1,72.94 542.3,72.37 542.5,71.84 542.69,71.39 542.89,71.06 543.08,70.88 543.28,70.86 543.48,71 543.67,71.3 543.87,71.73 544.07,72.25 544.26,72.82 544.46,73.14 544.65,73.32 544.85,73.49 545.05,73.61 545.24,73.7 545.44,73.73 545.64,73.7 545.83,73.63 546.03,73.51 546.22,73.36 546.42,73.18 546.62,72.82 546.81,72.3 547.01,71.84 547.21,71.48 547.4,71.26 547.6,71.18 547.8,71.25 547.99,71.46 548.19,71.79 548.38,72.22 548.58,72.71 548.78,73.17 548.97,73.4 549.17,73.61 549.37,73.79 549.56,73.92 549.76,73.99 549.95,74 550.15,73.94 550.35,73.82 550.54,73.66 550.74,73.45 550.94,73.22 551.13,72.8 551.33,72.4 551.52,72.07 551.72,71.83 551.92,71.71 552.11,71.7 552.31,71.82 552.51,72.04 552.7,72.34 552.9,72.72 553.09,73.12 553.29,73.44 553.49,73.69 553.68,73.91 553.88,74.09 554.08,74.2 554.27,74.25 554.47,74.22 554.66,74.12 554.86,73.96 555.06,73.74 555.25,73.49 555.45,73.19 555.65,72.85 555.84,72.56 556.04,72.33 556.24,72.19 556.43,72.14 556.63,72.18 556.82,72.32 557.02,72.53 557.22,72.8 557.41,73.11 557.61,73.43 557.81,73.72 558,73.98 558.2,74.2 558.39,74.36 558.59,74.44 558.79,74.45 558.98,74.38 559.18,74.23 559.38,74.04 559.57,73.8 559.77,73.54 559.96,73.28 560.16,73.05 560.36,72.86 560.55,72.73 560.75,72.66 560.95,72.67 561.14,72.74 561.34,72.88 561.53,73.07 561.73,73.3 561.93,73.55 562.12,73.81 562.32,74.06 562.52,74.27 562.71,74.44 562.91,74.55 563.11,74.59 563.3,74.56 563.5,74.47 563.69,74.33 563.89,74.14 564.09,73.93 564.28,73.72 564.48,73.54 564.68,73.39 564.87,73.28 565.07,73.21 565.26,73.19 565.46,73.22 565.66,73.31 565.85,73.43 566.05,73.58 566.25,73.76 566.44,73.94 566.64,74.16 566.83,74.36 567.03,74.53 567.23,74.65 567.42,74.72 567.62,74.73 567.82,74.68 568.01,74.58 568.21,74.44 568.4,74.27 568.6,74.09 568.8,73.95 568.99,73.84 569.19,73.76 569.39,73.7 569.58,73.67 569.78,73.68 569.97,73.73 570.17,73.8 570.37,73.9 570.56,74.01 570.76,74.13 570.96,74.29 571.15,74.48 571.35,74.64 571.55,74.77 571.74,74.85 571.94,74.88 572.13,74.87 572.33,74.81 572.53,74.71 572.72,74.58 572.92,74.42 573.12,74.29 573.31,74.22 573.51,74.16 573.7,74.12 573.9,74.1 574.1,74.09 574.29,74.11 574.49,74.15 574.69,74.21 574.88,74.28 575.08,74.36 575.27,74.45 575.47,74.61 575.67,74.75 575.86,74.87 576.06,74.95 576.26,75 576.45,75.01 576.65,74.98 576.84,74.92 577.04,74.82 577.24,74.71 577.43,74.59 577.63,74.53 577.83,74.48 578.02,74.45 578.22,74.43 578.41,74.42 578.61,74.43 578.81,74.45 579,74.49 579.2,74.54 579.4,74.6 579.59,74.66 579.79,74.75 579.99,74.87 580.18,74.98 580.38,75.06 580.57,75.11 580.77,75.14 580.97,75.13 581.16,75.1 581.36,75.04 581.56,74.96 581.75,74.88 581.95,74.8 582.14,74.77 582.34,74.75 582.54,74.73 582.73,74.73 582.93,74.73 583.13,74.74 583.32,74.76 583.52,74.79 583.71,74.82 583.91,74.86 584.11,74.9 584.3,74.99 584.5,75.08 584.7,75.14 584.89,75.19 585.09,75.22 585.28,75.23 585.48,75.21 585.68,75.17 585.87,75.12 586.07,75.06 586.27,74.99 586.46,74.96 586.66,74.94 586.85,74.93 587.05,74.92 587.25,74.92 587.44,74.93 587.64,74.94 587.84,74.96 588.03,74.98 588.23,75.01 588.43,75.03 588.62,75.08 588.82,75.14 589.01,75.2 589.21,75.24 589.41,75.27 589.6,75.29 589.8,75.28 590,75.27 590.19,75.24 590.39,75.2 590.58,75.15 590.78,75.11 590.98,75.1 591.17,75.1 591.37,75.09 591.57,75.09 591.76,75.1 591.96,75.1 592.15,75.11 592.35,75.13 592.55,75.14 592.74,75.16 592.94,75.18 593.14,75.23 593.33,75.28 593.53,75.32 593.72,75.36 593.92,75.37 594.12,75.38 594.31,75.38 594.51,75.36 594.71,75.33 594.9,75.3 595.1,75.26 595.29,75.25 595.49,75.24 595.69,75.24 595.88,75.23 596.08,75.24 596.28,75.24 596.47,75.25 596.67,75.26 596.87,75.27 597.06,75.29 597.26,75.31 597.45,75.33 597.65,75.38 597.85,75.41 598.04,75.44 598.24,75.47 598.44,75.48 598.63,75.48 598.83,75.47 599.02,75.45 599.22,75.43 599.42,75.4 599.61,75.38 599.81,75.37 600.01,75.37 600.2,75.37 600.4,75.37 600.59,75.37 600.79,75.38 600.99,75.39 601.18,75.4 601.38,75.41 601.58,75.43 601.77,75.44 601.97,75.48 602.16,75.51 602.36,75.54 602.56,75.55 602.75,75.56 602.95,75.56 603.15,75.55 603.34,75.53 603.54,75.51 603.73,75.48 603.93,75.46 604.13,75.44 604.32,75.43 604.52,75.42 604.72,75.41 604.91,75.41 605.11,75.41 605.31,75.41 605.5,75.41 605.7,75.41 605.89,75.42 606.09,75.43 606.29,75.44 606.48,75.46 606.68,75.48 606.88,75.49 607.07,75.5 607.27,75.5 607.46,75.5 607.66,75.49 607.86,75.47 608.05,75.45 608.25,75.43 608.45,75.41 608.64,75.4 608.84,75.39 609.03,75.39 609.23,75.38 609.43,75.38 609.62,75.38 609.82,75.38 610.02,75.38 610.21,75.38 610.41,75.39 610.6,75.39 610.8,75.41 611,75.42 611.19,75.44 611.39,75.44 611.59,75.45 611.78,75.45 611.98,75.44 612.18,75.43 612.37,75.42 612.57,75.4 612.76,75.39 612.96,75.37 613.16,75.37 613.35,75.36 613.55,75.35 613.75,75.35 613.94,75.35 614.14,75.35 614.33,75.35 614.53,75.35 614.73,75.35 614.92,75.36 615.12,75.37 615.32,75.38 615.51,75.39 615.71,75.4 615.9,75.41 616.1,75.41 616.3,75.4 616.49,75.4 616.69,75.39 616.89,75.37 617.08,75.36 617.28,75.34 617.47,75.34 617.67,75.33 617.87,75.33 618.06,75.32 618.26,75.32 618.46,75.32 618.65,75.32 618.85,75.32 619.04,75.32 619.24,75.32 619.44,75.33 619.63,75.34 619.83,75.35 620.03,75.36 620.22,75.36 620.42,75.37 620.62,75.37 620.81,75.36 621.01,75.35 621.2,75.34 621.4,75.33 621.6,75.32 621.79,75.31 621.99,75.3 622.19,75.3 622.38,75.29 622.58,75.29 622.77,75.29 622.97,75.29 623.17,75.29 623.36,75.29 623.56,75.29 623.76,75.29 623.95,75.3 624.15,75.31 624.34,75.32 624.54,75.32 624.74,75.33 624.93,75.33 625.13,75.33 625.33,75.32 625.52,75.31 625.72,75.3 625.91,75.29 626.11,75.28 626.31,75.28 626.5,75.27 626.7,75.27 626.9,75.26 627.09,75.26 627.29,75.26 627.48,75.26 627.68,75.26 627.88,75.26 628.07,75.26 628.27,75.26 628.47,75.27 628.66,75.28 628.86,75.29 629.06,75.29 629.25,75.29 629.45,75.29 629.64,75.29 629.84,75.28 630.04,75.27 630.23,75.27 630.43,75.26 630.63,75.25 630.82,75.24 631.02,75.24 631.21,75.23 631.41,75.23 631.61,75.23 631.8,75.23 632,75.23 632.2,75.23 632.39,75.23 632.59,75.23 632.78,75.24 632.98,75.24 633.18,75.25 633.37,75.25 633.57,75.26 633.77,75.26 633.96,75.26 634.16,75.25 634.35,75.25 634.55,75.24 634.75,75.23 634.94,75.22 635.14,75.21 635.34,75.21 635.53,75.21 635.73,75.2 635.92,75.2 636.12,75.2 636.32,75.2 636.51,75.2 636.71,75.2 636.91,75.2 637.1,75.2 637.3,75.21 637.5,75.21 637.69,75.22 637.89,75.22 638.08,75.22 638.28,75.22 638.48,75.22 638.67,75.22 638.87,75.21 639.07,75.2 639.26,75.19 639.46,75.19 639.65,75.18 639.85,75.18 640.05,75.18 640.24,75.17 640.44,75.17 640.64,75.17 640.83,75.17 641.03,75.17 641.22,75.17 641.42,75.17 641.62,75.18 641.81,75.18 642.01,75.18 642.21,75.19 642.4,75.19 642.6,75.19 642.79,75.19 642.99,75.19 643.19,75.18 643.38,75.17 643.58,75.17 643.78,75.16 643.97,75.16 644.17,75.15 644.36,75.15 644.56,75.15 644.76,75.14 644.95,75.14 645.15,75.14 645.35,75.14 645.54,75.14 645.74,75.14 645.94,75.15 646.13,75.15 646.33,75.15 646.52,75.16 646.72,75.16 646.92,75.16 647.11,75.16 647.31,75.16 647.51,75.15 647.7,75.15 647.9,75.14 648.09,75.14 648.29,75.13 648.49,75.13 648.68,75.12 648.88,75.12 649.08,75.12 649.27,75.12 649.47,75.12 649.66,75.11 649.86,75.11 650.06,75.12 650.25,75.12 650.45,75.12 650.65,75.12 650.84,75.12 651.04,75.13 651.23,75.13 651.43,75.13 651.63,75.13 651.82,75.12 652.02,75.12 652.22,75.12 652.41,75.11 652.61,75.1 652.8,75.1 653,75.1 653.2,75.09 653.39,75.09 653.59,75.09 653.79,75.09 653.98,75.09 654.18,75.09 654.38,75.09 654.57,75.09 654.77,75.09 654.96,75.09 655.16,75.09 655.36,75.1 655.55,75.1 655.75,75.1 655.95,75.1 656.14,75.1 656.34,75.09 656.53,75.09 656.73,75.08 656.93,75.08 657.12,75.07 657.32,75.07 657.52,75.07 657.71,75.07 657.91,75.06 658.1,75.06 658.3,75.06 658.5,75.06 658.69,75.06 658.89,75.06 659.09,75.06 659.28,75.06 659.48,75.07 659.67,75.07 659.87,75.07 660.07,75.07 660.26,75.07"/>
<polyline fill="none" stroke="#00ffff" stroke-width="1.3" stroke-linejoin="round" points="473.6,94.32 473.8,106.61 473.99,115.81 474.19,121.16 474.39,122.23 474.58,119 474.78,111.82 474.98,101.4 475.17,88.73 475.37,74.98 475.56,63.66 475.76,53.54 475.96,45.41 476.15,39.98 476.35,37.7 476.55,38.81 476.74,43.11 476.94,50.14 477.13,59.23 477.33,69.53 477.53,81.22 477.72,93.04 477.92,102.99 478.12,110.21 478.31,114.09 478.51,114.35 478.7,111.03 478.9,104.48 479.1,95.07 479.29,84.23 479.49,73.19 479.69,63.79 479.88,55.51 480.08,49.06 480.27,45 480.47,43.64 480.67,45.14 480.86,49.41 481.06,55.74 481.26,63.5 481.45,71.93 481.65,80.27 481.85,87.65 482.04,93.43 482.24,97.18 482.43,98.67 482.63,97.91 482.83,95.16 483.02,90.88 483.22,85.31 483.42,78.99 483.61,72.45 483.81,66.17 484,60.92 484.2,57.12 484.4,55.04 484.59,54.78 484.79,56.23 484.99,59.17 485.18,63.37 485.38,68.38 485.57,73.73 485.77,78.65 485.97,82.91 486.16,86.18 486.36,88.24 486.56,88.95 486.75,88.33 486.95,86.38 487.14,83.49 487.34,80.02 487.54,76.35 487.73,72.49 487.93,68.62 488.13,65.45 488.32,63.22 488.52,62.1 488.71,62.12 488.91,63.21 489.11,65.23 489.3,67.95 489.5,71.08 489.7,74.13 489.89,75.62 490.09,76.53 490.29,77.33 490.48,77.94 490.68,78.38 490.87,78.7 491.07,78.92 491.27,79.07 491.46,79.16 491.66,79.19 491.86,79.17 492.05,79.09 492.25,78.94 492.44,78.69 492.64,78.32 492.84,77.79 493.03,77.07 493.23,76.12 493.43,74.95 493.62,73.55 493.82,72.24 494.01,71.24 494.21,70.35 494.41,69.77 494.6,69.55 494.8,69.71 495,70.25 495.19,71.13 495.39,72.28 495.58,73.61 495.78,74.91 495.98,76.02 496.17,76.98 496.37,77.74 496.57,78.25 496.76,78.53 496.96,78.5 497.15,78.15 497.35,77.48 497.55,76.55 497.74,75.41 497.94,74.12 498.14,72.61 498.33,71.23 498.53,70.08 498.73,69.26 498.92,68.83 499.12,68.82 499.31,69.31 499.51,70.18 499.71,71.37 499.9,72.77 500.1,74.29 500.3,75.76 500.49,77.15 500.69,78.36 500.88,79.28 501.08,79.8 501.28,79.84 501.47,79.47 501.67,78.72 501.87,77.64 502.06,76.33 502.26,74.89 502.45,73.47 502.65,72.14 502.85,71.01 503.04,70.15 503.24,69.63 503.44,69.49 503.63,69.77 503.83,70.41 504.02,71.33 504.22,72.45 504.42,73.67 504.61,74.94 504.81,76.23 505.01,77.36 505.2,78.24 505.4,78.82 505.59,79.03 505.79,78.86 505.99,78.36 506.18,77.57 506.38,76.56 506.58,75.42 506.77,74.27 506.97,73.39 507.17,72.64 507.36,72.07 507.56,71.7 507.75,71.56 507.95,71.64 508.15,71.93 508.34,72.4 508.54,72.98 508.74,73.64 508.93,74.32 509.13,75.24 509.32,76.11 509.52,76.81 509.72,77.29 509.91,77.54 510.11,77.53 510.31,77.29 510.5,76.84 510.7,76.21 510.89,75.48 511.09,74.7 511.29,74.14 511.48,73.78 511.68,73.49 511.88,73.3 512.07,73.2 512.27,73.19 512.46,73.28 512.66,73.44 512.86,73.67 513.05,73.94 513.25,74.22 513.45,74.61 513.64,75.15 513.84,75.62 514.04,75.98 514.23,76.19 514.43,76.26 514.62,76.18 514.82,75.97 515.02,75.64 515.21,75.22 515.41,74.74 515.61,74.28 515.8,74.12 516,73.99 516.19,73.9 516.39,73.82 516.59,73.75 516.78,73.72 516.98,73.73 517.18,73.78 517.37,73.87 517.57,73.99 517.76,74.13 517.96,74.46 518.16,74.79 518.35,75.05 518.55,75.23 518.75,75.34 518.94,75.35 519.14,75.26 519.33,75.08 519.53,74.83 519.73,74.51 519.92,74.17 520.12,73.89 520.32,73.66 520.51,73.45 520.71,73.28 520.9,73.16 521.1,73.1 521.3,73.11 521.49,73.18 521.69,73.31 521.89,73.49 522.08,73.72 522.28,73.97 522.48,74.26 522.67,74.5 522.87,74.69 523.06,74.81 523.26,74.86 523.46,74.82 523.65,74.7 523.85,74.52 524.05,74.29 524.24,74.02 524.44,73.73 524.63,73.43 524.83,73.14 525.03,72.9 525.22,72.71 525.42,72.6 525.62,72.57 525.81,72.63 526.01,72.77 526.2,72.98 526.4,73.25 526.6,73.55 526.79,73.79 526.99,73.99 527.19,74.15 527.38,74.26 527.58,74.32 527.77,74.32 527.97,74.26 528.17,74.14 528.36,73.98 528.56,73.79 528.76,73.58 528.95,73.29 529.15,72.94 529.34,72.62 529.54,72.37 529.74,72.2 529.93,72.12 530.13,72.15 530.33,72.27 530.52,72.49 530.72,72.77 530.92,73.1 531.11,73.4 531.31,73.54 531.5,73.66 531.7,73.75 531.9,73.8 532.09,73.82 532.29,73.79 532.49,73.73 532.68,73.63 532.88,73.51 533.07,73.37 533.27,73.23 533.47,72.85 533.66,72.5 533.86,72.21 534.06,71.99 534.25,71.87 534.45,71.85 534.64,71.94 534.84,72.11 535.04,72.37 535.23,72.68 535.43,73.02 535.63,73.18 535.82,73.27 536.02,73.34 536.21,73.39 536.41,73.41 536.61,73.41 536.8,73.37 537,73.32 537.2,73.24 537.39,73.15 537.59,73.04 537.78,72.82 537.98,72.48 538.18,72.18 538.37,71.95 538.57,71.8 538.77,71.75 538.96,71.8 539.16,71.93 539.36,72.14 539.55,72.42 539.75,72.73 539.94,73.01 540.14,73.1 540.34,73.19 540.53,73.26 540.73,73.31 540.93,73.34 541.12,73.35 541.32,73.33 541.51,73.28 541.71,73.22 541.91,73.14 542.1,73.05 542.3,72.77 542.5,72.51 542.69,72.29 542.89,72.13 543.08,72.04 543.28,72.04 543.48,72.12 543.67,72.27 543.87,72.48 544.07,72.74 544.26,73.03 544.46,73.19 544.65,73.28 544.85,73.36 545.05,73.43 545.24,73.47 545.44,73.49 545.64,73.48 545.83,73.44 546.03,73.39 546.22,73.32 546.42,73.23 546.62,73.07 546.81,72.82 547.01,72.6 547.21,72.43 547.4,72.33 547.6,72.3 547.8,72.33 547.99,72.44 548.19,72.6 548.38,72.81 548.58,73.04 548.78,73.27 548.97,73.38 549.17,73.48 549.37,73.56 549.56,73.62 549.76,73.66 549.95,73.67 550.15,73.64 550.35,73.59 550.54,73.52 550.74,73.42 550.94,73.32 551.13,73.13 551.33,72.94 551.52,72.8 551.72,72.69 551.92,72.64 552.11,72.64 552.31,72.7 552.51,72.8 552.7,72.95 552.9,73.12 553.09,73.31 553.29,73.45 553.49,73.57 553.68,73.67 553.88,73.75 554.08,73.81 554.27,73.83 554.47,73.82 554.66,73.78 554.86,73.71 555.06,73.61 555.25,73.5 555.45,73.37 555.65,73.23 555.84,73.1 556.04,73 556.24,72.94 556.43,72.93 556.63,72.95 556.82,73.01 557.02,73.11 557.22,73.23 557.41,73.37 557.61,73.51 557.81,73.64 558,73.76 558.2,73.85 558.39,73.93 558.59,73.97 558.79,73.98 558.98,73.95 559.18,73.9 559.38,73.82 559.57,73.72 559.77,73.62 559.96,73.51 560.16,73.42 560.36,73.34 560.55,73.29 560.75,73.27 560.95,73.28 561.14,73.32 561.34,73.39 561.53,73.47 561.73,73.58 561.93,73.69 562.12,73.8 562.32,73.91 562.52,74.01 562.71,74.08 562.91,74.13 563.11,74.15 563.3,74.15 563.5,74.12 563.69,74.06 563.89,73.99 564.09,73.91 564.28,73.83 564.48,73.76 564.68,73.71 564.87,73.67 565.07,73.64 565.26,73.64 565.46,73.66 565.66,73.7 565.85,73.76 566.05,73.83 566.25,73.9 566.44,73.98 566.64,74.08 566.83,74.17 567.03,74.24 567.23,74.29 567.42,74.32 567.62,74.33 567.82,74.32 568.01,74.29 568.21,74.24 568.4,74.17 568.6,74.11 568.8,74.06 568.99,74.02 569.19,73.99 569.39,73.98 569.58,73.97 569.78,73.98 569.97,74.01 570.17,74.04 570.37,74.08 570.56,74.13 570.76,74.19 570.96,74.26 571.15,74.33 571.35,74.4 571.55,74.45 571.74,74.49 571.94,74.51 572.13,74.51 572.33,74.49 572.53,74.46 572.72,74.41 572.92,74.36 573.12,74.32 573.31,74.3 573.51,74.28 573.7,74.27 573.9,74.27 574.1,74.27 574.29,74.28 574.49,74.3 574.69,74.33 574.88,74.36 575.08,74.4 575.27,74.44 575.47,74.5 575.67,74.56 575.86,74.61 576.06,74.65 576.26,74.67 576.45,74.68 576.65,74.67 576.84,74.65 577.04,74.63 577.24,74.59 577.43,74.55 577.63,74.53 577.83,74.52 578.02,74.52 578.22,74.51 578.41,74.52 578.61,74.53 578.81,74.54 579,74.56 579.2,74.58 579.4,74.61 579.59,74.64 579.79,74.68 579.99,74.72 580.18,74.77 580.38,74.8 580.57,74.83 580.77,74.84 580.97,74.84 581.16,74.84 581.36,74.82 581.56,74.8 581.75,74.77 581.95,74.75 582.14,74.75 582.34,74.74 582.54,74.74 582.73,74.75 582.93,74.75 583.13,74.76 583.32,74.77 583.52,74.78 583.71,74.8 583.91,74.81 584.11,74.83 584.3,74.86 584.5,74.9 584.7,74.92 584.89,74.94 585.09,74.95 585.28,74.96 585.48,74.96 585.68,74.95 585.87,74.93 586.07,74.91 586.27,74.9 586.46,74.89 586.66,74.88 586.85,74.88 587.05,74.88 587.25,74.89 587.44,74.89 587.64,74.9 587.84,74.91 588.03,74.92 588.23,74.93 588.43,74.94 588.62,74.96 588.82,74.98 589.01,75.01 589.21,75.02 589.41,75.04 589.6,75.04 589.8,75.05 590,75.04 590.19,75.04 590.39,75.03 590.58,75.01 590.78,75 590.98,75.01 591.17,75.01 591.37,75.01 591.57,75.01 591.76,75.01 591.96,75.02 592.15,75.03 592.35,75.03 592.55,75.04 592.74,75.05 592.94,75.06 593.14,75.08 593.33,75.1 593.53,75.11 593.72,75.13 593.92,75.13 594.12,75.14 594.31,75.14 594.51,75.14 594.71,75.13 594.9,75.12 595.1,75.12 595.29,75.11 595.49,75.11 595.69,75.12 595.88,75.12 596.08,75.12 596.28,75.13 596.47,75.13 596.67,75.14 596.87,75.14 597.06,75.15 597.26,75.16 597.45,75.17 597.65,75.19 597.85,75.2 598.04,75.21 598.24,75.22 598.44,75.23 598.63,75.23 598.83,75.23 599.02,75.23 599.22,75.23 599.42,75.22 599.61,75.22 599.81,75.22 600.01,75.22 600.2,75.22 600.4,75.22 600.59,75.23 600.79,75.23 600.99,75.24 601.18,75.24 601.38,75.25 601.58,75.26 601.77,75.26 601.97,75.28 602.16,75.29 602.36,75.3 602.56,75.3 602.75,75.3 602.95,75.3 603.15,75.3 603.34,75.29 603.54,75.28 603.73,75.28 603.93,75.27 604.13,75.26 604.32,75.26 604.52,75.25 604.72,75.25 604.91,75.25 605.11,75.25 605.31,75.24 605.5,75.24 605.7,75.24 605.89,75.24 606.09,75.24 606.29,75.25 606.48,75.25 606.68,75.26 606.88,75.26 607.07,75.26 607.27,75.26 607.46,75.26 607.66,75.25 607.86,75.25 608.05,75.24 608.25,75.23 608.45,75.23 608.64,75.22 608.84,75.22 609.03,75.22 609.23,75.21 609.43,75.21 609.62,75.21 609.82,75.21 610.02,75.21 610.21,75.21 610.41,75.21 610.6,75.21 610.8,75.21 611,75.22 611.19,75.22 611.39,75.22 611.59,75.22 611.78,75.22 611.98,75.21 612.18,75.21 612.37,75.21 612.57,75.2 612.76,75.19 612.96,75.19 613.16,75.19 613.35,75.18 613.55,75.18 613.75,75.18 613.94,75.18 614.14,75.18 614.33,75.18 614.53,75.18 614.73,75.18 614.92,75.18 615.12,75.18 615.32,75.18 615.51,75.18 615.71,75.18 615.9,75.18 616.1,75.18 616.3,75.18 616.49,75.18 616.69,75.17 616.89,75.17 617.08,75.16 617.28,75.16 617.47,75.16 617.67,75.15 617.87,75.15 618.06,75.15 618.26,75.15 618.46,75.14 618.65,75.14 618.85,75.14 619.04,75.14 619.24,75.14 619.44,75.14 619.63,75.14 619.83,75.15 620.03,75.15 620.22,75.15 620.42,75.15 620.62,75.14 620.81,75.14 621.01,75.14 621.2,75.14 621.4,75.13 621.6,75.13 621.79,75.12 621.99,75.12 622.19,75.12 622.38,75.12 622.58,75.12 622.77,75.11 622.97,75.11 623.17,75.11 623.36,75.11 623.56,75.11 623.76,75.11 623.95,75.11 624.15,75.11 624.34,75.11 624.54,75.11 624.74,75.11 624.93,75.11 625.13,75.11 625.33,75.11 625.52,75.1 625.72,75.1 625.91,75.1 626.11,75.09 626.31,75.09 626.5,75.09 626.7,75.09 626.9,75.09 627.09,75.08 627.29,75.08 627.48,75.08 627.68,75.08 627.88,75.08 628.07,75.08 628.27,75.08 628.47,75.08 628.66,75.08 628.86,75.08 629.06,75.08 629.25,75.08 629.45,75.08 629.64,75.08 629.84,75.07 630.04,75.07 630.23,75.07 630.43,75.06 630.63,75.06 630.82,75.06 631.02,75.06 631.21,75.06 631.41,75.05 631.61,75.05 631.8,75.05 632,75.05 632.2,75.05 632.39,75.05 632.59,75.05 632.78,75.05 632.98,75.05 633.18,75.05 633.37,75.05 633.57,75.05 633.77,75.05 633.96,75.05 634.16,75.04 634.35,75.04 634.55,75.04 634.75,75.04 634.94,75.03 635.14,75.03 635.34,75.03 635.53,75.03 635.73,75.03 635.92,75.02 636.12,75.02 636.32,75.02 636.51,75.02 636.71,75.02 636.91,75.02 637.1,75.02 637.3,75.02 637.5,75.02 637.69,75.02 637.89,75.02 638.08,75.02 638.28,75.02 638.48,75.02 638.67,75.01 638.87,75.01 639.07,75.01 639.26,75.01 639.46,75 639.65,75 639.85,75 640.05,75 640.24,75 640.44,75 640.64,74.99 640.83,74.99 641.03,74.99 641.22,74.99 641.42,74.99 641.62,74.99 641.81,74.99 642.01,74.99 642.21,74.99 642.4,74.99 642.6,74.99 642.79,74.99 642.99,74.99 643.19,74.98 643.38,74.98 643.58,74.98 643.78,74.98 643.97,74.97 644.17,74.97 644.36,74.97 644.56,74.97 644.76,74.97 644.95,74.97 645.15,74.97 645.35,74.97 645.54,74.96 645.74,74.96 645.94,74.96 646.13,74.96 646.33,74.96 646.52,74.96 646.72,74.96 646.92,74.96 647.11,74.96 647.31,74.96 647.51,74.96 647.7,74.95 647.9,74.95 648.09,74.95 648.29,74.95 648.49,74.95 648.68,74.95 648.88,74.94 649.08,74.94 649.27,74.94 649.47,74.94 649.66,74.94 649.86,74.94 650.06,74.94 650.25,74.94 650.45,74.94 650.65,74.94 650.84,74.94 651.04,74.93 651.23,74.93 651.43,74.93 651.63,74.93 651.82,74.93 652.02,74.93 652.22,74.93 652.41,74.93 652.61,74.92 652.8,74.92 653,74.92 653.2,74.92 653.39,74.92 653.59,74.92 653.79,74.91 653.98,74.91 654.18,74.91 654.38,74.91 654.57,74.91 654.77,74.91 654.96,74.91 655.16,74.91 655.36,74.91 655.55,74.91 655.75,74.91 655.95,74.91 656.14,74.91 656.34,74.9 656.53,74.9 656.73,74.9 656.93,74.9 657.12,74.9 657.32,74.9 657.52,74.89 657.71,74.89 657.91,74.89 658.1,74.89 658.3,74.89 658.5,74.89 658.69,74.89 658.89,74.89 659.09,74.89 659.28,74.89 659.48,74.89 659.67,74.88 659.87,74.88 660.07,74.88 660.26,74.88"/>
<polyline fill="none" stroke="#0000ff" stroke-width="1.3" stroke-linejoin="round" points="473.6,91.73 473.8,102.38 473.99,110.32 474.19,114.9 474.39,115.77 474.58,112.92 474.78,106.67 474.98,97.65 475.17,86.72 475.37,74.9 475.56,65.19 475.76,56.54 475.96,49.62 476.15,45.02 476.35,43.12 476.55,44.11 476.74,47.81 476.94,53.81 477.13,61.55 477.33,70.28 477.53,80.16 477.72,90.12 477.92,98.48 478.12,104.51 478.31,107.73 478.51,107.89 478.7,105.06 478.9,99.54 479.1,91.65 479.29,82.59 479.49,73.39 479.69,65.59 479.88,58.73 480.08,53.42 480.27,50.09 480.47,49.01 480.67,50.28 480.86,53.83 481.06,59.07 481.26,65.46 481.45,72.38 481.65,79.2 481.85,85.22 482.04,89.92 482.24,92.94 482.43,94.13 482.63,93.48 482.83,91.22 483.02,87.73 483.22,83.21 483.42,78.1 483.61,72.83 483.81,67.79 484,63.58 484.2,60.55 484.4,58.91 484.59,58.73 484.79,59.91 484.99,62.28 485.18,65.63 485.38,69.62 485.57,73.87 485.77,77.76 485.97,81.12 486.16,83.69 486.36,85.29 486.56,85.83 486.75,85.33 486.95,83.79 487.14,81.51 487.34,78.79 487.54,75.92 487.73,72.91 487.93,69.91 488.13,67.46 488.32,65.75 488.52,64.89 488.71,64.92 488.91,65.78 489.11,67.35 489.3,69.44 489.5,71.85 489.7,74.2 489.89,75.33 490.09,76.03 490.29,76.63 490.48,77.09 490.68,77.42 490.87,77.66 491.07,77.82 491.27,77.93 491.46,77.99 491.66,78 491.86,77.98 492.05,77.92 492.25,77.8 492.44,77.61 492.64,77.33 492.84,76.93 493.03,76.39 493.23,75.68 493.43,74.81 493.62,73.77 493.82,72.81 494.01,72.07 494.21,71.41 494.41,70.99 494.6,70.84 494.8,70.97 495,71.37 495.19,72.01 495.39,72.85 495.58,73.83 495.78,74.77 495.98,75.57 496.17,76.27 496.37,76.81 496.57,77.18 496.76,77.38 496.96,77.35 497.15,77.09 497.35,76.61 497.55,75.94 497.74,75.12 497.94,74.2 498.14,73.13 498.33,72.15 498.53,71.34 498.73,70.76 498.92,70.46 499.12,70.46 499.31,70.81 499.51,71.43 499.71,72.27 499.9,73.26 500.1,74.32 500.3,75.35 500.49,76.32 500.69,77.16 500.88,77.79 501.08,78.14 501.28,78.17 501.47,77.91 501.67,77.38 501.87,76.63 502.06,75.73 502.26,74.74 502.45,73.76 502.65,72.85 502.85,72.08 503.04,71.5 503.24,71.15 503.44,71.06 503.63,71.26 503.83,71.7 504.02,72.33 504.22,73.08 504.42,73.91 504.61,74.76 504.81,75.63 505.01,76.38 505.2,76.97 505.4,77.35 505.59,77.49 505.79,77.37 505.99,77.03 506.18,76.5 506.38,75.83 506.58,75.07 506.77,74.31 506.97,73.74 507.17,73.24 507.36,72.87 507.56,72.63 507.75,72.54 507.95,72.6 508.15,72.79 508.34,73.1 508.54,73.48 508.74,73.91 508.93,74.35 509.13,74.95 509.32,75.5 509.52,75.95 509.72,76.26 509.91,76.41 510.11,76.41 510.31,76.25 510.5,75.96 510.7,75.56 510.89,75.09 511.09,74.59 511.29,74.24 511.48,74.01 511.68,73.83 511.88,73.71 512.07,73.65 512.27,73.64 512.46,73.7 512.66,73.8 512.86,73.94 513.05,74.11 513.25,74.29 513.45,74.53 513.64,74.87 513.84,75.15 514.04,75.38 514.23,75.5 514.43,75.54 514.62,75.48 514.82,75.35 515.02,75.14 515.21,74.87 515.41,74.58 515.61,74.29 515.8,74.19 516,74.11 516.19,74.05 516.39,74 516.59,73.95 516.78,73.93 516.98,73.93 517.18,73.96 517.37,74.01 517.57,74.08 517.76,74.16 517.96,74.35 518.16,74.54 518.35,74.69 518.55,74.79 518.75,74.85 518.94,74.85 519.14,74.79 519.33,74.68 519.53,74.53 519.73,74.34 519.92,74.13 520.12,73.96 520.32,73.83 520.51,73.7 520.71,73.6 520.9,73.52 521.1,73.48 521.3,73.48 521.49,73.52 521.69,73.59 521.89,73.7 522.08,73.82 522.28,73.97 522.48,74.12 522.67,74.26 522.87,74.36 523.06,74.43 523.26,74.45 523.46,74.42 523.65,74.35 523.85,74.24 524.05,74.1 524.24,73.95 524.44,73.78 524.63,73.61 524.83,73.44 525.03,73.3 525.22,73.2 525.42,73.13 525.62,73.11 525.81,73.14 526.01,73.21 526.2,73.33 526.4,73.47 526.6,73.63 526.79,73.76 526.99,73.87 527.19,73.95 527.38,74.01 527.58,74.04 527.77,74.03 527.97,73.99 528.17,73.92 528.36,73.83 528.56,73.72 528.76,73.61 528.95,73.44 529.15,73.25 529.34,73.07 529.54,72.94 529.74,72.84 529.93,72.8 530.13,72.81 530.33,72.87 530.52,72.98 530.72,73.13 530.92,73.3 531.11,73.46 531.31,73.53 531.5,73.59 531.7,73.63 531.9,73.65 532.09,73.66 532.29,73.64 532.49,73.6 532.68,73.55 532.88,73.48 533.07,73.4 533.27,73.32 533.47,73.12 533.66,72.94 533.86,72.78 534.06,72.67 534.25,72.6 534.45,72.59 534.64,72.63 534.84,72.72 535.04,72.84 535.23,73 535.43,73.17 535.63,73.25 535.82,73.29 536.02,73.32 536.21,73.34 536.41,73.35 536.61,73.34 536.8,73.32 537,73.29 537.2,73.25 537.39,73.2 537.59,73.14 537.78,73.02 537.98,72.85 538.18,72.7 538.37,72.58 538.57,72.5 538.77,72.48 538.96,72.51 539.16,72.58 539.36,72.69 539.55,72.83 539.75,72.98 539.94,73.12 540.14,73.17 540.34,73.22 540.53,73.26 540.73,73.28 540.93,73.3 541.12,73.31 541.32,73.3 541.51,73.28 541.71,73.25 541.91,73.22 542.1,73.18 542.3,73.05 542.5,72.92 542.69,72.82 542.89,72.75 543.08,72.71 543.28,72.71 543.48,72.75 543.67,72.83 543.87,72.93 544.07,73.06 544.26,73.2 544.46,73.28 544.65,73.32 544.85,73.36 545.05,73.4 545.24,73.42 545.44,73.43 545.64,73.43 545.83,73.41 546.03,73.39 546.22,73.36 546.42,73.33 546.62,73.25 546.81,73.14 547.01,73.04 547.21,72.97 547.4,72.93 547.6,72.91 547.8,72.93 547.99,72.99 548.19,73.06 548.38,73.16 548.58,73.27 548.78,73.37 548.97,73.43 549.17,73.48 549.37,73.52 549.56,73.55 549.76,73.57 549.95,73.57 550.15,73.56 550.35,73.54 550.54,73.51 550.74,73.47 550.94,73.43 551.13,73.35 551.33,73.27 551.52,73.21 551.72,73.16 551.92,73.14 552.11,73.15 552.31,73.18 552.51,73.23 552.7,73.29 552.9,73.37 553.09,73.46 553.29,73.52 553.49,73.58 553.68,73.62 553.88,73.66 554.08,73.69 554.27,73.7 554.47,73.7 554.66,73.68 554.86,73.65 555.06,73.62 555.25,73.57 555.45,73.52 555.65,73.46 555.84,73.41 556.04,73.37 556.24,73.35 556.43,73.34 556.63,73.36 556.82,73.39 557.02,73.43 557.22,73.48 557.41,73.55 557.61,73.61 557.81,73.66 558,73.72 558.2,73.76 558.39,73.79 558.59,73.82 558.79,73.83 558.98,73.82 559.18,73.8 559.38,73.78 559.57,73.74 559.77,73.7 559.96,73.67 560.16,73.63 560.36,73.61 560.55,73.6 560.75,73.59 560.95,73.6 561.14,73.62 561.34,73.66 561.53,73.7 561.73,73.74 561.93,73.79 562.12,73.85 562.32,73.89 562.52,73.94 562.71,73.97 562.91,74 563.11,74.01 563.3,74.02 563.5,74.01 563.69,73.99 563.89,73.97 564.09,73.94 564.28,73.92 564.48,73.9 564.68,73.88 564.87,73.87 565.07,73.87 565.26,73.87 565.46,73.88 565.66,73.9 565.85,73.93 566.05,73.96 566.25,74 566.44,74.04 566.64,74.08 566.83,74.12 567.03,74.15 567.23,74.17 567.42,74.19 567.62,74.2 567.82,74.2 568.01,74.19 568.21,74.18 568.4,74.16 568.6,74.14 568.8,74.13 568.99,74.12 569.19,74.11 569.39,74.11 569.58,74.12 569.78,74.12 569.97,74.14 570.17,74.16 570.37,74.18 570.56,74.2 570.76,74.23 570.96,74.26 571.15,74.29 571.35,74.32 571.55,74.35 571.74,74.36 571.94,74.38 572.13,74.38 572.33,74.38 572.53,74.37 572.72,74.36 572.92,74.35 573.12,74.33 573.31,74.33 573.51,74.33 573.7,74.33 573.9,74.34 574.1,74.34 574.29,74.35 574.49,74.36 574.69,74.38 574.88,74.4 575.08,74.41 575.27,74.43 575.47,74.46 575.67,74.48 575.86,74.51 576.06,74.52 576.26,74.54 576.45,74.55 576.65,74.55 576.84,74.55 577.04,74.54 577.24,74.53 577.43,74.52 577.63,74.52 577.83,74.52 578.02,74.53 578.22,74.53 578.41,74.54 578.61,74.54 578.81,74.55 579,74.56 579.2,74.58 579.4,74.59 579.59,74.6 579.79,74.62 579.99,74.64 580.18,74.66 580.38,74.68 580.57,74.69 580.77,74.7 580.97,74.71 581.16,74.71 581.36,74.71 581.56,74.7 581.75,74.7 581.95,74.7 582.14,74.7 582.34,74.7 582.54,74.71 582.73,74.71 582.93,74.72 583.13,74.72 583.32,74.73 583.52,74.74 583.71,74.74 583.91,74.75 584.11,74.76 584.3,74.77 584.5,74.79 584.7,74.8 584.89,74.81 585.09,74.81 585.28,74.82 585.48,74.82 585.68,74.82 585.87,74.82 586.07,74.81 586.27,74.81 586.46,74.81 586.66,74.81 586.85,74.81 587.05,74.82 587.25,74.82 587.44,74.82 587.64,74.83 587.84,74.83 588.03,74.84 588.23,74.85 588.43,74.85 588.62,74.86 588.82,74.87 589.01,74.88 589.21,74.89 589.41,74.89 589.6,74.9 589.8,74.9 590,74.9 590.19,74.9 590.39,74.9 590.58,74.9 590.78,74.9 590.98,74.9 591.17,74.9 591.37,74.91 591.57,74.91 591.76,74.91 591.96,74.92 592.15,74.92 592.35,74.93 592.55,74.93 592.74,74.94 592.94,74.94 593.14,74.95 593.33,74.96 593.53,74.96 593.72,74.97 593.92,74.98 594.12,74.98 594.31,74.98 594.51,74.98 594.71,74.98 594.9,74.98 595.1,74.98 595.29,74.98 595.49,74.99 595.69,74.99 595.88,74.99 596.08,75 596.28,75 596.47,75 596.67,75.01 596.87,75.01 597.06,75.02 597.26,75.02 597.45,75.03 597.65,75.03 597.85,75.04 598.04,75.04 598.24,75.05 598.44,75.05 598.63,75.06 598.83,75.06 599.02,75.06 599.22,75.06 599.42,75.06 599.61,75.06 599.81,75.06 600.01,75.07 600.2,75.07 600.4,75.07 600.59,75.07 600.79,75.08 600.99,75.08 601.18,75.08 601.38,75.09 601.58,75.09 601.77,75.1 601.97,75.1 602.16,75.11 602.36,75.11 602.56,75.11 602.75,75.11 602.95,75.11 603.15,75.11 603.34,75.1 603.54,75.1 603.73,75.1 603.93,75.09 604.13,75.09 604.32,75.09 604.52,75.09 604.72,75.08 604.91,75.08 605.11,75.08 605.31,75.08 605.5,75.08 605.7,75.08 605.89,75.08 606.09,75.07 606.29,75.07 606.48,75.07 606.68,75.07 606.88,75.07 607.07,75.07 607.27,75.07 607.46,75.07 607.66,75.07 607.86,75.07 608.05,75.06 608.25,75.06 608.45,75.06 608.64,75.05 608.84,75.05 609.03,75.05 609.23,75.05 609.43,75.05 609.62,75.05 609.82,75.04 610.02,75.04 610.21,75.04 610.41,75.04 610.6,75.04 610.8,75.04 611,75.04 611.19,75.04 611.39,75.04 611.59,75.04 611.78,75.04 611.98,75.03 612.18,75.03 612.37,75.03 612.57,75.03 612.76,75.02 612.96,75.02 613.16,75.02 613.35,75.02 613.55,75.02 613.75,75.02 613.94,75.01 614.14,75.01 614.33,75.01 614.53,75.01 614.73,75.01 614.92,75.01 615.12,75.01 615.32,75.01 615.51,75.01 615.71,75.01 615.9,75 616.1,75 616.3,75 616.49,75 616.69,75 616.89,75 617.08,74.99 617.28,74.99 617.47,74.99 617.67,74.99 617.87,74.99 618.06,74.98 618.26,74.98 618.46,74.98 618.65,74.98 618.85,74.98 619.04,74.98 619.24,74.98 619.44,74.98 619.63,74.97 619.83,74.97 620.03,74.97 620.22,74.97 620.42,74.97 620.62,74.97 620.81,74.97 621.01,74.97 621.2,74.96 621.4,74.96 621.6,74.96 621.79,74.96 621.99,74.96 622.19,74.96 622.38,74.95 622.58,74.95 622.77,74.95 622.97,74.95 623.17,74.95 623.36,74.95 623.56,74.95 623.76,74.95 623.95,74.94 624.15,74.94 624.34,74.94 624.54,74.94 624.74,74.94 624.93,74.94 625.13,74.94 625.33,74.94 625.52,74.94 625.72,74.93 625.91,74.93 626.11,74.93 626.31,74.93 626.5,74.93 626.7,74.93 626.9,74.92 627.09,74.92 627.29,74.92 627.48,74.92 627.68,74.92 627.88,74.92 628.07,74.92 628.27,74.92 628.47,74.92 628.66,74.91 628.86,74.91 629.06,74.91 629.25,74.91 629.45,74.91 629.64,74.91 629.84,74.91 630.04,74.91 630.23,74.9 630.43,74.9 630.63,74.9 630.82,74.9 631.02,74.9 631.21,74.9 631.41,74.9 631.61,74.89 631.8,74.89 632,74.89 632.2,74.89 632.39,74.89 632.59,74.89 632.78,74.89 632.98,74.89 633.18,74.89 633.37,74.88 633.57,74.88 633.77,74.88 633.96,74.88 634.16,74.88 634.35,74.88 634.55,74.88 634.75,74.88 634.94,74.87 635.14,74.87 635.34,74.87 635.53,74.87 635.73,74.87 635.92,74.87 636.12,74.87 636.32,74.87 636.51,74.86 636.71,74.86 636.91,74.86 637.1,74.86 637.3,74.86 637.5,74.86 637.69,74.86 637.89,74.86 638.08,74.86 638.28,74.86 638.48,74.85 638.67,74.85 638.87,74.85 639.07,74.85 639.26,74.85 639.46,74.85 639.65,74.85 639.85,74.84 640.05,74.84 640.24,74.84 640.44,74.84 640.64,74.84 640.83,74.84 641.03,74.84 641.22,74.84 641.42,74.84 641.62,74.84 641.81,74.83 642.01,74.83 642.21,74.83 642.4,74.83 642.6,74.83 642.79,74.83 642.99,74.83 643.19,74.83 643.38,74.83 643.58,74.82 643.78,74.82 643.97,74.82 644.17,74.82 644.36,74.82 644.56,74.82 644.76,74.82 644.95,74.82 645.15,74.82 645.35,74.81 645.54,74.81 645.74,74.81 645.94,74.81 646.13,74.81 646.33,74.81 646.52,74.81 646.72,74.81 646.92,74.81 647.11,74.81 647.31,74.8 647.51,74.8 647.7,74.8 647.9,74.8 648.09,74.8 648.29,74.8 648.49,74.8 648.68,74.8 648.88,74.8 649.08,74.79 649.27,74.79 649.47,74.79 649.66,74.79 649.86,74.79 650.06,74.79 650.25,74.79 650.45,74.79 650.65,74.79 650.84,74.79 651.04,74.78 651.23,74.78 651.43,74.78 651.63,74.78 651.82,74.78 652.02,74.78 652.22,74.78 652.41,74.78 652.61,74.78 652.8,74.78 653,74.77 653.2,74.77 653.39,74.77 653.59,74.77 653.79,74.77 653.98,74.77 654.18,74.77 654.38,74.77 654.57,74.77 654.77,74.77 654.96,74.76 655.16,74.76 655.36,74.76 655.55,74.76 655.75,74.76 655.95,74.76 656.14,74.76 656.34,74.76 656.53,74.76 656.73,74.76 656.93,74.75 657.12,74.75 657.32,74.75 657.52,74.75 657.71,74.75 657.91,74.75 658.1,74.75 658.3,74.75 658.5,74.75 658.69,74.75 658.89,74.75 659.09,74.74 659.28,74.74 659.48,74.74 659.67,74.74 659.87,74.74 660.07,74.74 660.26,74.74"/>
<polyline fill="none" stroke="#000080" stroke-width="1.3" stroke-linejoin="round" points="473.6,88.02 473.8,96.34 473.99,102.51 474.19,106.02 474.39,106.62 474.58,104.33 474.78,99.41 474.98,92.38 475.17,83.9 475.37,74.78 475.56,67.33 475.76,60.72 475.96,55.46 476.15,52 476.35,50.61 476.55,51.42 476.74,54.27 476.94,58.86 477.13,64.72 477.33,71.31 477.53,78.72 477.72,86.16 477.92,92.36 478.12,96.8 478.31,99.14 478.51,99.2 478.7,97.05 478.9,92.92 479.1,87.08 479.29,80.41 479.49,73.66 479.69,67.97 479.88,63 480.08,59.17 480.27,56.79 480.47,56.06 480.67,57.02 480.86,59.61 481.06,63.41 481.26,68 481.45,72.96 481.65,77.82 481.85,82.08 482.04,85.39 482.24,87.5 482.43,88.3 482.63,87.81 482.83,86.19 483.02,83.72 483.22,80.55 483.42,76.98 483.61,73.31 483.81,69.82 484,66.93 484.2,64.86 484.4,63.76 484.59,63.66 484.79,64.49 484.99,66.13 485.18,68.43 485.38,71.16 485.57,74.04 485.77,76.67 485.97,78.92 486.16,80.64 486.36,81.7 486.56,82.04 486.75,81.68 486.95,80.64 487.14,79.11 487.34,77.3 487.54,75.4 487.73,73.42 487.93,71.45 488.13,69.85 488.32,68.75 488.52,68.21 488.71,68.24 488.91,68.81 489.11,69.84 489.3,71.21 489.5,72.76 489.7,74.27 489.89,74.99 490.09,75.44 490.29,75.82 490.48,76.11 490.68,76.31 490.87,76.46 491.07,76.56 491.27,76.62 491.46,76.65 491.66,76.65 491.86,76.63 492.05,76.59 492.25,76.51 492.44,76.38 492.64,76.21 492.84,75.96 493.03,75.62 493.23,75.18 493.43,74.65 493.62,74.02 493.82,73.43 494.01,72.99 494.21,72.6 494.41,72.35 494.6,72.26 494.8,72.34 495,72.59 495.19,72.98 495.39,73.48 495.58,74.06 495.78,74.62 495.98,75.09 496.17,75.5 496.37,75.82 496.57,76.03 496.76,76.14 496.96,76.12 497.15,75.96 497.35,75.68 497.55,75.29 497.74,74.82 497.94,74.28 498.14,73.67 498.33,73.11 498.53,72.65 498.73,72.33 498.92,72.16 499.12,72.17 499.31,72.37 499.51,72.73 499.71,73.2 499.9,73.76 500.1,74.36 500.3,74.93 500.49,75.47 500.69,75.93 500.88,76.28 501.08,76.47 501.28,76.47 501.47,76.33 501.67,76.03 501.87,75.62 502.06,75.12 502.26,74.58 502.45,74.05 502.65,73.57 502.85,73.15 503.04,72.84 503.24,72.66 503.44,72.61 503.63,72.73 503.83,72.96 504.02,73.3 504.22,73.7 504.42,74.14 504.61,74.59 504.81,75.04 505.01,75.44 505.2,75.74 505.4,75.94 505.59,76 505.79,75.94 505.99,75.76 506.18,75.48 506.38,75.14 506.58,74.75 506.77,74.36 506.97,74.06 507.17,73.81 507.36,73.62 507.56,73.5 507.75,73.46 507.95,73.49 508.15,73.59 508.34,73.75 508.54,73.94 508.74,74.16 508.93,74.37 509.13,74.67 509.32,74.94 509.52,75.16 509.72,75.31 509.91,75.39 510.11,75.38 510.31,75.3 510.5,75.16 510.7,74.96 510.89,74.73 511.09,74.49 511.29,74.32 511.48,74.21 511.68,74.13 511.88,74.07 512.07,74.04 512.27,74.04 512.46,74.07 512.66,74.12 512.86,74.18 513.05,74.26 513.25,74.35 513.45,74.46 513.64,74.62 513.84,74.75 514.04,74.85 514.23,74.9 514.43,74.91 514.62,74.88 514.82,74.81 515.02,74.71 515.21,74.58 515.41,74.44 515.61,74.31 515.8,74.26 516,74.21 516.19,74.18 516.39,74.15 516.59,74.13 516.78,74.11 516.98,74.11 517.18,74.12 517.37,74.13 517.57,74.16 517.76,74.19 517.96,74.27 518.16,74.35 518.35,74.41 518.55,74.45 518.75,74.46 518.94,74.46 519.14,74.43 519.33,74.37 519.53,74.3 519.73,74.21 519.92,74.12 520.12,74.04 520.32,73.98 520.51,73.92 520.71,73.87 520.9,73.84 521.1,73.82 521.3,73.81 521.49,73.82 521.69,73.85 521.89,73.89 522.08,73.93 522.28,73.99 522.48,74.05 522.67,74.1 522.87,74.14 523.06,74.16 523.26,74.16 523.46,74.14 523.65,74.11 523.85,74.06 524.05,74 524.24,73.93 524.44,73.86 524.63,73.78 524.83,73.71 525.03,73.65 525.22,73.6 525.42,73.57 525.62,73.56 525.81,73.57 526.01,73.59 526.2,73.63 526.4,73.69 526.6,73.75 526.79,73.79 526.99,73.83 527.19,73.85 527.38,73.87 527.58,73.88 527.77,73.87 527.97,73.85 528.17,73.82 528.36,73.78 528.56,73.73 528.76,73.68 528.95,73.62 529.15,73.54 529.34,73.47 529.54,73.41 529.74,73.37 529.93,73.35 530.13,73.35 530.33,73.37 530.52,73.41 530.72,73.46 530.92,73.52 531.11,73.57 531.31,73.59 531.5,73.61 531.7,73.62 531.9,73.62 532.09,73.62 532.29,73.61 532.49,73.59 532.68,73.56 532.88,73.54 533.07,73.5 533.27,73.47 533.47,73.39 533.66,73.32 533.86,73.26 534.06,73.22 534.25,73.19 534.45,73.19 534.64,73.2 534.84,73.22 535.04,73.26 535.23,73.31 535.43,73.37 535.63,73.39 535.82,73.4 536.02,73.41 536.21,73.41 536.41,73.41 536.61,73.4 536.8,73.39 537,73.38 537.2,73.36 537.39,73.33 537.59,73.31 537.78,73.27 537.98,73.21 538.18,73.15 538.37,73.11 538.57,73.08 538.77,73.08 538.96,73.09 539.16,73.12 539.36,73.16 539.55,73.21 539.75,73.26 539.94,73.31 540.14,73.33 540.34,73.35 540.53,73.37 540.73,73.38 540.93,73.39 541.12,73.39 541.32,73.39 541.51,73.39 541.71,73.38 541.91,73.38 542.1,73.37 542.3,73.33 542.5,73.3 542.69,73.27 542.89,73.25 543.08,73.24 543.28,73.24 543.48,73.26 543.67,73.29 543.87,73.33 544.07,73.37 544.26,73.41 544.46,73.44 544.65,73.46 544.85,73.48 545.05,73.49 545.24,73.5 545.44,73.51 545.64,73.51 545.83,73.51 546.03,73.51 546.22,73.5 546.42,73.49 546.62,73.47 546.81,73.44 547.01,73.42 547.21,73.4 547.4,73.39 547.6,73.39 547.8,73.4 547.99,73.42 548.19,73.45 548.38,73.48 548.58,73.51 548.78,73.55 548.97,73.57 549.17,73.58 549.37,73.6 549.56,73.61 549.76,73.62 549.95,73.63 550.15,73.63 550.35,73.62 550.54,73.62 550.74,73.61 550.94,73.6 551.13,73.58 551.33,73.56 551.52,73.55 551.72,73.54 551.92,73.54 552.11,73.54 552.31,73.55 552.51,73.57 552.7,73.59 552.9,73.62 553.09,73.65 553.29,73.67 553.49,73.68 553.68,73.7 553.88,73.71 554.08,73.72 554.27,73.73 554.47,73.73 554.66,73.73 554.86,73.73 555.06,73.72 555.25,73.71 555.45,73.7 555.65,73.69 555.84,73.68 556.04,73.67 556.24,73.67 556.43,73.67 556.63,73.68 556.82,73.69 557.02,73.7 557.22,73.72 557.41,73.74 557.61,73.76 557.81,73.78 558,73.79 558.2,73.81 558.39,73.82 558.59,73.83 558.79,73.84 558.98,73.85 559.18,73.85 559.38,73.85 559.57,73.84 559.77,73.84 559.96,73.84 560.16,73.84 560.36,73.84 560.55,73.84 560.75,73.84 560.95,73.85 561.14,73.86 561.34,73.88 561.53,73.89 561.73,73.91 561.93,73.93 562.12,73.95 562.32,73.96 562.52,73.98 562.71,73.99 562.91,74.01 563.11,74.01 563.3,74.02 563.5,74.02 563.69,74.03 563.89,74.03 564.09,74.03 564.28,74.03 564.48,74.03 564.68,74.03 564.87,74.03 565.07,74.04 565.26,74.04 565.46,74.05 565.66,74.06 565.85,74.07 566.05,74.09 566.25,74.1 566.44,74.11 566.64,74.13 566.83,74.14 567.03,74.16 567.23,74.17 567.42,74.18 567.62,74.18 567.82,74.19 568.01,74.19 568.21,74.19 568.4,74.19 568.6,74.19 568.8,74.2 568.99,74.2 569.19,74.2 569.39,74.21 569.58,74.22 569.78,74.22 569.97,74.23 570.17,74.24 570.37,74.25 570.56,74.26 570.76,74.27 570.96,74.28 571.15,74.29 571.35,74.3 571.55,74.32 571.74,74.32 571.94,74.33 572.13,74.34 572.33,74.34 572.53,74.35 572.72,74.35 572.92,74.35 573.12,74.35 573.31,74.36 573.51,74.36 573.7,74.37 573.9,74.37 574.1,74.38 574.29,74.38 574.49,74.39 574.69,74.4 574.88,74.41 575.08,74.42 575.27,74.42 575.47,74.43 575.67,74.44 575.86,74.45 576.06,74.46 576.26,74.47 576.45,74.47 576.65,74.48 576.84,74.48 577.04,74.49 577.24,74.49 577.43,74.49 577.63,74.5 577.83,74.5 578.02,74.51 578.22,74.51 578.41,74.52 578.61,74.52 578.81,74.53 579,74.53 579.2,74.54 579.4,74.55 579.59,74.56 579.79,74.56 579.99,74.57 580.18,74.58 580.38,74.59 580.57,74.59 580.77,74.6 580.97,74.6 581.16,74.61 581.36,74.61 581.56,74.62 581.75,74.62 581.95,74.62 582.14,74.63 582.34,74.63 582.54,74.64 582.73,74.64 582.93,74.64 583.13,74.65 583.32,74.65 583.52,74.65 583.71,74.66 583.91,74.66 584.11,74.67 584.3,74.67 584.5,74.68 584.7,74.68 584.89,74.68 585.09,74.69 585.28,74.69 585.48,74.69 585.68,74.69 585.87,74.7 586.07,74.7 586.27,74.7 586.46,74.7 586.66,74.7 586.85,74.71 587.05,74.71 587.25,74.71 587.44,74.71 587.64,74.72 587.84,74.72 588.03,74.72 588.23,74.73 588.43,74.73 588.62,74.73 588.82,74.74 589.01,74.74 589.21,74.74 589.41,74.75 589.6,74.75 589.8,74.75 590,74.75 590.19,74.76 590.39,74.76 590.58,74.76 590.78,74.76 590.98,74.76 591.17,74.77 591.37,74.77 591.57,74.77 591.76,74.77 591.96,74.78 592.15,74.78 592.35,74.78 592.55,74.78 592.74,74.79 592.94,74.79 593.14,74.79 593.33,74.79 593.53,74.8 593.72,74.8 593.92,74.8 594.12,74.8 594.31,74.81 594.51,74.81 594.71,74.81 594.9,74.81 595.1,74.81 595.29,74.82 595.49,74.82 595.69,74.82 595.88,74.82 596.08,74.82 596.28,74.83 596.47,74.83 596.67,74.83 596.87,74.83 597.06,74.84 597.26,74.84 597.45,74.84 597.65,74.84 597.85,74.85 598.04,74.85 598.24,74.85 598.44,74.85 598.63,74.85 598.83,74.86 599.02,74.86 599.22,74.86 599.42,74.86 599.61,74.86 599.81,74.86 600.01,74.87 600.2,74.87 600.4,74.87 600.59,74.87 600.79,74.87 600.99,74.88 601.18,74.88 601.38,74.88 601.58,74.88 601.77,74.88 601.97,74.89 602.16,74.89 602.36,74.89 602.56,74.89 602.75,74.89 602.95,74.89 603.15,74.88 603.34,74.88 603.54,74.88 603.73,74.88 603.93,74.88 604.13,74.88 604.32,74.88 604.52,74.87 604.72,74.87 604.91,74.87 605.11,74.87 605.31,74.87 605.5,74.87 605.7,74.87 605.89,74.86 606.09,74.86 606.29,74.86 606.48,74.86 606.68,74.86 606.88,74.86 607.07,74.86 607.27,74.86 607.46,74.85 607.66,74.85 607.86,74.85 608.05,74.85 608.25,74.85 608.45,74.85 608.64,74.85 608.84,74.84 609.03,74.84 609.23,74.84 609.43,74.84 609.62,74.84 609.82,74.84 610.02,74.84 610.21,74.83 610.41,74.83 610.6,74.83 610.8,74.83 611,74.83 611.19,74.83 611.39,74.83 611.59,74.83 611.78,74.82 611.98,74.82 612.18,74.82 612.37,74.82 612.57,74.82 612.76,74.82 612.96,74.82 613.16,74.82 613.35,74.81 613.55,74.81 613.75,74.81 613.94,74.81 614.14,74.81 614.33,74.81 614.53,74.81 614.73,74.81 614.92,74.8 615.12,74.8 615.32,74.8 615.51,74.8 615.71,74.8 615.9,74.8 616.1,74.8 616.3,74.8 616.49,74.79 616.69,74.79 616.89,74.79 617.08,74.79 617.28,74.79 617.47,74.79 617.67,74.79 617.87,74.79 618.06,74.78 618.26,74.78 618.46,74.78 618.65,74.78 618.85,74.78 619.04,74.78 619.24,74.78 619.44,74.78 619.63,74.78 619.83,74.77 620.03,74.77 620.22,74.77 620.42,74.77 620.62,74.77 620.81,74.77 621.01,74.77 621.2,74.77 621.4,74.77 621.6,74.76 621.79,74.76 621.99,74.76 622.19,74.76 622.38,74.76 622.58,74.76 622.77,74.76 622.97,74.76 623.17,74.76 623.36,74.75 623.56,74.75 623.76,74.75 623.95,74.75 624.15,74.75 624.34,74.75 624.54,74.75 624.74,74.75 624.93,74.75 625.13,74.74 625.33,74.74 625.52,74.74 625.72,74.74 625.91,74.74 626.11,74.74 626.31,74.74 626.5,74.74 626.7,74.74 626.9,74.73 627.09,74.73 627.29,74.73 627.48,74.73 627.68,74.73 627.88,74.73 628.07,74.73 628.27,74.73 628.47,74.73 628.66,74.73 628.86,74.72 629.06,74.72 629.25,74.72 629.45,74.72 629.64,74.72 629.84,74.72 630.04,74.72 630.23,74.72 630.43,74.72 630.63,74.72 630.82,74.71 631.02,74.71 631.21,74.71 631.41,74.71 631.61,74.71 631.8,74.71 632,74.71 632.2,74.71 632.39,74.71 632.59,74.71 632.78,74.7 632.98,74.7 633.18,74.7 633.37,74.7 633.57,74.7 633.77,74.7 633.96,74.7 634.16,74.7 634.35,74.7 634.55,74.7 634.75,74.69 634.94,74.69 635.14,74.69 635.34,74.69 635.53,74.69 635.73,74.69 635.92,74.69 636.12,74.69 636.32,74.69 636.51,74.69 636.71,74.69 636.91,74.68 637.1,74.68 637.3,74.68 637.5,74.68 637.69,74.68 637.89,74.68 638.08,74.68 638.28,74.68 638.48,74.68 638.67,74.68 638.87,74.68 639.07,74.67 639.26,74.67 639.46,74.67 639.65,74.67 639.85,74.67 640.05,74.67 640.24,74.67 640.44,74.67 640.64,74.67 640.83,74.67 641.03,74.67 641.22,74.67 641.42,74.66 641.62,74.66 641.81,74.66 642.01,74.66 642.21,74.66 642.4,74.66 642.6,74.66 642.79,74.66 642.99,74.66 643.19,74.66 643.38,74.66 643.58,74.65 643.78,74.65 643.97,74.65 644.17,74.65 644.36,74.65 644.56,74.65 644.76,74.65 644.95,74.65 645.15,74.65 645.35,74.65 645.54,74.65 645.74,74.65 645.94,74.65 646.13,74.64 646.33,74.64 646.52,74.64 646.72,74.64 646.92,74.64 647.11,74.64 647.31,74.64 647.51,74.64 647.7,74.64 647.9,74.64 648.09,74.64 648.29,74.64 648.49,74.63 648.68,74.63 648.88,74.63 649.08,74.63 649.27,74.63 649.47,74.63 649.66,74.63 649.86,74.63 650.06,74.63 650.25,74.63 650.45,74.63 650.65,74.63 650.84,74.63 651.04,74.62 651.23,74.62 651.43,74.62 651.63,74.62 651.82,74.62 652.02,74.62 652.22,74.62 652.41,74.62 652.61,74.62 652.8,74.62 653,74.62 653.2,74.62 653.39,74.62 653.59,74.62 653.79,74.61 653.98,74.61 654.18,74.61 654.38,74.61 654.57,74.61 654.77,74.61 654.96,74.61 655.16,74.61 655.36,74.61 655.55,74.61 655.75,74.61 655.95,74.61 656.14,74.61 656.34,74.61 656.53,74.6 656.73,74.6 656.93,74.6 657.12,74.6 657.32,74.6 657.52,74.6 657.71,74.6 657.91,74.6 658.1,74.6 658.3,74.6 658.5,74.6 658.69,74.6 658.89,74.6 659.09,74.6 659.28,74.6 659.48,74.59 659.67,74.59 659.87,74.59 660.07,74.59 660.26,74.59"/>
<polyline fill="none" stroke="#8000ff" stroke-width="1.3" stroke-linejoin="round" points="473.6,82.95 473.8,88.11 473.99,91.89 474.19,93.99 474.39,94.28 474.58,92.79 474.78,89.7 474.98,85.35 475.17,80.17 475.37,74.63 475.56,70.15 475.76,66.21 475.96,63.1 476.15,61.1 476.35,60.33 476.55,60.87 476.74,62.6 476.94,65.32 477.13,68.77 477.33,72.61 477.53,76.89 477.72,81.15 477.92,84.67 478.12,87.15 478.31,88.42 478.51,88.39 478.7,87.12 478.9,84.76 479.1,81.46 479.29,77.73 479.49,73.99 479.69,70.86 479.88,68.16 480.08,66.09 480.27,64.84 480.47,64.48 480.67,65.04 480.86,66.48 481.06,68.53 481.26,71 481.45,73.64 481.65,76.2 481.85,78.43 482.04,80.14 482.24,81.21 482.43,81.6 482.63,81.31 482.83,80.45 483.02,79.16 483.22,77.53 483.42,75.71 483.61,73.85 483.81,72.1 484,70.66 484.2,69.65 484.4,69.12 484.59,69.1 484.79,69.53 484.99,70.36 485.18,71.49 485.38,72.83 485.57,74.23 485.77,75.49 485.97,76.57 486.16,77.37 486.36,77.86 486.56,78.01 486.75,77.83 486.95,77.32 487.14,76.6 487.34,75.75 487.54,74.86 487.73,73.95 487.93,73.05 488.13,72.33 488.32,71.83 488.52,71.6 488.71,71.63 488.91,71.89 489.11,72.36 489.3,72.98 489.5,73.68 489.7,74.34 489.89,74.66 490.09,74.85 490.29,75.02 490.48,75.14 490.68,75.23 490.87,75.28 491.07,75.32 491.27,75.34 491.46,75.35 491.66,75.35 491.86,75.34 492.05,75.31 492.25,75.28 492.44,75.22 492.64,75.15 492.84,75.04 493.03,74.9 493.23,74.72 493.43,74.5 493.62,74.24 493.82,74.01 494.01,73.83 494.21,73.68 494.41,73.59 494.6,73.55 494.8,73.59 495,73.69 495.19,73.85 495.39,74.04 495.58,74.27 495.78,74.48 495.98,74.67 496.17,74.82 496.37,74.94 496.57,75.01 496.76,75.05 496.96,75.04 497.15,74.98 497.35,74.88 497.55,74.73 497.74,74.55 497.94,74.36 498.14,74.13 498.33,73.93 498.53,73.77 498.73,73.65 498.92,73.6 499.12,73.6 499.31,73.68 499.51,73.81 499.71,73.98 499.9,74.18 500.1,74.38 500.3,74.58 500.49,74.77 500.69,74.93 500.88,75.04 501.08,75.11 501.28,75.11 501.47,75.05 501.67,74.95 501.87,74.81 502.06,74.64 502.26,74.46 502.45,74.29 502.65,74.12 502.85,73.99 503.04,73.89 503.24,73.83 503.44,73.82 503.63,73.86 503.83,73.94 504.02,74.05 504.22,74.18 504.42,74.32 504.61,74.46 504.81,74.6 505.01,74.72 505.2,74.82 505.4,74.88 505.59,74.89 505.79,74.87 505.99,74.82 506.18,74.73 506.38,74.62 506.58,74.5 506.77,74.39 506.97,74.3 507.17,74.22 507.36,74.17 507.56,74.14 507.75,74.12 507.95,74.13 508.15,74.16 508.34,74.21 508.54,74.27 508.74,74.33 508.93,74.39 509.13,74.48 509.32,74.55 509.52,74.62 509.72,74.66 509.91,74.68 510.11,74.67 510.31,74.65 510.5,74.61 510.7,74.55 510.89,74.49 511.09,74.42 511.29,74.38 511.48,74.35 511.68,74.33 511.88,74.31 512.07,74.3 512.27,74.3 512.46,74.31 512.66,74.33 512.86,74.34 513.05,74.36 513.25,74.39 513.45,74.42 513.64,74.46 513.84,74.49 514.04,74.52 514.23,74.52 514.43,74.52 514.62,74.5 514.82,74.48 515.02,74.45 515.21,74.41 515.41,74.37 515.61,74.33 515.8,74.31 516,74.29 516.19,74.28 516.39,74.27 516.59,74.25 516.78,74.25 516.98,74.24 517.18,74.23 517.37,74.23 517.57,74.23 517.76,74.23 517.96,74.25 518.16,74.26 518.35,74.27 518.55,74.27 518.75,74.27 518.94,74.26 519.14,74.25 519.33,74.23 519.53,74.21 519.73,74.18 519.92,74.16 520.12,74.13 520.32,74.11 520.51,74.1 520.71,74.08 520.9,74.07 521.1,74.06 521.3,74.05 521.49,74.05 521.69,74.05 521.89,74.05 522.08,74.06 522.28,74.06 522.48,74.07 522.67,74.07 522.87,74.08 523.06,74.08 523.26,74.07 523.46,74.06 523.65,74.05 523.85,74.03 524.05,74.02 524.24,74 524.44,73.98 524.63,73.96 524.83,73.94 525.03,73.92 525.22,73.91 525.42,73.9 525.62,73.89 525.81,73.89 526.01,73.89 526.2,73.89 526.4,73.9 526.6,73.9 526.79,73.91 526.99,73.91 527.19,73.91 527.38,73.91 527.58,73.9 527.77,73.9 527.97,73.89 528.17,73.88 528.36,73.87 528.56,73.85 528.76,73.84 528.95,73.82 529.15,73.8 529.34,73.79 529.54,73.77 529.74,73.76 529.93,73.75 530.13,73.75 530.33,73.75 530.52,73.75 530.72,73.76 530.92,73.76 531.11,73.77 531.31,73.77 531.5,73.77 531.7,73.76 531.9,73.76 532.09,73.76 532.29,73.75 532.49,73.74 532.68,73.73 532.88,73.73 533.07,73.72 533.27,73.71 533.47,73.69 533.66,73.68 533.86,73.66 534.06,73.65 534.25,73.64 534.45,73.64 534.64,73.64 534.84,73.64 535.04,73.64 535.23,73.64 535.43,73.65 535.63,73.65 535.82,73.65 536.02,73.64 536.21,73.64 536.41,73.64 536.61,73.63 536.8,73.63 537,73.62 537.2,73.62 537.39,73.61 537.59,73.6 537.78,73.59 537.98,73.58 538.18,73.57 538.37,73.56 538.57,73.55 538.77,73.55 538.96,73.56 539.16,73.57 539.36,73.58 539.55,73.59 539.75,73.6 539.94,73.61 540.14,73.62 540.34,73.63 540.53,73.63 540.73,73.64 540.93,73.64 541.12,73.65 541.32,73.65 541.51,73.66 541.71,73.66 541.91,73.66 542.1,73.67 542.3,73.66 542.5,73.66 542.69,73.66 542.89,73.66 543.08,73.67 543.28,73.67 543.48,73.68 543.67,73.69 543.87,73.69 544.07,73.7 544.26,73.71 544.46,73.72 544.65,73.73 544.85,73.73 545.05,73.74 545.24,73.74 545.44,73.75 545.64,73.75 545.83,73.76 546.03,73.76 546.22,73.76 546.42,73.76 546.62,73.77 546.81,73.77 547.01,73.77 547.21,73.77 547.4,73.77 547.6,73.77 547.8,73.78 547.99,73.78 548.19,73.79 548.38,73.8 548.58,73.81 548.78,73.81 548.97,73.82 549.17,73.83 549.37,73.83 549.56,73.84 549.76,73.84 549.95,73.84 550.15,73.85 550.35,73.85 550.54,73.85 550.74,73.86 550.94,73.86 551.13,73.86 551.33,73.86 551.52,73.86 551.72,73.86 551.92,73.87 552.11,73.87 552.31,73.88 552.51,73.88 552.7,73.89 552.9,73.89 553.09,73.9 553.29,73.9 553.49,73.91 553.68,73.91 553.88,73.92 554.08,73.92 554.27,73.93 554.47,73.93 554.66,73.93 554.86,73.94 555.06,73.94 555.25,73.94 555.45,73.94 555.65,73.94 555.84,73.95 556.04,73.95 556.24,73.95 556.43,73.95 556.63,73.96 556.82,73.96 557.02,73.97 557.22,73.97 557.41,73.98 557.61,73.98 557.81,73.98 558,73.99 558.2,73.99 558.39,74 558.59,74.01 558.79,74.01 558.98,74.02 559.18,74.02 559.38,74.03 559.57,74.03 559.77,74.04 559.96,74.04 560.16,74.05 560.36,74.05 560.55,74.06 560.75,74.06 560.95,74.07 561.14,74.08 561.34,74.08 561.53,74.09 561.73,74.09 561.93,74.1 562.12,74.11 562.32,74.11 562.52,74.12 562.71,74.13 562.91,74.13 563.11,74.14 563.3,74.14 563.5,74.15 563.69,74.15 563.89,74.16 564.09,74.16 564.28,74.17 564.48,74.17 564.68,74.17 564.87,74.18 565.07,74.18 565.26,74.19 565.46,74.19 565.66,74.2 565.85,74.21 566.05,74.21 566.25,74.22 566.44,74.22 566.64,74.23 566.83,74.23 567.03,74.24 567.23,74.24 567.42,74.25 567.62,74.25 567.82,74.26 568.01,74.26 568.21,74.27 568.4,74.27 568.6,74.27 568.8,74.28 568.99,74.28 569.19,74.29 569.39,74.29 569.58,74.29 569.78,74.3 569.97,74.3 570.17,74.31 570.37,74.31 570.56,74.32 570.76,74.32 570.96,74.33 571.15,74.33 571.35,74.34 571.55,74.34 571.74,74.34 571.94,74.35 572.13,74.35 572.33,74.36 572.53,74.36 572.72,74.36 572.92,74.37 573.12,74.37 573.31,74.38 573.51,74.38 573.7,74.38 573.9,74.39 574.1,74.39 574.29,74.39 574.49,74.4 574.69,74.4 574.88,74.41 575.08,74.41 575.27,74.41 575.47,74.42 575.67,74.42 575.86,74.43 576.06,74.43 576.26,74.43 576.45,74.44 576.65,74.44 576.84,74.44 577.04,74.45 577.24,74.45 577.43,74.45 577.63,74.46 577.83,74.46 578.02,74.46 578.22,74.47 578.41,74.47 578.61,74.47 578.81,74.48 579,74.48 579.2,74.48 579.4,74.49 579.59,74.49 579.79,74.49 579.99,74.5 580.18,74.5 580.38,74.5 580.57,74.51 580.77,74.51 580.97,74.51 581.16,74.52 581.36,74.52 581.56,74.52 581.75,74.52 581.95,74.53 582.14,74.53 582.34,74.53 582.54,74.54 582.73,74.54 582.93,74.54 583.13,74.54 583.32,74.54 583.52,74.54 583.71,74.55 583.91,74.55 584.11,74.55 584.3,74.55 584.5,74.55 584.7,74.55 584.89,74.56 585.09,74.56 585.28,74.56 585.48,74.56 585.68,74.56 585.87,74.56 586.07,74.56 586.27,74.57 586.46,74.57 586.66,74.57 586.85,74.57 587.05,74.57 587.25,74.57 587.44,74.57 587.64,74.57 587.84,74.58 588.03,74.58 588.23,74.58 588.43,74.58 588.62,74.58 588.82,74.58 589.01,74.58 589.21,74.59 589.41,74.59 589.6,74.59 589.8,74.59 590,74.59 590.19,74.59 590.39,74.59 590.58,74.59 590.78,74.59 590.98,74.6 591.17,74.6 591.37,74.6 591.57,74.6 591.76,74.6 591.96,74.6 592.15,74.6 592.35,74.6 592.55,74.6 592.74,74.61 592.94,74.61 593.14,74.61 593.33,74.61 593.53,74.61 593.72,74.61 593.92,74.61 594.12,74.61 594.31,74.61 594.51,74.62 594.71,74.62 594.9,74.62 595.1,74.62 595.29,74.62 595.49,74.62 595.69,74.62 595.88,74.62 596.08,74.62 596.28,74.62 596.47,74.62 596.67,74.63 596.87,74.63 597.06,74.63 597.26,74.63 597.45,74.63 597.65,74.63 597.85,74.63 598.04,74.63 598.24,74.63 598.44,74.63 598.63,74.63 598.83,74.63 599.02,74.64 599.22,74.64 599.42,74.64 599.61,74.64 599.81,74.64 600.01,74.64 600.2,74.64 600.4,74.64 600.59,74.64 600.79,74.64 600.99,74.64 601.18,74.64 601.38,74.64 601.58,74.64 601.77,74.64 601.97,74.65 602.16,74.65 602.36,74.65 602.56,74.65 602.75,74.64 602.95,74.64 603.15,74.64 603.34,74.64 603.54,74.64 603.73,74.64 603.93,74.64 604.13,74.64 604.32,74.64 604.52,74.64 604.72,74.63 604.91,74.63 605.11,74.63 605.31,74.63 605.5,74.63 605.7,74.63 605.89,74.63 606.09,74.63 606.29,74.63 606.48,74.63 606.68,74.63 606.88,74.62 607.07,74.62 607.27,74.62 607.46,74.62 607.66,74.62 607.86,74.62 608.05,74.62 608.25,74.62 608.45,74.62 608.64,74.62 608.84,74.62 609.03,74.61 609.23,74.61 609.43,74.61 609.62,74.61 609.82,74.61 610.02,74.61 610.21,74.61 610.41,74.61 610.6,74.61 610.8,74.61 611,74.61 611.19,74.6 611.39,74.6 611.59,74.6 611.78,74.6 611.98,74.6 612.18,74.6 612.37,74.6 612.57,74.6 612.76,74.6 612.96,74.6 613.16,74.6 613.35,74.6 613.55,74.59 613.75,74.59 613.94,74.59 614.14,74.59 614.33,74.59 614.53,74.59 614.73,74.59 614.92,74.59 615.12,74.59 615.32,74.59 615.51,74.59 615.71,74.59 615.9,74.59 616.1,74.58 616.3,74.58 616.49,74.58 616.69,74.58 616.89,74.58 617.08,74.58 617.28,74.58 617.47,74.58 617.67,74.58 617.87,74.58 618.06,74.58 618.26,74.58 618.46,74.58 618.65,74.57 618.85,74.57 619.04,74.57 619.24,74.57 619.44,74.57 619.63,74.57 619.83,74.57 620.03,74.57 620.22,74.57 620.42,74.57 620.62,74.57 620.81,74.57 621.01,74.57 621.2,74.57 621.4,74.56 621.6,74.56 621.79,74.56 621.99,74.56 622.19,74.56 622.38,74.56 622.58,74.56 622.77,74.56 622.97,74.56 623.17,74.56 623.36,74.56 623.56,74.56 623.76,74.56 623.95,74.56 624.15,74.55 624.34,74.55 624.54,74.55 624.74,74.55 624.93,74.55 625.13,74.55 625.33,74.55 625.52,74.55 625.72,74.55 625.91,74.55 626.11,74.55 626.31,74.55 626.5,74.55 626.7,74.55 626.9,74.55 627.09,74.55 627.29,74.54 627.48,74.54 627.68,74.54 627.88,74.54 628.07,74.54 628.27,74.54 628.47,74.54 628.66,74.54 628.86,74.54 629.06,74.54 629.25,74.54 629.45,74.54 629.64,74.54 629.84,74.54 630.04,74.54 630.23,74.54 630.43,74.54 630.63,74.53 630.82,74.53 631.02,74.53 631.21,74.53 631.41,74.53 631.61,74.53 631.8,74.53 632,74.53 632.2,74.53 632.39,74.53 632.59,74.53 632.78,74.53 632.98,74.53 633.18,74.53 633.37,74.53 633.57,74.53 633.77,74.53 633.96,74.52 634.16,74.52 634.35,74.52 634.55,74.52 634.75,74.52 634.94,74.52 635.14,74.52 635.34,74.52 635.53,74.52 635.73,74.52 635.92,74.52 636.12,74.52 636.32,74.52 636.51,74.52 636.71,74.52 636.91,74.52 637.1,74.52 637.3,74.52 637.5,74.52 637.69,74.51 637.89,74.51 638.08,74.51 638.28,74.51 638.48,74.51 638.67,74.51 638.87,74.51 639.07,74.51 639.26,74.51 639.46,74.51 639.65,74.51 639.85,74.51 640.05,74.51 640.24,74.51 640.44,74.51 640.64,74.51 640.83,74.51 641.03,74.51 641.22,74.51 641.42,74.51 641.62,74.51 641.81,74.5 642.01,74.5 642.21,74.5 642.4,74.5 642.6,74.5 642.79,74.5 642.99,74.5 643.19,74.5 643.38,74.5 643.58,74.5 643.78,74.5 643.97,74.5 644.17,74.5 644.36,74.5 644.56,74.5 644.76,74.5 644.95,74.5 645.15,74.5 645.35,74.5 645.54,74.5 645.74,74.5 645.94,74.5 646.13,74.49 646.33,74.49 646.52,74.49 646.72,74.49 646.92,74.49 647.11,74.49 647.31,74.49 647.51,74.49 647.7,74.49 647.9,74.49 648.09,74.49 648.29,74.49 648.49,74.49 648.68,74.49 648.88,74.49 649.08,74.49 649.27,74.49 649.47,74.49 649.66,74.49 649.86,74.49 650.06,74.49 650.25,74.49 650.45,74.49 650.65,74.49 650.84,74.49 651.04,74.48 651.23,74.48 651.43,74.48 651.63,74.48 651.82,74.48 652.02,74.48 652.22,74.48 652.41,74.48 652.61,74.48 652.8,74.48 653,74.48 653.2,74.48 653.39,74.48 653.59,74.48 653.79,74.48 653.98,74.48 654.18,74.48 654.38,74.48 654.57,74.48 654.77,74.48 654.96,74.48 655.16,74.48 655.36,74.48 655.55,74.48 655.75,74.48 655.95,74.48 656.14,74.48 656.34,74.48 656.53,74.47 656.73,74.47 656.93,74.47 657.12,74.47 657.32,74.47 657.52,74.47 657.71,74.47 657.91,74.47 658.1,74.47 658.3,74.47 658.5,74.47 658.69,74.47 658.89,74.47 659.09,74.47 659.28,74.47 659.48,74.47 659.67,74.47 659.87,74.47 660.07,74.47 660.26,74.47"/>
<polyline fill="none" stroke="#ff00ff" stroke-width="1.3" stroke-linejoin="round" points="473.6,77.28 473.8,78.99 473.99,80.2 474.19,80.84 474.39,80.88 474.58,80.34 474.78,79.3 474.98,77.88 475.17,76.21 475.37,74.47 475.56,73.09 475.76,71.89 475.96,70.97 476.15,70.39 476.35,70.2 476.55,70.4 476.74,70.94 476.94,71.76 477.13,72.78 477.33,73.89 477.53,75.11 477.72,76.29 477.92,77.26 478.12,77.92 478.31,78.23 478.51,78.19 478.7,77.82 478.9,77.16 479.1,76.26 479.29,75.27 479.49,74.29 479.69,73.49 479.88,72.81 480.08,72.3 480.27,72.01 480.47,71.94 480.67,72.1 480.86,72.47 481.06,72.98 481.26,73.59 481.45,74.22 481.65,74.82 481.85,75.34 482.04,75.73 482.24,75.96 482.43,76.04 482.63,75.96 482.83,75.75 483.02,75.45 483.22,75.09 483.42,74.68 483.61,74.28 483.81,73.91 484,73.61 484.2,73.4 484.4,73.3 484.59,73.31 484.79,73.4 484.99,73.58 485.18,73.82 485.38,74.09 485.57,74.37 485.77,74.61 485.97,74.82 486.16,74.97 486.36,75.06 486.56,75.08 486.75,75.04 486.95,74.94 487.14,74.8 487.34,74.65 487.54,74.48 487.73,74.32 487.93,74.16 488.13,74.03 488.32,73.95 488.52,73.92 488.71,73.92 488.91,73.97 489.11,74.06 489.3,74.16 489.5,74.28 489.7,74.39 489.89,74.44 490.09,74.47 490.29,74.5 490.48,74.52 490.68,74.53 490.87,74.54 491.07,74.54 491.27,74.54 491.46,74.54 491.66,74.54 491.86,74.54 492.05,74.54 492.25,74.53 492.44,74.52 492.64,74.51 492.84,74.49 493.03,74.47 493.23,74.44 493.43,74.41 493.62,74.38 493.82,74.35 494.01,74.32 494.21,74.3 494.41,74.29 494.6,74.29 494.8,74.29 495,74.31 495.19,74.33 495.39,74.35 495.58,74.38 495.78,74.41 495.98,74.43 496.17,74.45 496.37,74.47 496.57,74.47 496.76,74.48 496.96,74.48 497.15,74.47 497.35,74.46 497.55,74.44 497.74,74.42 497.94,74.4 498.14,74.37 498.33,74.35 498.53,74.33 498.73,74.32 498.92,74.31 499.12,74.31 499.31,74.32 499.51,74.34 499.71,74.36 499.9,74.38 500.1,74.4 500.3,74.42 500.49,74.44 500.69,74.45 500.88,74.46 501.08,74.47 501.28,74.47 501.47,74.46 501.67,74.45 501.87,74.44 502.06,74.42 502.26,74.41 502.45,74.39 502.65,74.37 502.85,74.36 503.04,74.35 503.24,74.35 503.44,74.35 503.63,74.35 503.83,74.36 504.02,74.37 504.22,74.38 504.42,74.39 504.61,74.41 504.81,74.42 505.01,74.43 505.2,74.43 505.4,74.44 505.59,74.44 505.79,74.44 505.99,74.43 506.18,74.43 506.38,74.42 506.58,74.41 506.77,74.4 506.97,74.39 507.17,74.39 507.36,74.38 507.56,74.38 507.75,74.38 507.95,74.38 508.15,74.38 508.34,74.39 508.54,74.39 508.74,74.4 508.93,74.4 509.13,74.41 509.32,74.41 509.52,74.41 509.72,74.42 509.91,74.42 510.11,74.42 510.31,74.42 510.5,74.41 510.7,74.41 510.89,74.41 511.09,74.4 511.29,74.4 511.48,74.4 511.68,74.4 511.88,74.39 512.07,74.39 512.27,74.39 512.46,74.39 512.66,74.4 512.86,74.4 513.05,74.4 513.25,74.4 513.45,74.4 513.64,74.4 513.84,74.4 514.04,74.41 514.23,74.4 514.43,74.4 514.62,74.39 514.82,74.38 515.02,74.38 515.21,74.37 515.41,74.36 515.61,74.36 515.8,74.35 516,74.35 516.19,74.34 516.39,74.34 516.59,74.33 516.78,74.33 516.98,74.32 517.18,74.32 517.37,74.31 517.57,74.31 517.76,74.3 517.96,74.3 518.16,74.3 518.35,74.29 518.55,74.29 518.75,74.29 518.94,74.28 519.14,74.28 519.33,74.27 519.53,74.27 519.73,74.26 519.92,74.26 520.12,74.25 520.32,74.25 520.51,74.24 520.71,74.24 520.9,74.23 521.1,74.23 521.3,74.23 521.49,74.22 521.69,74.22 521.89,74.22 522.08,74.21 522.28,74.21 522.48,74.21 522.67,74.2 522.87,74.2 523.06,74.2 523.26,74.19 523.46,74.19 523.65,74.19 523.85,74.18 524.05,74.18 524.24,74.18 524.44,74.17 524.63,74.17 524.83,74.17 525.03,74.16 525.22,74.16 525.42,74.16 525.62,74.15 525.81,74.15 526.01,74.15 526.2,74.14 526.4,74.14 526.6,74.14 526.79,74.14 526.99,74.13 527.19,74.13 527.38,74.13 527.58,74.13 527.77,74.12 527.97,74.12 528.17,74.12 528.36,74.12 528.56,74.11 528.76,74.11 528.95,74.11 529.15,74.1 529.34,74.1 529.54,74.1 529.74,74.1 529.93,74.09 530.13,74.09 530.33,74.09 530.52,74.09 530.72,74.09 530.92,74.08 531.11,74.08 531.31,74.08 531.5,74.08 531.7,74.08 531.9,74.08 532.09,74.07 532.29,74.07 532.49,74.07 532.68,74.07 532.88,74.07 533.07,74.06 533.27,74.06 533.47,74.06 533.66,74.06 533.86,74.06 534.06,74.05 534.25,74.05 534.45,74.05 534.64,74.05 534.84,74.05 535.04,74.05 535.23,74.04 535.43,74.04 535.63,74.04 535.82,74.04 536.02,74.04 536.21,74.04 536.41,74.04 536.61,74.04 536.8,74.03 537,74.03 537.2,74.03 537.39,74.03 537.59,74.03 537.78,74.03 537.98,74.03 538.18,74.02 538.37,74.02 538.57,74.02 538.77,74.03 538.96,74.03 539.16,74.03 539.36,74.03 539.55,74.04 539.75,74.04 539.94,74.04 540.14,74.05 540.34,74.05 540.53,74.05 540.73,74.06 540.93,74.06 541.12,74.06 541.32,74.06 541.51,74.07 541.71,74.07 541.91,74.07 542.1,74.08 542.3,74.08 542.5,74.08 542.69,74.08 542.89,74.09 543.08,74.09 543.28,74.09 543.48,74.1 543.67,74.1 543.87,74.1 544.07,74.1 544.26,74.11 544.46,74.11 544.65,74.11 544.85,74.11 545.05,74.12 545.24,74.12 545.44,74.12 545.64,74.12 545.83,74.13 546.03,74.13 546.22,74.13 546.42,74.13 546.62,74.14 546.81,74.14 547.01,74.14 547.21,74.14 547.4,74.14 547.6,74.15 547.8,74.15 547.99,74.15 548.19,74.15 548.38,74.16 548.58,74.16 548.78,74.16 548.97,74.16 549.17,74.17 549.37,74.17 549.56,74.17 549.76,74.17 549.95,74.17 550.15,74.18 550.35,74.18 550.54,74.18 550.74,74.18 550.94,74.18 551.13,74.19 551.33,74.19 551.52,74.19 551.72,74.19 551.92,74.19 552.11,74.2 552.31,74.2 552.51,74.2 552.7,74.2 552.9,74.2 553.09,74.21 553.29,74.21 553.49,74.21 553.68,74.21 553.88,74.21 554.08,74.22 554.27,74.22 554.47,74.22 554.66,74.22 554.86,74.22 555.06,74.22 555.25,74.23 555.45,74.23 555.65,74.23 555.84,74.23 556.04,74.23 556.24,74.23 556.43,74.24 556.63,74.24 556.82,74.24 557.02,74.24 557.22,74.24 557.41,74.24 557.61,74.25 557.81,74.25 558,74.25 558.2,74.25 558.39,74.25 558.59,74.26 558.79,74.26 558.98,74.26 559.18,74.26 559.38,74.27 559.57,74.27 559.77,74.27 559.96,74.27 560.16,74.28 560.36,74.28 560.55,74.28 560.75,74.28 560.95,74.28 561.14,74.29 561.34,74.29 561.53,74.29 561.73,74.29 561.93,74.3 562.12,74.3 562.32,74.3 562.52,74.3 562.71,74.3 562.91,74.31 563.11,74.31 563.3,74.31 563.5,74.31 563.69,74.31 563.89,74.32 564.09,74.32 564.28,74.32 564.48,74.32 564.68,74.32 564.87,74.33 565.07,74.33 565.26,74.33 565.46,74.33 565.66,74.33 565.85,74.34 566.05,74.34 566.25,74.34 566.44,74.34 566.64,74.34 566.83,74.34 567.03,74.35 567.23,74.35 567.42,74.35 567.62,74.35 567.82,74.35 568.01,74.35 568.21,74.36 568.4,74.36 568.6,74.36 568.8,74.36 568.99,74.36 569.19,74.36 569.39,74.37 569.58,74.37 569.78,74.37 569.97,74.37 570.17,74.37 570.37,74.37 570.56,74.37 570.76,74.38 570.96,74.38 571.15,74.38 571.35,74.38 571.55,74.38 571.74,74.38 571.94,74.38 572.13,74.38 572.33,74.39 572.53,74.39 572.72,74.39 572.92,74.39 573.12,74.39 573.31,74.39 573.51,74.39 573.7,74.39 573.9,74.4 574.1,74.4 574.29,74.4 574.49,74.4 574.69,74.4 574.88,74.4 575.08,74.4 575.27,74.4 575.47,74.41 575.67,74.41 575.86,74.41 576.06,74.41 576.26,74.41 576.45,74.41 576.65,74.41 576.84,74.41 577.04,74.41 577.24,74.41 577.43,74.42 577.63,74.42 577.83,74.42 578.02,74.42 578.22,74.42 578.41,74.42 578.61,74.42 578.81,74.42 579,74.42 579.2,74.42 579.4,74.42 579.59,74.43 579.79,74.43 579.99,74.43 580.18,74.43 580.38,74.43 580.57,74.43 580.77,74.43 580.97,74.43 581.16,74.43 581.36,74.43 581.56,74.43 581.75,74.43 581.95,74.43 582.14,74.44 582.34,74.44 582.54,74.44 582.73,74.44 582.93,74.44 583.13,74.44 583.32,74.44 583.52,74.44 583.71,74.44 583.91,74.44 584.11,74.44 584.3,74.44 584.5,74.44 584.7,74.44 584.89,74.44 585.09,74.44 585.28,74.44 585.48,74.44 585.68,74.44 585.87,74.44 586.07,74.44 586.27,74.44 586.46,74.44 586.66,74.44 586.85,74.44 587.05,74.44 587.25,74.44 587.44,74.44 587.64,74.44 587.84,74.45 588.03,74.45 588.23,74.45 588.43,74.45 588.62,74.45 588.82,74.45 589.01,74.45 589.21,74.45 589.41,74.45 589.6,74.45 589.8,74.45 590,74.45 590.19,74.45 590.39,74.45 590.58,74.45 590.78,74.45 590.98,74.45 591.17,74.45 591.37,74.45 591.57,74.45 591.76,74.45 591.96,74.45 592.15,74.45 592.35,74.45 592.55,74.45 592.74,74.45 592.94,74.45 593.14,74.45 593.33,74.45 593.53,74.45 593.72,74.45 593.92,74.45 594.12,74.45 594.31,74.45 594.51,74.45 594.71,74.45 594.9,74.45 595.1,74.45 595.29,74.45 595.49,74.45 595.69,74.45 595.88,74.45 596.08,74.45 596.28,74.45 596.47,74.45 596.67,74.45 596.87,74.45 597.06,74.45 597.26,74.45 597.45,74.45 597.65,74.45 597.85,74.45 598.04,74.45 598.24,74.45 598.44,74.45 598.63,74.45 598.83,74.45 599.02,74.45 599.22,74.45 599.42,74.45 599.61,74.45 599.81,74.45 600.01,74.45 600.2,74.45 600.4,74.45 600.59,74.45 600.79,74.45 600.99,74.45 601.18,74.45 601.38,74.45 601.58,74.45 601.77,74.45 601.97,74.45 602.16,74.45 602.36,74.45 602.56,74.45 602.75,74.45 602.95,74.45 603.15,74.45 603.34,74.45 603.54,74.45 603.73,74.45 603.93,74.45 604.13,74.45 604.32,74.45 604.52,74.45 604.72,74.45 604.91,74.45 605.11,74.45 605.31,74.45 605.5,74.45 605.7,74.45 605.89,74.45 606.09,74.45 606.29,74.45 606.48,74.45 606.68,74.45 606.88,74.45 607.07,74.45 607.27,74.45 607.46,74.45 607.66,74.44 607.86,74.44 608.05,74.44 608.25,74.44 608.45,74.44 608.64,74.44 608.84,74.44 609.03,74.44 609.23,74.44 609.43,74.44 609.62,74.44 609.82,74.44 610.02,74.44 610.21,74.44 610.41,74.44 610.6,74.44 610.8,74.44 611,74.44 611.19,74.44 611.39,74.44 611.59,74.44 611.78,74.44 611.98,74.44 612.18,74.44 612.37,74.44 612.57,74.44 612.76,74.44 612.96,74.44 613.16,74.44 613.35,74.44 613.55,74.44 613.75,74.44 613.94,74.44 614.14,74.44 614.33,74.44 614.53,74.44 614.73,74.44 614.92,74.44 615.12,74.43 615.32,74.43 615.51,74.43 615.71,74.43 615.9,74.43 616.1,74.43 616.3,74.43 616.49,74.43 616.69,74.43 616.89,74.43 617.08,74.43 617.28,74.43 617.47,74.43 617.67,74.43 617.87,74.43 618.06,74.43 618.26,74.43 618.46,74.43 618.65,74.43 618.85,74.43 619.04,74.43 619.24,74.43 619.44,74.43 619.63,74.43 619.83,74.43 620.03,74.43 620.22,74.43 620.42,74.43 620.62,74.43 620.81,74.43 621.01,74.43 621.2,74.43 621.4,74.43 621.6,74.43 621.79,74.43 621.99,74.43 622.19,74.43 622.38,74.43 622.58,74.43 622.77,74.43 622.97,74.43 623.17,74.43 623.36,74.43 623.56,74.43 623.76,74.43 623.95,74.43 624.15,74.43 624.34,74.43 624.54,74.43 624.74,74.43 624.93,74.43 625.13,74.42 625.33,74.42 625.52,74.42 625.72,74.42 625.91,74.42 626.11,74.42 626.31,74.42 626.5,74.42 626.7,74.42 626.9,74.42 627.09,74.42 627.29,74.42 627.48,74.42 627.68,74.42 627.88,74.42 628.07,74.42 628.27,74.42 628.47,74.42 628.66,74.42 628.86,74.42 629.06,74.42 629.25,74.42 629.45,74.42 629.64,74.42 629.84,74.42 630.04,74.42 630.23,74.42 630.43,74.42 630.63,74.42 630.82,74.42 631.02,74.42 631.21,74.42 631.41,74.42 631.61,74.42 631.8,74.42 632,74.42 632.2,74.42 632.39,74.42 632.59,74.42 632.78,74.42 632.98,74.42 633.18,74.42 633.37,74.42 633.57,74.42 633.77,74.42 633.96,74.42 634.16,74.42 634.35,74.42 634.55,74.42 634.75,74.42 634.94,74.42 635.14,74.42 635.34,74.42 635.53,74.42 635.73,74.42 635.92,74.42 636.12,74.42 636.32,74.42 636.51,74.42 636.71,74.42 636.91,74.42 637.1,74.42 637.3,74.42 637.5,74.42 637.69,74.42 637.89,74.42 638.08,74.42 638.28,74.42 638.48,74.42 638.67,74.42 638.87,74.42 639.07,74.42 639.26,74.42 639.46,74.42 639.65,74.42 639.85,74.42 640.05,74.41 640.24,74.41 640.44,74.41 640.64,74.41 640.83,74.41 641.03,74.41 641.22,74.41 641.42,74.41 641.62,74.41 641.81,74.41 642.01,74.41 642.21,74.41 642.4,74.41 642.6,74.41 642.79,74.41 642.99,74.41 643.19,74.41 643.38,74.41 643.58,74.41 643.78,74.41 643.97,74.41 644.17,74.41 644.36,74.41 644.56,74.41 644.76,74.41 644.95,74.41 645.15,74.41 645.35,74.41 645.54,74.41 645.74,74.41 645.94,74.41 646.13,74.41 646.33,74.41 646.52,74.41 646.72,74.41 646.92,74.41 647.11,74.41 647.31,74.41 647.51,74.41 647.7,74.41 647.9,74.41 648.09,74.41 648.29,74.41 648.49,74.41 648.68,74.41 648.88,74.41 649.08,74.41 649.27,74.41 649.47,74.41 649.66,74.41 649.86,74.41 650.06,74.41 650.25,74.41 650.45,74.41 650.65,74.41 650.84,74.41 651.04,74.41 651.23,74.41 651.43,74.41 651.63,74.41 651.82,74.41 652.02,74.41 652.22,74.41 652.41,74.41 652.61,74.41 652.8,74.41 653,74.41 653.2,74.41 653.39,74.41 653.59,74.41 653.79,74.41 653.98,74.41 654.18,74.41 654.38,74.41 654.57,74.41 654.77,74.41 654.96,74.41 655.16,74.41 655.36,74.41 655.55,74.41 655.75,74.41 655.95,74.41 656.14,74.41 656.34,74.41 656.53,74.41 656.73,74.41 656.93,74.41 657.12,74.41 657.32,74.41 657.52,74.41 657.71,74.41 657.91,74.41 658.1,74.41 658.3,74.41 658.5,74.41 658.69,74.41 658.89,74.41 659.09,74.41 659.28,74.41 659.48,74.41 659.67,74.41 659.87,74.41 660.07,74.41 660.26,74.41"/>
<line x1="595.5" y1="23.9" x2="619.2" y2="23.9" stroke="#ff5a5a" stroke-width="2"/>
<text x="621.5" y="27.4" font-size="10" text-anchor="start" fill="#1c1c1c">2K</text>
<line x1="595.5" y1="36.1" x2="619.2" y2="36.1" stroke="#ff8020" stroke-width="1"/>
<text x="621.5" y="39.6" font-size="10" text-anchor="start" fill="#1c1c1c">4K</text>
<line x1="595.5" y1="48.6" x2="619.2" y2="48.6" stroke="#ffff50" stroke-width="2"/>
<text x="621.5" y="52.1" font-size="10" text-anchor="start" fill="#1c1c1c">6K</text>
<line x1="595.5" y1="61.4" x2="619.2" y2="61.4" stroke="#60f060" stroke-width="2"/>
<text x="621.5" y="64.9" font-size="10" text-anchor="start" fill="#1c1c1c">8K</text>
<line x1="595.5" y1="88.3" x2="619.2" y2="88.3" stroke="#00ffff" stroke-width="1.2"/>
<text x="621.5" y="91.8" font-size="10" text-anchor="start" fill="#1c1c1c">10K</text>
<line x1="595.5" y1="100.8" x2="619.2" y2="100.8" stroke="#6070ff" stroke-width="2"/>
<text x="621.5" y="104.3" font-size="10" text-anchor="start" fill="#1c1c1c">12K</text>
<line x1="595.5" y1="113.2" x2="619.2" y2="113.2" stroke="#000080" stroke-width="1.2"/>
<text x="621.5" y="116.7" font-size="10" text-anchor="start" fill="#1c1c1c">15K</text>
<line x1="595.5" y1="125.6" x2="619.2" y2="125.6" stroke="#b070ff" stroke-width="2"/>
<text x="621.5" y="129.1" font-size="10" text-anchor="start" fill="#1c1c1c">20K</text>
<line x1="595.5" y1="138.5" x2="619.2" y2="138.5" stroke="#ff00ff" stroke-width="1.2"/>
<text x="621.5" y="142" font-size="10" text-anchor="start" fill="#1c1c1c">30K</text>
<rect x="25.5" y="179.5" width="190" height="139" fill="none" stroke="#5c5c5c" stroke-width="1"/>
<line x1="42.38" y1="318.5" x2="42.38" y2="316.5" stroke="#5c5c5c" stroke-width="1.0"/>
<line x1="42.38" y1="179.5" x2="42.38" y2="181.5" stroke="#5c5c5c" stroke-width="1.0"/>
<line x1="59.25" y1="318.5" x2="59.25" y2="315.1" stroke="#5c5c5c" stroke-width="1.0"/>
<line x1="59.25" y1="179.5" x2="59.25" y2="182.9" stroke="#5c5c5c" stroke-width="1.0"/>
<line x1="76.12" y1="318.5" x2="76.12" y2="316.5" stroke="#5c5c5c" stroke-width="1.0"/>
<line x1="76.12" y1="179.5" x2="76.12" y2="181.5" stroke="#5c5c5c" stroke-width="1.0"/>
<line x1="93" y1="318.5" x2="93" y2="315.1" stroke="#5c5c5c" stroke-width="1.0"/>
<line x1="93" y1="179.5" x2="93" y2="182.9" stroke="#5c5c5c" stroke-width="1.0"/>
<line x1="109.88" y1="318.5" x2="109.88" y2="316.5" stroke="#5c5c5c" stroke-width="1.0"/>
<line x1="109.88" y1="179.5" x2="109.88" y2="181.5" stroke="#5c5c5c" stroke-width="1.0"/>
<line x1="126.75" y1="318.5" x2="126.75" y2="315.1" stroke="#5c5c5c" stroke-width="1.0"/>
<line x1="126.75" y1="179.5" x2="126.75" y2="182.9" stroke="#5c5c5c" stroke-width="1.0"/>
<line x1="143.62" y1="318.5" x2="143.62" y2="316.5" stroke="#5c5c5c" stroke-width="1.0"/>
<line x1="143.62" y1="179.5" x2="143.62" y2="181.5" stroke="#5c5c5c" stroke-width="1.0"/>
<line x1="160.5" y1="318.5" x2="160.5" y2="315.1" stroke="#5c5c5c" stroke-width="1.0"/>
<line x1="160.5" y1="179.5" x2="160.5" y2="182.9" stroke="#5c5c5c" stroke-width="1.0"/>
<line x1="177.38" y1="318.5" x2="177.38" y2="316.5" stroke="#5c5c5c" stroke-width="1.0"/>
<line x1="177.38" y1="179.5" x2="177.38" y2="181.5" stroke="#5c5c5c" stroke-width="1.0"/>
<line x1="194.25" y1="318.5" x2="194.25" y2="315.1" stroke="#5c5c5c" stroke-width="1.0"/>
<line x1="194.25" y1="179.5" x2="194.25" y2="182.9" stroke="#5c5c5c" stroke-width="1.0"/>
<line x1="211.12" y1="318.5" x2="211.12" y2="316.5" stroke="#5c5c5c" stroke-width="1.0"/>
<line x1="211.12" y1="179.5" x2="211.12" y2="181.5" stroke="#5c5c5c" stroke-width="1.0"/>
<line x1="25.5" y1="194.3" x2="28.9" y2="194.3" stroke="#5c5c5c" stroke-width="1.0"/>
<line x1="215.5" y1="194.3" x2="212.1" y2="194.3" stroke="#5c5c5c" stroke-width="1.0"/>
<line x1="25.5" y1="209.7" x2="27.5" y2="209.7" stroke="#5c5c5c" stroke-width="1.0"/>
<line x1="215.5" y1="209.7" x2="213.5" y2="209.7" stroke="#5c5c5c" stroke-width="1.0"/>
<line x1="25.5" y1="225.1" x2="28.9" y2="225.1" stroke="#5c5c5c" stroke-width="1.0"/>
<line x1="215.5" y1="225.1" x2="212.1" y2="225.1" stroke="#5c5c5c" stroke-width="1.0"/>
<line x1="25.5" y1="240.5" x2="27.5" y2="240.5" stroke="#5c5c5c" stroke-width="1.0"/>
<line x1="215.5" y1="240.5" x2="213.5" y2="240.5" stroke="#5c5c5c" stroke-width="1.0"/>
<line x1="25.5" y1="255.9" x2="28.9" y2="255.9" stroke="#5c5c5c" stroke-width="1.0"/>
<line x1="215.5" y1="255.9" x2="212.1" y2="255.9" stroke="#5c5c5c" stroke-width="1.0"/>
<line x1="25.5" y1="271.3" x2="27.5" y2="271.3" stroke="#5c5c5c" stroke-width="1.0"/>
<line x1="215.5" y1="271.3" x2="213.5" y2="271.3" stroke="#5c5c5c" stroke-width="1.0"/>
<line x1="25.5" y1="286.7" x2="28.9" y2="286.7" stroke="#5c5c5c" stroke-width="1.0"/>
<line x1="215.5" y1="286.7" x2="212.1" y2="286.7" stroke="#5c5c5c" stroke-width="1.0"/>
<line x1="25.5" y1="302.1" x2="27.5" y2="302.1" stroke="#5c5c5c" stroke-width="1.0"/>
<line x1="215.5" y1="302.1" x2="213.5" y2="302.1" stroke="#5c5c5c" stroke-width="1.0"/>
<text transform="translate(25.5 331.5) scale(0.92 1)" font-size="13.2" text-anchor="middle" fill="#1c1c1c">0</text>
<text transform="translate(59.25 331.5) scale(0.92 1)" font-size="13.2" text-anchor="middle" fill="#1c1c1c">100</text>
<text transform="translate(93 331.5) scale(0.92 1)" font-size="13.2" text-anchor="middle" fill="#1c1c1c">200</text>
<text transform="translate(126.75 331.5) scale(0.92 1)" font-size="13.2" text-anchor="middle" fill="#1c1c1c">300</text>
<text transform="translate(160.5 331.5) scale(0.92 1)" font-size="13.2" text-anchor="middle" fill="#1c1c1c">400</text>
<text transform="translate(194.25 331.5) scale(0.92 1)" font-size="13.2" text-anchor="middle" fill="#1c1c1c">500</text>
<text x="12.5" y="249" font-size="12" text-anchor="middle" fill="#1c1c1c" transform="rotate(-90 12.5 249)" dominant-baseline="central">FFT Amplitude (a.u.)</text>
<text x="120.5" y="346.5" font-size="12.5" text-anchor="middle" fill="#1c1c1c">F (T)</text>
<text x="14.5" y="181.6" font-size="16.5" text-anchor="middle" fill="#1c1c1c">(d)</text>
<polyline fill="none" stroke="#ff0000" stroke-width="0.9" stroke-linejoin="round" points="25.5,294.35 25.84,291.55 26.18,287.89 26.51,283.25 26.85,277.99 27.19,273.39 27.52,271.62 27.86,273.85 28.2,278.88 28.54,284.54 28.88,289.51 29.21,293.42 29.55,296.4 29.89,298.63 30.23,300.33 30.56,301.62 30.9,302.62 31.24,303.39 31.57,304 31.91,304.47 32.25,304.82 32.59,305.09 32.92,305.26 33.26,305.36 33.6,305.37 33.94,305.29 34.27,305.13 34.61,304.87 34.95,304.53 35.29,304.17 35.62,303.9 35.96,303.82 36.3,303.99 36.64,304.38 36.98,304.84 37.31,305.29 37.65,305.68 37.99,305.99 38.33,306.24 38.66,306.42 39,306.55 39.34,306.65 39.67,306.71 40.01,306.75 40.35,306.77 40.69,306.77 41.02,306.76 41.36,306.73 41.7,306.69 42.04,306.65 42.38,306.59 42.71,306.52 43.05,306.44 43.39,306.36 43.73,306.27 44.06,306.17 44.4,306.06 44.74,305.94 45.08,305.81 45.41,305.68 45.75,305.53 46.09,305.38 46.42,305.22 46.76,305.04 47.1,304.86 47.44,304.66 47.78,304.45 48.11,304.23 48.45,303.99 48.79,303.74 49.12,303.48 49.46,303.2 49.8,302.89 50.14,302.57 50.48,302.23 50.81,301.87 51.15,301.48 51.49,301.07 51.83,300.63 52.16,300.15 52.5,299.65 52.84,299.11 53.17,298.52 53.51,297.9 53.85,297.23 54.19,296.5 54.53,295.72 54.86,294.88 55.2,293.97 55.54,292.99 55.88,291.92 56.21,290.76 56.55,289.51 56.89,288.14 57.23,286.65 57.56,285.02 57.9,283.24 58.24,281.29 58.58,279.15 58.91,276.78 59.25,274.14 59.59,271.19 59.93,267.84 60.26,263.97 60.6,259.42 60.94,253.92 61.28,247.11 61.61,238.52 61.95,227.97 62.29,216.47 62.62,207.67 62.96,206.27 63.3,212.28 63.64,221.08 63.98,229.05 64.31,235.19 64.65,239.69 64.99,243 65.33,245.42 65.66,247.17 66,248.31 66.34,248.84 66.68,248.67 67.01,247.64 67.35,245.51 67.69,242.05 68.03,237.41 68.36,232.87 68.7,231.1 69.04,233.82 69.38,239.37 69.71,245.07 70.05,249.63 70.39,252.83 70.72,254.78 71.06,255.66 71.4,255.81 71.74,255.99 72.08,257.42 72.41,260.75 72.75,265.37 73.09,270.14 73.43,274.39 73.76,277.93 74.1,280.84 74.44,283.24 74.78,285.24 75.11,286.93 75.45,288.38 75.79,289.64 76.12,290.75 76.46,291.73 76.8,292.6 77.14,293.38 77.47,294.1 77.81,294.74 78.15,295.34 78.49,295.88 78.83,296.39 79.16,296.87 79.5,297.31 80.51,298.51 81.53,299.55 82.54,300.48 83.55,301.34 84.56,302.12 85.58,302.84 86.59,303.5 87.6,304.1 88.61,304.64 89.62,305.13 90.64,305.57 91.65,305.95 92.66,306.28 93.68,306.57 94.01,306.65 94.35,306.72 94.69,306.79 95.03,306.85 95.36,306.91 95.7,306.95 96.04,306.99 96.38,307.02 96.71,307.03 97.05,307.04 97.39,307.03 97.73,307 98.06,306.96 98.4,306.89 98.74,306.79 99.08,306.66 99.41,306.48 99.75,306.25 100.09,305.95 100.43,305.56 100.76,305.07 101.1,304.45 101.44,303.68 101.78,302.77 102.11,301.76 102.45,300.79 102.79,300.07 103.12,299.83 103.46,300.16 103.8,300.96 104.14,302.01 104.48,303.09 104.81,304.09 105.15,304.94 105.49,305.65 105.83,306.22 106.16,306.7 106.5,307.08 106.84,307.4 107.18,307.66 107.51,307.89 107.85,308.07 108.19,308.23 108.53,308.37 108.86,308.49 109.2,308.6 109.54,308.69 109.88,308.77 110.89,308.97 111.9,309.11 112.91,309.22 113.93,309.3 114.94,309.35 115.95,309.39 116.96,309.41 117.98,309.42 118.99,309.41 120,309.39 121.01,309.36 122.03,309.32 123.04,309.27 124.05,309.23 125.06,309.2 126.08,309.19 127.09,309.2 128.1,309.24 129.11,309.3 130.12,309.38 131.14,309.46 132.15,309.54 133.16,309.61 134.18,309.68 135.19,309.74 136.2,309.78 137.21,309.81 138.23,309.84 139.24,309.85 140.25,309.85 141.26,309.85 142.28,309.83 143.29,309.81 144.3,309.77 145.31,309.73 146.32,309.68 147.34,309.62 148.35,309.56 149.36,309.5 150.38,309.43 151.39,309.37 152.4,309.31 153.41,309.26 154.43,309.22 155.44,309.2 156.45,309.2 157.46,309.2 158.48,309.22 159.49,309.25 160.5,309.28 161.51,309.3 162.53,309.32 163.54,309.33 164.55,309.33 165.56,309.31 166.58,309.27 167.59,309.2 168.6,309.11 169.61,308.98 170.62,308.82 171.64,308.6 171.98,308.52 172.31,308.43 172.65,308.34 172.99,308.24 173.33,308.12 173.66,308 174,307.87 174.34,307.73 174.68,307.57 175.01,307.41 175.35,307.22 175.69,307.01 176.03,306.78 176.36,306.52 176.7,306.22 177.04,305.88 177.38,305.48 177.71,305.02 178.05,304.46 178.39,303.8 178.73,303 179.06,302.05 179.4,300.93 179.74,299.67 180.08,298.35 180.41,297.14 180.75,296.27 181.09,295.97 181.43,296.36 181.76,297.33 182.1,298.64 182.44,300.05 182.78,301.4 183.11,302.59 183.45,303.62 183.79,304.48 184.12,305.21 184.46,305.81 184.8,306.32 185.14,306.76 185.48,307.13 185.81,307.45 186.15,307.73 186.49,307.97 186.83,308.19 187.16,308.38 187.5,308.55 187.84,308.71 188.18,308.85 188.51,308.97 188.85,309.09 189.19,309.2 189.53,309.29 189.86,309.38 190.2,309.47 190.54,309.55 190.88,309.62 191.89,309.8 192.9,309.96 193.91,310.09 194.93,310.2 195.94,310.29 196.95,310.37 197.96,310.44 198.98,310.5 199.99,310.56 201,310.6 202.01,310.65 203.03,310.68 204.04,310.72 205.05,310.75 206.06,310.78 207.08,310.8 208.09,310.83 209.1,310.85 210.11,310.87 211.12,310.88 212.14,310.9 213.15,310.92 214.16,310.93"/>
<polyline fill="none" stroke="#ff8000" stroke-width="0.9" stroke-linejoin="round" points="25.5,297.19 25.84,294.67 26.18,291.38 26.51,287.21 26.85,282.47 27.19,278.34 27.52,276.75 27.86,278.76 28.2,283.29 28.54,288.39 28.88,292.86 29.21,296.39 29.55,299.07 29.89,301.08 30.23,302.61 30.56,303.78 30.9,304.68 31.24,305.38 31.57,305.93 31.91,306.35 32.25,306.68 32.59,306.92 32.92,307.08 33.26,307.17 33.6,307.19 33.94,307.12 34.27,306.98 34.61,306.75 34.95,306.45 35.29,306.13 35.62,305.89 35.96,305.82 36.3,305.99 36.64,306.34 36.98,306.76 37.31,307.18 37.65,307.53 37.99,307.82 38.33,308.04 38.66,308.21 39,308.34 39.34,308.44 39.67,308.5 40.01,308.55 40.35,308.57 40.69,308.58 41.02,308.58 41.36,308.57 41.7,308.54 42.04,308.51 42.38,308.47 42.71,308.42 43.05,308.36 43.39,308.3 43.73,308.23 44.06,308.15 44.4,308.07 44.74,307.98 45.08,307.88 45.41,307.77 45.75,307.66 46.09,307.54 46.42,307.41 46.76,307.27 47.1,307.13 47.44,306.97 47.78,306.81 48.11,306.63 48.45,306.45 48.79,306.25 49.12,306.04 49.46,305.81 49.8,305.58 50.14,305.32 50.48,305.05 50.81,304.76 51.15,304.46 51.49,304.13 51.83,303.78 52.16,303.4 52.5,303 52.84,302.57 53.17,302.11 53.51,301.61 53.85,301.08 54.19,300.5 54.53,299.88 54.86,299.22 55.2,298.49 55.54,297.71 55.88,296.87 56.21,295.95 56.55,294.95 56.89,293.87 57.23,292.69 57.56,291.41 57.9,290 58.24,288.46 58.58,286.77 58.91,284.9 59.25,282.83 59.59,280.52 59.93,277.9 60.26,274.89 60.6,271.36 60.94,267.11 61.28,261.87 61.61,255.29 61.95,247.23 62.29,238.45 62.62,231.74 62.96,230.63 63.3,235.14 63.64,241.77 63.98,247.79 64.31,252.44 64.65,255.87 64.99,258.4 65.33,260.27 65.66,261.64 66,262.56 66.34,263.03 66.68,262.97 67.01,262.28 67.35,260.78 67.69,258.31 68.03,254.96 68.36,251.68 68.7,250.44 69.04,252.49 69.38,256.61 69.71,260.86 70.05,264.28 70.39,266.72 70.72,268.26 71.06,269.03 71.4,269.25 71.74,269.51 72.08,270.68 72.41,273.24 72.75,276.73 73.09,280.32 73.43,283.53 73.76,286.21 74.1,288.42 74.44,290.25 74.78,291.79 75.11,293.09 75.45,294.21 75.79,295.19 76.12,296.04 76.46,296.81 76.8,297.49 77.14,298.1 77.47,298.65 77.81,299.16 78.15,299.63 78.49,300.06 78.83,300.46 79.16,300.83 79.5,301.18 80.51,302.12 81.53,302.95 82.54,303.69 83.55,304.36 84.56,304.98 85.58,305.55 86.59,306.08 87.6,306.56 88.61,306.99 89.62,307.38 90.64,307.73 91.65,308.03 92.66,308.3 93.68,308.52 94.01,308.58 94.35,308.64 94.69,308.7 95.03,308.75 95.36,308.79 95.7,308.83 96.04,308.85 96.38,308.88 96.71,308.89 97.05,308.89 97.39,308.88 97.73,308.86 98.06,308.82 98.4,308.77 98.74,308.69 99.08,308.58 99.41,308.43 99.75,308.24 100.09,308 100.43,307.69 100.76,307.29 101.1,306.78 101.44,306.16 101.78,305.42 102.11,304.61 102.45,303.82 102.79,303.24 103.12,303.04 103.46,303.3 103.8,303.95 104.14,304.8 104.48,305.68 104.81,306.49 105.15,307.18 105.49,307.75 105.83,308.22 106.16,308.6 106.5,308.91 106.84,309.17 107.18,309.38 107.51,309.56 107.85,309.71 108.19,309.84 108.53,309.95 108.86,310.05 109.2,310.13 109.54,310.21 109.88,310.27 110.89,310.43 111.9,310.55 112.91,310.63 113.93,310.7 114.94,310.74 115.95,310.77 116.96,310.79 117.98,310.8 118.99,310.79 120,310.77 121.01,310.75 122.03,310.71 123.04,310.68 124.05,310.65 125.06,310.62 126.08,310.62 127.09,310.63 128.1,310.66 129.11,310.71 130.12,310.76 131.14,310.83 132.15,310.89 133.16,310.95 134.18,311.01 135.19,311.05 136.2,311.09 137.21,311.12 138.23,311.13 139.24,311.14 140.25,311.15 141.26,311.14 142.28,311.13 143.29,311.11 144.3,311.08 145.31,311.05 146.32,311.01 147.34,310.97 148.35,310.92 149.36,310.87 150.38,310.81 151.39,310.76 152.4,310.72 153.41,310.68 154.43,310.65 155.44,310.63 156.45,310.63 157.46,310.64 158.48,310.65 159.49,310.67 160.5,310.7 161.51,310.72 162.53,310.74 163.54,310.75 164.55,310.75 165.56,310.73 166.58,310.7 167.59,310.66 168.6,310.59 169.61,310.49 170.62,310.36 171.64,310.2 171.98,310.14 172.31,310.07 172.65,310 172.99,309.92 173.33,309.83 173.66,309.74 174,309.64 174.34,309.53 174.68,309.41 175.01,309.28 175.35,309.14 175.69,308.98 176.03,308.8 176.36,308.6 176.7,308.37 177.04,308.11 177.38,307.81 177.71,307.45 178.05,307.02 178.39,306.51 178.73,305.89 179.06,305.16 179.4,304.3 179.74,303.33 180.08,302.32 180.41,301.38 180.75,300.71 181.09,300.49 181.43,300.79 181.76,301.53 182.1,302.54 182.44,303.63 182.78,304.66 183.11,305.58 183.45,306.37 183.79,307.04 184.12,307.6 184.46,308.06 184.8,308.46 185.14,308.79 185.48,309.08 185.81,309.32 186.15,309.54 186.49,309.73 186.83,309.89 187.16,310.04 187.5,310.17 187.84,310.29 188.18,310.4 188.51,310.5 188.85,310.59 189.19,310.67 189.53,310.75 189.86,310.82 190.2,310.88 190.54,310.94 190.88,310.99 191.89,311.14 192.9,311.26 193.91,311.36 194.93,311.44 195.94,311.51 196.95,311.58 197.96,311.63 198.98,311.68 199.99,311.72 201,311.76 202.01,311.79 203.03,311.82 204.04,311.84 205.05,311.87 206.06,311.89 207.08,311.91 208.09,311.93 209.1,311.94 210.11,311.96 211.12,311.97 212.14,311.99 213.15,312 214.16,312.01"/>
<polyline fill="none" stroke="#ffff00" stroke-width="0.9" stroke-linejoin="round" points="25.5,299.09 25.84,296.88 26.18,293.99 26.51,290.33 26.85,286.17 27.19,282.54 27.52,281.14 27.86,282.91 28.2,286.88 28.54,291.35 28.88,295.28 29.21,298.37 29.55,300.72 29.89,302.49 30.23,303.83 30.56,304.85 30.9,305.64 31.24,306.25 31.57,306.73 31.91,307.1 32.25,307.39 32.59,307.59 32.92,307.73 33.26,307.81 33.6,307.82 33.94,307.76 34.27,307.63 34.61,307.43 34.95,307.16 35.29,306.88 35.62,306.66 35.96,306.6 36.3,306.74 36.64,307.05 36.98,307.41 37.31,307.77 37.65,308.08 37.99,308.33 38.33,308.52 38.66,308.67 39,308.78 39.34,308.85 39.67,308.91 40.01,308.94 40.35,308.96 40.69,308.96 41.02,308.95 41.36,308.93 41.7,308.9 42.04,308.87 42.38,308.83 42.71,308.78 43.05,308.72 43.39,308.65 43.73,308.58 44.06,308.51 44.4,308.43 44.74,308.34 45.08,308.24 45.41,308.14 45.75,308.03 46.09,307.91 46.42,307.78 46.76,307.65 47.1,307.51 47.44,307.36 47.78,307.2 48.11,307.03 48.45,306.85 48.79,306.66 49.12,306.46 49.46,306.24 49.8,306.01 50.14,305.77 50.48,305.51 50.81,305.23 51.15,304.93 51.49,304.62 51.83,304.28 52.16,303.92 52.5,303.53 52.84,303.12 53.17,302.67 53.51,302.19 53.85,301.68 54.19,301.13 54.53,300.53 54.86,299.89 55.2,299.19 55.54,298.44 55.88,297.63 56.21,296.75 56.55,295.79 56.89,294.75 57.23,293.62 57.56,292.38 57.9,291.03 58.24,289.55 58.58,287.93 58.91,286.14 59.25,284.15 59.59,281.93 59.93,279.42 60.26,276.53 60.6,273.15 60.94,269.09 61.28,264.08 61.61,257.79 61.95,250.09 62.29,241.71 62.62,235.3 62.96,234.23 63.3,238.53 63.64,244.85 63.98,250.58 64.31,255.01 64.65,258.29 64.99,260.7 65.33,262.49 65.66,263.81 66,264.69 66.34,265.15 66.68,265.11 67.01,264.47 67.35,263.05 67.69,260.72 68.03,257.55 68.36,254.45 68.7,253.29 69.04,255.24 69.38,259.15 69.71,263.19 70.05,266.45 70.39,268.78 70.72,270.26 71.06,271.01 71.4,271.24 71.74,271.51 72.08,272.64 72.41,275.08 72.75,278.41 73.09,281.84 73.43,284.89 73.76,287.45 74.1,289.56 74.44,291.31 74.78,292.77 75.11,294.02 75.45,295.09 75.79,296.03 76.12,296.85 76.46,297.58 76.8,298.23 77.14,298.82 77.47,299.35 77.81,299.84 78.15,300.28 78.49,300.7 78.83,301.08 79.16,301.44 79.5,301.77 80.51,302.68 81.53,303.47 82.54,304.18 83.55,304.83 84.56,305.43 85.58,305.98 86.59,306.49 87.6,306.95 88.61,307.37 89.62,307.75 90.64,308.08 91.65,308.38 92.66,308.64 93.68,308.87 94.01,308.93 94.35,308.99 94.69,309.05 95.03,309.1 95.36,309.14 95.7,309.19 96.04,309.22 96.38,309.25 96.71,309.27 97.05,309.28 97.39,309.28 97.73,309.27 98.06,309.25 98.4,309.22 98.74,309.16 99.08,309.08 99.41,308.97 99.75,308.83 100.09,308.64 100.43,308.4 100.76,308.08 101.1,307.68 101.44,307.19 101.78,306.6 102.11,305.95 102.45,305.33 102.79,304.87 103.12,304.71 103.46,304.93 103.8,305.46 104.14,306.14 104.48,306.85 104.81,307.5 105.15,308.06 105.49,308.52 105.83,308.9 106.16,309.21 106.5,309.47 106.84,309.68 107.18,309.85 107.51,310 107.85,310.13 108.19,310.23 108.53,310.33 108.86,310.41 109.2,310.48 109.54,310.54 109.88,310.6 110.89,310.73 111.9,310.83 112.91,310.9 113.93,310.95 114.94,310.99 115.95,311.02 116.96,311.03 117.98,311.03 118.99,311.03 120,311.01 121.01,310.98 122.03,310.95 123.04,310.92 124.05,310.89 125.06,310.86 126.08,310.85 127.09,310.86 128.1,310.89 129.11,310.94 130.12,311 131.14,311.06 132.15,311.12 133.16,311.18 134.18,311.23 135.19,311.28 136.2,311.31 137.21,311.34 138.23,311.36 139.24,311.37 140.25,311.37 141.26,311.37 142.28,311.36 143.29,311.34 144.3,311.32 145.31,311.29 146.32,311.25 147.34,311.21 148.35,311.17 149.36,311.12 150.38,311.07 151.39,311.03 152.4,310.99 153.41,310.96 154.43,310.93 155.44,310.92 156.45,310.93 157.46,310.94 158.48,310.96 159.49,310.99 160.5,311.03 161.51,311.06 162.53,311.09 163.54,311.11 164.55,311.13 165.56,311.14 166.58,311.13 167.59,311.11 168.6,311.08 169.61,311.02 170.62,310.95 171.64,310.85 171.98,310.81 172.31,310.76 172.65,310.71 172.99,310.66 173.33,310.61 173.66,310.55 174,310.48 174.34,310.41 174.68,310.33 175.01,310.24 175.35,310.14 175.69,310.04 176.03,309.92 176.36,309.78 176.7,309.63 177.04,309.45 177.38,309.24 177.71,308.99 178.05,308.7 178.39,308.35 178.73,307.93 179.06,307.43 179.4,306.84 179.74,306.17 180.08,305.47 180.41,304.83 180.75,304.37 181.09,304.22 181.43,304.43 181.76,304.94 182.1,305.64 182.44,306.39 182.78,307.1 183.11,307.73 183.45,308.28 183.79,308.74 184.12,309.12 184.46,309.45 184.8,309.72 185.14,309.95 185.48,310.15 185.81,310.32 186.15,310.47 186.49,310.6 186.83,310.71 187.16,310.82 187.5,310.91 187.84,310.99 188.18,311.07 188.51,311.13 188.85,311.2 189.19,311.25 189.53,311.31 189.86,311.36 190.2,311.4 190.54,311.44 190.88,311.48 191.89,311.58 192.9,311.67 193.91,311.74 194.93,311.8 195.94,311.85 196.95,311.89 197.96,311.93 198.98,311.97 199.99,312 201,312.02 202.01,312.05 203.03,312.07 204.04,312.09 205.05,312.1 206.06,312.12 207.08,312.14 208.09,312.15 209.1,312.16 210.11,312.17 211.12,312.18 212.14,312.19 213.15,312.2 214.16,312.21"/>
<polyline fill="none" stroke="#00ff00" stroke-width="0.9" stroke-linejoin="round" points="25.5,302.82 25.84,301.14 26.18,298.94 26.51,296.16 26.85,293 27.19,290.24 27.52,289.18 27.86,290.51 28.2,293.53 28.54,296.93 28.88,299.9 29.21,302.25 29.55,304.04 29.89,305.38 30.23,306.39 30.56,307.16 30.9,307.76 31.24,308.23 31.57,308.59 31.91,308.87 32.25,309.08 32.59,309.24 32.92,309.34 33.26,309.39 33.6,309.4 33.94,309.35 34.27,309.25 34.61,309.09 34.95,308.89 35.29,308.67 35.62,308.5 35.96,308.45 36.3,308.56 36.64,308.78 36.98,309.06 37.31,309.33 37.65,309.56 37.99,309.74 38.33,309.89 38.66,309.99 39,310.07 39.34,310.12 39.67,310.16 40.01,310.18 40.35,310.19 40.69,310.18 41.02,310.17 41.36,310.15 41.7,310.12 42.04,310.09 42.38,310.05 42.71,310.01 43.05,309.96 43.39,309.9 43.73,309.84 44.06,309.77 44.4,309.7 44.74,309.62 45.08,309.54 45.41,309.45 45.75,309.36 46.09,309.26 46.42,309.15 46.76,309.04 47.1,308.92 47.44,308.79 47.78,308.66 48.11,308.52 48.45,308.36 48.79,308.2 49.12,308.03 49.46,307.85 49.8,307.66 50.14,307.45 50.48,307.23 50.81,307 51.15,306.75 51.49,306.48 51.83,306.19 52.16,305.89 52.5,305.57 52.84,305.22 53.17,304.84 53.51,304.44 53.85,304.01 54.19,303.54 54.53,303.04 54.86,302.5 55.2,301.92 55.54,301.29 55.88,300.61 56.21,299.87 56.55,299.06 56.89,298.19 57.23,297.24 57.56,296.21 57.9,295.08 58.24,293.84 58.58,292.48 58.91,290.99 59.25,289.33 59.59,287.48 59.93,285.4 60.26,283.01 60.6,280.22 60.94,276.88 61.28,272.77 61.61,267.63 61.95,261.35 62.29,254.53 62.62,249.3 62.96,248.4 63.3,251.86 63.64,256.95 63.98,261.59 64.31,265.18 64.65,267.83 64.99,269.8 65.33,271.28 65.66,272.37 66,273.12 66.34,273.53 66.68,273.54 67.01,273.08 67.35,272 67.69,270.18 68.03,267.72 68.36,265.3 68.7,264.41 69.04,265.98 69.38,269.12 69.71,272.35 70.05,274.97 70.39,276.88 70.72,278.11 71.06,278.77 71.4,279.04 71.74,279.32 72.08,280.29 72.41,282.29 72.75,284.98 73.09,287.75 73.43,290.22 73.76,292.3 74.1,294.01 74.44,295.44 74.78,296.64 75.11,297.66 75.45,298.55 75.79,299.32 76.12,300 76.46,300.6 76.8,301.14 77.14,301.63 77.47,302.07 77.81,302.47 78.15,302.85 78.49,303.19 78.83,303.51 79.16,303.81 79.5,304.09 80.51,304.85 81.53,305.51 82.54,306.11 83.55,306.65 84.56,307.15 85.58,307.62 86.59,308.04 87.6,308.43 88.61,308.79 89.62,309.1 90.64,309.39 91.65,309.64 92.66,309.86 93.68,310.05 94.01,310.11 94.35,310.16 94.69,310.21 95.03,310.26 95.36,310.3 95.7,310.34 96.04,310.37 96.38,310.39 96.71,310.41 97.05,310.43 97.39,310.44 97.73,310.43 98.06,310.42 98.4,310.4 98.74,310.36 99.08,310.31 99.41,310.23 99.75,310.12 100.09,309.99 100.43,309.81 100.76,309.57 101.1,309.27 101.44,308.91 101.78,308.47 102.11,307.98 102.45,307.51 102.79,307.17 103.12,307.05 103.46,307.22 103.8,307.62 104.14,308.14 104.48,308.68 104.81,309.17 105.15,309.59 105.49,309.95 105.83,310.23 106.16,310.47 106.5,310.66 106.84,310.82 107.18,310.96 107.51,311.07 107.85,311.17 108.19,311.25 108.53,311.32 108.86,311.38 109.2,311.44 109.54,311.48 109.88,311.53 110.89,311.63 111.9,311.71 112.91,311.77 113.93,311.81 114.94,311.84 115.95,311.86 116.96,311.87 117.98,311.87 118.99,311.86 120,311.85 121.01,311.82 122.03,311.8 123.04,311.77 124.05,311.74 125.06,311.72 126.08,311.71 127.09,311.72 128.1,311.75 129.11,311.79 130.12,311.83 131.14,311.89 132.15,311.94 133.16,311.99 134.18,312.03 135.19,312.07 136.2,312.1 137.21,312.12 138.23,312.14 139.24,312.15 140.25,312.15 141.26,312.15 142.28,312.14 143.29,312.13 144.3,312.11 145.31,312.08 146.32,312.05 147.34,312.02 148.35,311.98 149.36,311.94 150.38,311.9 151.39,311.87 152.4,311.83 153.41,311.81 154.43,311.79 155.44,311.78 156.45,311.78 157.46,311.8 158.48,311.82 159.49,311.85 160.5,311.88 161.51,311.91 162.53,311.93 163.54,311.96 164.55,311.98 165.56,311.99 166.58,311.99 167.59,311.98 168.6,311.95 169.61,311.92 170.62,311.86 171.64,311.79 171.98,311.76 172.31,311.73 172.65,311.69 172.99,311.66 173.33,311.61 173.66,311.57 174,311.52 174.34,311.47 174.68,311.41 175.01,311.34 175.35,311.27 175.69,311.19 176.03,311.1 176.36,311 176.7,310.88 177.04,310.75 177.38,310.59 177.71,310.41 178.05,310.18 178.39,309.92 178.73,309.6 179.06,309.22 179.4,308.78 179.74,308.28 180.08,307.75 180.41,307.27 180.75,306.92 181.09,306.81 181.43,306.96 181.76,307.35 182.1,307.88 182.44,308.44 182.78,308.98 183.11,309.46 183.45,309.87 183.79,310.22 184.12,310.51 184.46,310.76 184.8,310.96 185.14,311.14 185.48,311.29 185.81,311.42 186.15,311.53 186.49,311.63 186.83,311.72 187.16,311.79 187.5,311.86 187.84,311.93 188.18,311.98 188.51,312.03 188.85,312.08 189.19,312.12 189.53,312.16 189.86,312.2 190.2,312.24 190.54,312.27 190.88,312.3 191.89,312.37 192.9,312.44 193.91,312.49 194.93,312.54 195.94,312.58 196.95,312.61 197.96,312.64 198.98,312.67 199.99,312.69 201,312.71 202.01,312.73 203.03,312.75 204.04,312.76 205.05,312.77 206.06,312.79 207.08,312.8 208.09,312.81 209.1,312.82 210.11,312.83 211.12,312.84 212.14,312.84 213.15,312.85 214.16,312.86"/>
<polyline fill="none" stroke="#00ffff" stroke-width="0.9" stroke-linejoin="round" points="25.5,304.83 25.84,303.38 26.18,301.47 26.51,299.06 26.85,296.33 27.19,293.94 27.52,293.01 27.86,294.17 28.2,296.79 28.54,299.73 28.88,302.31 29.21,304.35 29.55,305.9 29.89,307.06 30.23,307.94 30.56,308.61 30.9,309.13 31.24,309.53 31.57,309.85 31.91,310.09 32.25,310.28 32.59,310.41 32.92,310.51 33.26,310.56 33.6,310.56 33.94,310.52 34.27,310.44 34.61,310.3 34.95,310.13 35.29,309.94 35.62,309.79 35.96,309.75 36.3,309.85 36.64,310.04 36.98,310.29 37.31,310.52 37.65,310.72 37.99,310.88 38.33,311.01 38.66,311.1 39,311.17 39.34,311.22 39.67,311.26 40.01,311.28 40.35,311.29 40.69,311.29 41.02,311.28 41.36,311.27 41.7,311.25 42.04,311.22 42.38,311.19 42.71,311.15 43.05,311.11 43.39,311.07 43.73,311.02 44.06,310.97 44.4,310.91 44.74,310.85 45.08,310.78 45.41,310.71 45.75,310.64 46.09,310.56 46.42,310.47 46.76,310.38 47.1,310.28 47.44,310.18 47.78,310.07 48.11,309.96 48.45,309.83 48.79,309.7 49.12,309.56 49.46,309.42 49.8,309.26 50.14,309.09 50.48,308.91 50.81,308.72 51.15,308.52 51.49,308.31 51.83,308.08 52.16,307.83 52.5,307.56 52.84,307.28 53.17,306.98 53.51,306.65 53.85,306.3 54.19,305.93 54.53,305.52 54.86,305.08 55.2,304.61 55.54,304.1 55.88,303.55 56.21,302.95 56.55,302.3 56.89,301.59 57.23,300.82 57.56,299.99 57.9,299.08 58.24,298.08 58.58,296.99 58.91,295.78 59.25,294.45 59.59,292.97 59.93,291.31 60.26,289.41 60.6,287.19 60.94,284.55 61.28,281.31 61.61,277.28 61.95,272.36 62.29,267.04 62.62,262.95 62.96,262.22 63.3,264.87 63.64,268.81 63.98,272.39 64.31,275.18 64.65,277.24 64.99,278.79 65.33,279.95 65.66,280.82 66,281.44 66.34,281.79 66.68,281.85 67.01,281.53 67.35,280.75 67.69,279.42 68.03,277.6 68.36,275.81 68.7,275.17 69.04,276.39 69.38,278.78 69.71,281.26 70.05,283.28 70.39,284.77 70.72,285.77 71.06,286.34 71.4,286.61 71.74,286.9 72.08,287.7 72.41,289.27 72.75,291.37 73.09,293.51 73.43,295.43 73.76,297.04 74.1,298.38 74.44,299.5 74.78,300.44 75.11,301.25 75.45,301.95 75.79,302.56 76.12,303.1 76.46,303.58 76.8,304.02 77.14,304.4 77.47,304.76 77.81,305.08 78.15,305.38 78.49,305.66 78.83,305.91 79.16,306.15 79.5,306.38 80.51,306.99 81.53,307.53 82.54,308.01 83.55,308.45 84.56,308.86 85.58,309.23 86.59,309.58 87.6,309.89 88.61,310.18 89.62,310.44 90.64,310.67 91.65,310.88 92.66,311.06 93.68,311.21 94.01,311.26 94.35,311.3 94.69,311.34 95.03,311.37 95.36,311.41 95.7,311.44 96.04,311.46 96.38,311.48 96.71,311.5 97.05,311.51 97.39,311.51 97.73,311.51 98.06,311.5 98.4,311.48 98.74,311.45 99.08,311.4 99.41,311.34 99.75,311.25 100.09,311.13 100.43,310.98 100.76,310.78 101.1,310.53 101.44,310.22 101.78,309.86 102.11,309.45 102.45,309.06 102.79,308.77 103.12,308.67 103.46,308.81 103.8,309.14 104.14,309.58 104.48,310.03 104.81,310.44 105.15,310.79 105.49,311.09 105.83,311.33 106.16,311.52 106.5,311.69 106.84,311.82 107.18,311.93 107.51,312.03 107.85,312.1 108.19,312.17 108.53,312.23 108.86,312.28 109.2,312.33 109.54,312.37 109.88,312.41 110.89,312.49 111.9,312.56 112.91,312.6 113.93,312.64 114.94,312.66 115.95,312.68 116.96,312.69 117.98,312.69 118.99,312.68 120,312.67 121.01,312.65 122.03,312.63 123.04,312.61 124.05,312.58 125.06,312.57 126.08,312.56 127.09,312.57 128.1,312.59 129.11,312.62 130.12,312.66 131.14,312.71 132.15,312.75 133.16,312.79 134.18,312.83 135.19,312.86 136.2,312.88 137.21,312.9 138.23,312.91 139.24,312.92 140.25,312.92 141.26,312.92 142.28,312.92 143.29,312.91 144.3,312.89 145.31,312.87 146.32,312.85 147.34,312.82 148.35,312.79 149.36,312.76 150.38,312.73 151.39,312.7 152.4,312.67 153.41,312.65 154.43,312.64 155.44,312.63 156.45,312.64 157.46,312.65 158.48,312.67 159.49,312.69 160.5,312.72 161.51,312.75 162.53,312.77 163.54,312.79 164.55,312.81 165.56,312.83 166.58,312.83 167.59,312.83 168.6,312.82 169.61,312.79 170.62,312.76 171.64,312.71 171.98,312.69 172.31,312.67 172.65,312.65 172.99,312.62 173.33,312.6 173.66,312.56 174,312.53 174.34,312.49 174.68,312.45 175.01,312.41 175.35,312.36 175.69,312.3 176.03,312.24 176.36,312.17 176.7,312.09 177.04,312 177.38,311.89 177.71,311.76 178.05,311.61 178.39,311.42 178.73,311.2 179.06,310.93 179.4,310.62 179.74,310.27 180.08,309.91 180.41,309.57 180.75,309.32 181.09,309.25 181.43,309.36 181.76,309.63 182.1,310 182.44,310.39 182.78,310.77 183.11,311.11 183.45,311.4 183.79,311.64 184.12,311.84 184.46,312.01 184.8,312.16 185.14,312.28 185.48,312.39 185.81,312.48 186.15,312.56 186.49,312.63 186.83,312.69 187.16,312.74 187.5,312.79 187.84,312.84 188.18,312.88 188.51,312.91 188.85,312.95 189.19,312.98 189.53,313.01 189.86,313.03 190.2,313.06 190.54,313.08 190.88,313.1 191.89,313.15 192.9,313.2 193.91,313.24 194.93,313.27 195.94,313.3 196.95,313.32 197.96,313.34 198.98,313.36 199.99,313.38 201,313.39 202.01,313.41 203.03,313.42 204.04,313.43 205.05,313.44 206.06,313.45 207.08,313.46 208.09,313.47 209.1,313.47 210.11,313.48 211.12,313.49 212.14,313.49 213.15,313.5 214.16,313.5"/>
<polyline fill="none" stroke="#0000ff" stroke-width="0.9" stroke-linejoin="round" points="25.5,306.24 25.84,304.91 26.18,303.17 26.51,300.97 26.85,298.47 27.19,296.29 27.52,295.45 27.86,296.51 28.2,298.9 28.54,301.59 28.88,303.95 29.21,305.82 29.55,307.23 29.89,308.29 30.23,309.1 30.56,309.72 30.9,310.19 31.24,310.56 31.57,310.85 31.91,311.08 32.25,311.25 32.59,311.38 32.92,311.46 33.26,311.51 33.6,311.52 33.94,311.49 34.27,311.41 34.61,311.29 34.95,311.13 35.29,310.97 35.62,310.84 35.96,310.8 36.3,310.89 36.64,311.07 36.98,311.3 37.31,311.52 37.65,311.71 37.99,311.86 38.33,311.98 38.66,312.07 39,312.14 39.34,312.19 39.67,312.22 40.01,312.24 40.35,312.26 40.69,312.27 41.02,312.26 41.36,312.26 41.7,312.25 42.04,312.23 42.38,312.21 42.71,312.18 43.05,312.15 43.39,312.12 43.73,312.09 44.06,312.05 44.4,312 44.74,311.96 45.08,311.9 45.41,311.85 45.75,311.79 46.09,311.73 46.42,311.66 46.76,311.59 47.1,311.52 47.44,311.44 47.78,311.35 48.11,311.26 48.45,311.17 48.79,311.06 49.12,310.95 49.46,310.84 49.8,310.72 50.14,310.58 50.48,310.44 50.81,310.3 51.15,310.14 51.49,309.97 51.83,309.79 52.16,309.59 52.5,309.38 52.84,309.16 53.17,308.92 53.51,308.67 53.85,308.39 54.19,308.1 54.53,307.78 54.86,307.43 55.2,307.06 55.54,306.66 55.88,306.22 56.21,305.75 56.55,305.24 56.89,304.69 57.23,304.09 57.56,303.43 57.9,302.72 58.24,301.93 58.58,301.08 58.91,300.14 59.25,299.11 59.59,297.96 59.93,296.66 60.26,295.2 60.6,293.49 60.94,291.47 61.28,289 61.61,285.94 61.95,282.22 62.29,278.2 62.62,275.11 62.96,274.54 63.3,276.5 63.64,279.43 63.98,282.1 64.31,284.18 64.65,285.74 64.99,286.91 65.33,287.8 65.66,288.47 66,288.96 66.34,289.26 66.68,289.33 67.01,289.14 67.35,288.61 67.69,287.68 68.03,286.39 68.36,285.12 68.7,284.69 69.04,285.59 69.38,287.36 69.71,289.18 70.05,290.7 70.39,291.83 70.72,292.61 71.06,293.08 71.4,293.34 71.74,293.62 72.08,294.26 72.41,295.46 72.75,297.04 73.09,298.64 73.43,300.08 73.76,301.29 74.1,302.31 74.44,303.16 74.78,303.88 75.11,304.5 75.45,305.03 75.79,305.5 76.12,305.92 76.46,306.29 76.8,306.63 77.14,306.93 77.47,307.21 77.81,307.46 78.15,307.69 78.49,307.91 78.83,308.11 79.16,308.29 79.5,308.47 80.51,308.95 81.53,309.37 82.54,309.75 83.55,310.1 84.56,310.42 85.58,310.71 86.59,310.99 87.6,311.24 88.61,311.46 89.62,311.67 90.64,311.85 91.65,312.01 92.66,312.16 93.68,312.28 94.01,312.32 94.35,312.35 94.69,312.38 95.03,312.41 95.36,312.44 95.7,312.46 96.04,312.48 96.38,312.5 96.71,312.52 97.05,312.53 97.39,312.53 97.73,312.53 98.06,312.53 98.4,312.51 98.74,312.49 99.08,312.46 99.41,312.41 99.75,312.35 100.09,312.27 100.43,312.16 100.76,312.02 101.1,311.84 101.44,311.61 101.78,311.34 102.11,311.05 102.45,310.76 102.79,310.55 103.12,310.48 103.46,310.58 103.8,310.83 104.14,311.15 104.48,311.48 104.81,311.78 105.15,312.04 105.49,312.26 105.83,312.43 106.16,312.58 106.5,312.7 106.84,312.8 107.18,312.88 107.51,312.95 107.85,313.01 108.19,313.06 108.53,313.1 108.86,313.14 109.2,313.18 109.54,313.21 109.88,313.23 110.89,313.3 111.9,313.34 112.91,313.38 113.93,313.41 114.94,313.43 115.95,313.44 116.96,313.44 117.98,313.44 118.99,313.44 120,313.43 121.01,313.41 122.03,313.4 123.04,313.38 124.05,313.36 125.06,313.35 126.08,313.34 127.09,313.35 128.1,313.36 129.11,313.39 130.12,313.42 131.14,313.46 132.15,313.49 133.16,313.52 134.18,313.55 135.19,313.58 136.2,313.59 137.21,313.61 138.23,313.62 139.24,313.63 140.25,313.63 141.26,313.63 142.28,313.62 143.29,313.62 144.3,313.6 145.31,313.59 146.32,313.57 147.34,313.55 148.35,313.53 149.36,313.5 150.38,313.48 151.39,313.45 152.4,313.43 153.41,313.42 154.43,313.41 155.44,313.4 156.45,313.41 157.46,313.42 158.48,313.44 159.49,313.46 160.5,313.48 161.51,313.5 162.53,313.52 163.54,313.55 164.55,313.56 165.56,313.58 166.58,313.58 167.59,313.59 168.6,313.58 169.61,313.57 170.62,313.55 171.64,313.52 171.98,313.51 172.31,313.49 172.65,313.48 172.99,313.46 173.33,313.44 173.66,313.42 174,313.4 174.34,313.38 174.68,313.35 175.01,313.32 175.35,313.29 175.69,313.25 176.03,313.21 176.36,313.16 176.7,313.11 177.04,313.04 177.38,312.97 177.71,312.88 178.05,312.78 178.39,312.66 178.73,312.51 179.06,312.33 179.4,312.12 179.74,311.88 180.08,311.63 180.41,311.4 180.75,311.24 181.09,311.18 181.43,311.26 181.76,311.44 182.1,311.69 182.44,311.96 182.78,312.22 183.11,312.45 183.45,312.65 183.79,312.81 184.12,312.95 184.46,313.07 184.8,313.16 185.14,313.25 185.48,313.32 185.81,313.38 186.15,313.44 186.49,313.48 186.83,313.52 187.16,313.56 187.5,313.6 187.84,313.63 188.18,313.65 188.51,313.68 188.85,313.7 189.19,313.72 189.53,313.74 189.86,313.76 190.2,313.78 190.54,313.79 190.88,313.81 191.89,313.84 192.9,313.88 193.91,313.9 194.93,313.93 195.94,313.94 196.95,313.96 197.96,313.98 198.98,313.99 199.99,314 201,314.01 202.01,314.02 203.03,314.03 204.04,314.04 205.05,314.04 206.06,314.05 207.08,314.06 208.09,314.06 209.1,314.07 210.11,314.07 211.12,314.08 212.14,314.08 213.15,314.08 214.16,314.09"/>
<polyline fill="none" stroke="#000080" stroke-width="0.9" stroke-linejoin="round" points="25.5,309.1 25.84,308.15 26.18,306.91 26.51,305.33 26.85,303.54 27.19,301.98 27.52,301.38 27.86,302.14 28.2,303.85 28.54,305.78 28.88,307.47 29.21,308.8 29.55,309.81 29.89,310.58 30.23,311.15 30.56,311.59 30.9,311.93 31.24,312.2 31.57,312.41 31.91,312.57 32.25,312.69 32.59,312.78 32.92,312.84 33.26,312.88 33.6,312.88 33.94,312.86 34.27,312.81 34.61,312.72 34.95,312.61 35.29,312.49 35.62,312.4 35.96,312.37 36.3,312.44 36.64,312.57 36.98,312.73 37.31,312.89 37.65,313.02 37.99,313.13 38.33,313.21 38.66,313.28 39,313.33 39.34,313.36 39.67,313.39 40.01,313.41 40.35,313.42 40.69,313.42 41.02,313.42 41.36,313.42 41.7,313.41 42.04,313.4 42.38,313.38 42.71,313.37 43.05,313.34 43.39,313.32 43.73,313.3 44.06,313.27 44.4,313.24 44.74,313.2 45.08,313.17 45.41,313.13 45.75,313.09 46.09,313.04 46.42,313 46.76,312.95 47.1,312.89 47.44,312.84 47.78,312.78 48.11,312.71 48.45,312.64 48.79,312.57 49.12,312.49 49.46,312.41 49.8,312.32 50.14,312.23 50.48,312.13 50.81,312.03 51.15,311.91 51.49,311.79 51.83,311.66 52.16,311.53 52.5,311.38 52.84,311.22 53.17,311.05 53.51,310.87 53.85,310.68 54.19,310.47 54.53,310.24 54.86,310 55.2,309.73 55.54,309.45 55.88,309.14 56.21,308.81 56.55,308.45 56.89,308.06 57.23,307.63 57.56,307.17 57.9,306.67 58.24,306.12 58.58,305.52 58.91,304.86 59.25,304.14 59.59,303.34 59.93,302.44 60.26,301.43 60.6,300.26 60.94,298.88 61.28,297.21 61.61,295.16 61.95,292.67 62.29,289.99 62.62,287.93 62.96,287.52 63.3,288.79 63.64,290.7 63.98,292.45 64.31,293.82 64.65,294.84 64.99,295.63 65.33,296.23 65.66,296.7 66,297.05 66.34,297.27 66.68,297.36 67.01,297.27 67.35,296.97 67.69,296.41 68.03,295.63 68.36,294.87 68.7,294.63 69.04,295.22 69.38,296.36 69.71,297.54 70.05,298.53 70.39,299.29 70.72,299.84 71.06,300.2 71.4,300.43 71.74,300.68 72.08,301.14 72.41,301.96 72.75,303 73.09,304.06 73.43,305.01 73.76,305.82 74.1,306.5 74.44,307.07 74.78,307.56 75.11,307.98 75.45,308.35 75.79,308.67 76.12,308.96 76.46,309.22 76.8,309.45 77.14,309.66 77.47,309.85 77.81,310.03 78.15,310.19 78.49,310.34 78.83,310.48 79.16,310.61 79.5,310.74 80.51,311.07 81.53,311.37 82.54,311.63 83.55,311.88 84.56,312.11 85.58,312.32 86.59,312.51 87.6,312.69 88.61,312.85 89.62,312.99 90.64,313.12 91.65,313.24 92.66,313.34 93.68,313.42 94.01,313.45 94.35,313.47 94.69,313.49 95.03,313.51 95.36,313.53 95.7,313.55 96.04,313.56 96.38,313.57 96.71,313.58 97.05,313.58 97.39,313.58 97.73,313.58 98.06,313.57 98.4,313.56 98.74,313.54 99.08,313.5 99.41,313.46 99.75,313.41 100.09,313.34 100.43,313.24 100.76,313.12 101.1,312.97 101.44,312.78 101.78,312.55 102.11,312.3 102.45,312.06 102.79,311.89 103.12,311.83 103.46,311.91 103.8,312.11 104.14,312.38 104.48,312.65 104.81,312.9 105.15,313.11 105.49,313.29 105.83,313.44 106.16,313.56 106.5,313.65 106.84,313.74 107.18,313.8 107.51,313.86 107.85,313.91 108.19,313.95 108.53,313.98 108.86,314.02 109.2,314.04 109.54,314.07 109.88,314.09 110.89,314.14 111.9,314.18 112.91,314.21 113.93,314.23 114.94,314.24 115.95,314.25 116.96,314.26 117.98,314.26 118.99,314.25 120,314.25 121.01,314.24 122.03,314.22 123.04,314.21 124.05,314.2 125.06,314.19 126.08,314.19 127.09,314.19 128.1,314.2 129.11,314.22 130.12,314.24 131.14,314.27 132.15,314.29 133.16,314.32 134.18,314.34 135.19,314.35 136.2,314.37 137.21,314.38 138.23,314.39 139.24,314.39 140.25,314.39 141.26,314.39 142.28,314.39 143.29,314.38 144.3,314.37 145.31,314.36 146.32,314.35 147.34,314.34 148.35,314.32 149.36,314.3 150.38,314.28 151.39,314.27 152.4,314.25 153.41,314.24 154.43,314.24 155.44,314.23 156.45,314.24 157.46,314.24 158.48,314.26 159.49,314.27 160.5,314.29 161.51,314.31 162.53,314.32 163.54,314.34 164.55,314.35 165.56,314.36 166.58,314.37 167.59,314.37 168.6,314.37 169.61,314.36 170.62,314.35 171.64,314.33 171.98,314.32 172.31,314.31 172.65,314.3 172.99,314.29 173.33,314.27 173.66,314.26 174,314.25 174.34,314.23 174.68,314.21 175.01,314.19 175.35,314.17 175.69,314.14 176.03,314.11 176.36,314.08 176.7,314.05 177.04,314 177.38,313.95 177.71,313.89 178.05,313.82 178.39,313.74 178.73,313.63 179.06,313.51 179.4,313.37 179.74,313.21 180.08,313.04 180.41,312.88 180.75,312.77 181.09,312.73 181.43,312.78 181.76,312.91 182.1,313.08 182.44,313.26 182.78,313.44 183.11,313.6 183.45,313.73 183.79,313.84 184.12,313.94 184.46,314.02 184.8,314.09 185.14,314.14 185.48,314.19 185.81,314.24 186.15,314.27 186.49,314.3 186.83,314.33 187.16,314.36 187.5,314.38 187.84,314.4 188.18,314.42 188.51,314.44 188.85,314.45 189.19,314.47 189.53,314.48 189.86,314.49 190.2,314.51 190.54,314.52 190.88,314.53 191.89,314.55 192.9,314.57 193.91,314.59 194.93,314.61 195.94,314.62 196.95,314.63 197.96,314.64 198.98,314.65 199.99,314.66 201,314.67 202.01,314.67 203.03,314.68 204.04,314.69 205.05,314.69 206.06,314.7 207.08,314.7 208.09,314.7 209.1,314.71 210.11,314.71 211.12,314.71 212.14,314.72 213.15,314.72 214.16,314.72"/>
<polyline fill="none" stroke="#8000ff" stroke-width="0.9" stroke-linejoin="round" points="25.5,312.39 25.84,311.86 26.18,311.17 26.51,310.29 26.85,309.29 27.19,308.42 27.52,308.08 27.86,308.51 28.2,309.46 28.54,310.54 28.88,311.48 29.21,312.23 29.55,312.8 29.89,313.22 30.23,313.54 30.56,313.79 30.9,313.98 31.24,314.13 31.57,314.25 31.91,314.34 32.25,314.41 32.59,314.46 32.92,314.5 33.26,314.52 33.6,314.52 33.94,314.51 34.27,314.48 34.61,314.43 34.95,314.37 35.29,314.3 35.62,314.25 35.96,314.24 36.3,314.28 36.64,314.35 36.98,314.44 37.31,314.53 37.65,314.61 37.99,314.67 38.33,314.72 38.66,314.76 39,314.78 39.34,314.81 39.67,314.82 40.01,314.83 40.35,314.84 40.69,314.84 41.02,314.85 41.36,314.84 41.7,314.84 42.04,314.84 42.38,314.83 42.71,314.82 43.05,314.81 43.39,314.8 43.73,314.79 44.06,314.78 44.4,314.76 44.74,314.75 45.08,314.73 45.41,314.71 45.75,314.69 46.09,314.67 46.42,314.65 46.76,314.62 47.1,314.6 47.44,314.57 47.78,314.54 48.11,314.51 48.45,314.47 48.79,314.44 49.12,314.4 49.46,314.36 49.8,314.32 50.14,314.27 50.48,314.22 50.81,314.17 51.15,314.12 51.49,314.06 51.83,313.99 52.16,313.93 52.5,313.85 52.84,313.77 53.17,313.69 53.51,313.6 53.85,313.51 54.19,313.4 54.53,313.29 54.86,313.17 55.2,313.04 55.54,312.9 55.88,312.75 56.21,312.59 56.55,312.41 56.89,312.22 57.23,312.01 57.56,311.79 57.9,311.54 58.24,311.28 58.58,310.99 58.91,310.67 59.25,310.33 59.59,309.94 59.93,309.52 60.26,309.05 60.6,308.51 60.94,307.88 61.28,307.13 61.61,306.22 61.95,305.13 62.29,303.96 62.62,303.06 62.96,302.86 63.3,303.37 63.64,304.16 63.98,304.89 64.31,305.47 64.65,305.91 64.99,306.25 65.33,306.52 65.66,306.74 66,306.91 66.34,307.03 66.68,307.1 67.01,307.1 67.35,307.01 67.69,306.83 68.03,306.56 68.36,306.29 68.7,306.23 69.04,306.48 69.38,306.94 69.71,307.43 70.05,307.86 70.39,308.2 70.72,308.46 71.06,308.66 71.4,308.81 71.74,308.97 72.08,309.21 72.41,309.58 72.75,310.04 73.09,310.5 73.43,310.91 73.76,311.26 74.1,311.56 74.44,311.82 74.78,312.04 75.11,312.24 75.45,312.41 75.79,312.56 76.12,312.69 76.46,312.82 76.8,312.93 77.14,313.03 77.47,313.12 77.81,313.2 78.15,313.28 78.49,313.35 78.83,313.42 79.16,313.48 79.5,313.54 80.51,313.71 81.53,313.85 82.54,313.98 83.55,314.1 84.56,314.21 85.58,314.32 86.59,314.41 87.6,314.5 88.61,314.58 89.62,314.65 90.64,314.72 91.65,314.77 92.66,314.82 93.68,314.87 94.01,314.88 94.35,314.89 94.69,314.9 95.03,314.91 95.36,314.92 95.7,314.93 96.04,314.94 96.38,314.94 96.71,314.95 97.05,314.95 97.39,314.95 97.73,314.95 98.06,314.94 98.4,314.94 98.74,314.93 99.08,314.91 99.41,314.89 99.75,314.87 100.09,314.83 100.43,314.79 100.76,314.73 101.1,314.66 101.44,314.57 101.78,314.46 102.11,314.34 102.45,314.22 102.79,314.14 103.12,314.11 103.46,314.15 103.8,314.25 104.14,314.37 104.48,314.51 104.81,314.63 105.15,314.73 105.49,314.81 105.83,314.89 106.16,314.94 106.5,314.99 106.84,315.03 107.18,315.06 107.51,315.09 107.85,315.11 108.19,315.13 108.53,315.15 108.86,315.16 109.2,315.18 109.54,315.19 109.88,315.2 110.89,315.22 111.9,315.24 112.91,315.26 113.93,315.27 114.94,315.27 115.95,315.28 116.96,315.28 117.98,315.28 118.99,315.28 120,315.28 121.01,315.27 122.03,315.26 123.04,315.26 124.05,315.25 125.06,315.25 126.08,315.24 127.09,315.25 128.1,315.25 129.11,315.26 130.12,315.27 131.14,315.29 132.15,315.3 133.16,315.31 134.18,315.32 135.19,315.33 136.2,315.34 137.21,315.34 138.23,315.34 139.24,315.35 140.25,315.35 141.26,315.35 142.28,315.35 143.29,315.34 144.3,315.34 145.31,315.33 146.32,315.33 147.34,315.32 148.35,315.31 149.36,315.3 150.38,315.29 151.39,315.29 152.4,315.28 153.41,315.27 154.43,315.27 155.44,315.27 156.45,315.27 157.46,315.27 158.48,315.28 159.49,315.29 160.5,315.3 161.51,315.31 162.53,315.31 163.54,315.32 164.55,315.33 165.56,315.33 166.58,315.34 167.59,315.34 168.6,315.34 169.61,315.34 170.62,315.33 171.64,315.32 171.98,315.32 172.31,315.32 172.65,315.31 172.99,315.31 173.33,315.3 173.66,315.29 174,315.29 174.34,315.28 174.68,315.27 175.01,315.26 175.35,315.25 175.69,315.24 176.03,315.23 176.36,315.21 176.7,315.2 177.04,315.18 177.38,315.15 177.71,315.13 178.05,315.09 178.39,315.05 178.73,315.01 179.06,314.95 179.4,314.88 179.74,314.81 180.08,314.73 180.41,314.66 180.75,314.61 181.09,314.59 181.43,314.61 181.76,314.67 182.1,314.75 182.44,314.84 182.78,314.92 183.11,314.99 183.45,315.05 183.79,315.1 184.12,315.15 184.46,315.19 184.8,315.22 185.14,315.24 185.48,315.27 185.81,315.29 186.15,315.3 186.49,315.32 186.83,315.33 187.16,315.34 187.5,315.35 187.84,315.36 188.18,315.37 188.51,315.38 188.85,315.39 189.19,315.39 189.53,315.4 189.86,315.41 190.2,315.41 190.54,315.42 190.88,315.42 191.89,315.43 192.9,315.44 193.91,315.45 194.93,315.46 195.94,315.46 196.95,315.47 197.96,315.48 198.98,315.48 199.99,315.48 201,315.49 202.01,315.49 203.03,315.49 204.04,315.49 205.05,315.5 206.06,315.5 207.08,315.5 208.09,315.5 209.1,315.5 210.11,315.51 211.12,315.51 212.14,315.51 213.15,315.51 214.16,315.51"/>
<polyline fill="none" stroke="#ff00ff" stroke-width="0.9" stroke-linejoin="round" points="25.5,314.94 25.84,314.74 26.18,314.47 26.51,314.14 26.85,313.75 27.19,313.42 27.52,313.29 27.86,313.45 28.2,313.82 28.54,314.24 28.88,314.6 29.21,314.89 29.55,315.1 29.89,315.27 30.23,315.39 30.56,315.49 30.9,315.56 31.24,315.62 31.57,315.67 31.91,315.7 32.25,315.73 32.59,315.75 32.92,315.77 33.26,315.77 33.6,315.78 33.94,315.77 34.27,315.76 34.61,315.75 34.95,315.72 35.29,315.7 35.62,315.68 35.96,315.68 36.3,315.69 36.64,315.72 36.98,315.76 37.31,315.79 37.65,315.82 37.99,315.85 38.33,315.87 38.66,315.89 39,315.9 39.34,315.91 39.67,315.92 40.01,315.92 40.35,315.93 40.69,315.93 41.02,315.93 41.36,315.94 41.7,315.94 42.04,315.94 42.38,315.94 42.71,315.94 43.05,315.94 43.39,315.93 43.73,315.93 44.06,315.93 44.4,315.93 44.74,315.92 45.08,315.92 45.41,315.92 45.75,315.91 46.09,315.91 46.42,315.9 46.76,315.9 47.1,315.89 47.44,315.89 47.78,315.88 48.11,315.87 48.45,315.87 48.79,315.86 49.12,315.85 49.46,315.84 49.8,315.83 50.14,315.82 50.48,315.81 50.81,315.8 51.15,315.79 51.49,315.77 51.83,315.76 52.16,315.74 52.5,315.73 52.84,315.71 53.17,315.69 53.51,315.67 53.85,315.65 54.19,315.63 54.53,315.6 54.86,315.57 55.2,315.54 55.54,315.51 55.88,315.48 56.21,315.44 56.55,315.4 56.89,315.36 57.23,315.31 57.56,315.26 57.9,315.21 58.24,315.15 58.58,315.09 58.91,315.02 59.25,314.94 59.59,314.86 59.93,314.77 60.26,314.67 60.6,314.56 60.94,314.44 61.28,314.3 61.61,314.13 61.95,313.93 62.29,313.72 62.62,313.56 62.96,313.52 63.3,313.59 63.64,313.71 63.98,313.83 64.31,313.92 64.65,313.99 64.99,314.05 65.33,314.11 65.66,314.15 66,314.19 66.34,314.22 66.68,314.24 67.01,314.26 67.35,314.26 67.69,314.24 68.03,314.22 68.36,314.19 68.7,314.19 69.04,314.24 69.38,314.31 69.71,314.4 70.05,314.47 70.39,314.54 70.72,314.6 71.06,314.65 71.4,314.7 71.74,314.74 72.08,314.8 72.41,314.88 72.75,314.96 73.09,315.05 73.43,315.12 73.76,315.19 74.1,315.25 74.44,315.3 74.78,315.34 75.11,315.38 75.45,315.42 75.79,315.45 76.12,315.48 76.46,315.5 76.8,315.53 77.14,315.55 77.47,315.57 77.81,315.59 78.15,315.6 78.49,315.62 78.83,315.64 79.16,315.65 79.5,315.66 80.51,315.7 81.53,315.73 82.54,315.76 83.55,315.79 84.56,315.81 85.58,315.84 86.59,315.86 87.6,315.88 88.61,315.9 89.62,315.91 90.64,315.93 91.65,315.94 92.66,315.95 93.68,315.96 94.01,315.96 94.35,315.97 94.69,315.97 95.03,315.97 95.36,315.97 95.7,315.97 96.04,315.97 96.38,315.98 96.71,315.98 97.05,315.98 97.39,315.97 97.73,315.97 98.06,315.97 98.4,315.97 98.74,315.96 99.08,315.96 99.41,315.95 99.75,315.94 100.09,315.93 100.43,315.91 100.76,315.89 101.1,315.87 101.44,315.84 101.78,315.8 102.11,315.76 102.45,315.72 102.79,315.69 103.12,315.68 103.46,315.69 103.8,315.73 104.14,315.77 104.48,315.81 104.81,315.85 105.15,315.88 105.49,315.91 105.83,315.93 106.16,315.95 106.5,315.97 106.84,315.98 107.18,315.99 107.51,316 107.85,316.01 108.19,316.01 108.53,316.02 108.86,316.02 109.2,316.03 109.54,316.03 109.88,316.04 110.89,316.04 111.9,316.05 112.91,316.05 113.93,316.06 114.94,316.06 115.95,316.06 116.96,316.06 117.98,316.06 118.99,316.06 120,316.06 121.01,316.06 122.03,316.06 123.04,316.06 124.05,316.05 125.06,316.05 126.08,316.05 127.09,316.05 128.1,316.05 129.11,316.06 130.12,316.06 131.14,316.06 132.15,316.06 133.16,316.07 134.18,316.07 135.19,316.07 136.2,316.07 137.21,316.07 138.23,316.08 139.24,316.08 140.25,316.08 141.26,316.08 142.28,316.08 143.29,316.08 144.3,316.07 145.31,316.07 146.32,316.07 147.34,316.07 148.35,316.07 149.36,316.07 150.38,316.06 151.39,316.06 152.4,316.06 153.41,316.06 154.43,316.06 155.44,316.06 156.45,316.06 157.46,316.06 158.48,316.06 159.49,316.06 160.5,316.06 161.51,316.06 162.53,316.07 163.54,316.07 164.55,316.07 165.56,316.07 166.58,316.07 167.59,316.07 168.6,316.07 169.61,316.07 170.62,316.06 171.64,316.06 171.98,316.06 172.31,316.06 172.65,316.06 172.99,316.05 173.33,316.05 173.66,316.05 174,316.05 174.34,316.04 174.68,316.04 175.01,316.04 175.35,316.03 175.69,316.03 176.03,316.03 176.36,316.02 176.7,316.02 177.04,316.01 177.38,316 177.71,315.99 178.05,315.98 178.39,315.97 178.73,315.95 179.06,315.93 179.4,315.91 179.74,315.89 180.08,315.86 180.41,315.83 180.75,315.82 181.09,315.81 181.43,315.82 181.76,315.84 182.1,315.87 182.44,315.89 182.78,315.92 183.11,315.94 183.45,315.97 183.79,315.98 184.12,316 184.46,316.01 184.8,316.02 185.14,316.03 185.48,316.04 185.81,316.04 186.15,316.05 186.49,316.05 186.83,316.06 187.16,316.06 187.5,316.06 187.84,316.07 188.18,316.07 188.51,316.07 188.85,316.08 189.19,316.08 189.53,316.08 189.86,316.08 190.2,316.08 190.54,316.08 190.88,316.09 191.89,316.09 192.9,316.09 193.91,316.1 194.93,316.1 195.94,316.1 196.95,316.1 197.96,316.1 198.98,316.11 199.99,316.11 201,316.11 202.01,316.11 203.03,316.11 204.04,316.11 205.05,316.11 206.06,316.11 207.08,316.11 208.09,316.11 209.1,316.11 210.11,316.11 211.12,316.11 212.14,316.11 213.15,316.11 214.16,316.11"/>
<text x="62.7" y="199" font-size="11.5" text-anchor="middle" fill="#1c1c1c">β</text>
<text x="71.6" y="224.5" font-size="11.5" text-anchor="middle" fill="#1c1c1c">η</text>
<text x="77.2" y="242" font-size="11.5" text-anchor="middle" fill="#1c1c1c">γ</text>
<text x="31.2" y="269" font-size="11.5" text-anchor="middle" fill="#1c1c1c">α</text>
<text x="103.4" y="296.5" font-size="11.5" text-anchor="middle" fill="#1c1c1c">δ</text>
<text x="181.5" y="294" font-size="11.5" text-anchor="middle" fill="#1c1c1c">λ</text>
<rect x="253.5" y="179.5" width="190" height="139" fill="none" stroke="#5c5c5c" stroke-width="1"/>
<line x1="266.85" y1="318.5" x2="266.85" y2="316.5" stroke="#5c5c5c" stroke-width="1.0"/>
<line x1="266.85" y1="179.5" x2="266.85" y2="181.5" stroke="#5c5c5c" stroke-width="1.0"/>
<line x1="280.4" y1="318.5" x2="280.4" y2="315.1" stroke="#5c5c5c" stroke-width="1.0"/>
<line x1="280.4" y1="179.5" x2="280.4" y2="182.9" stroke="#5c5c5c" stroke-width="1.0"/>
<line x1="293.95" y1="318.5" x2="293.95" y2="316.5" stroke="#5c5c5c" stroke-width="1.0"/>
<line x1="293.95" y1="179.5" x2="293.95" y2="181.5" stroke="#5c5c5c" stroke-width="1.0"/>
<line x1="307.5" y1="318.5" x2="307.5" y2="315.1" stroke="#5c5c5c" stroke-width="1.0"/>
<line x1="307.5" y1="179.5" x2="307.5" y2="182.9" stroke="#5c5c5c" stroke-width="1.0"/>
<line x1="321.05" y1="318.5" x2="321.05" y2="316.5" stroke="#5c5c5c" stroke-width="1.0"/>
<line x1="321.05" y1="179.5" x2="321.05" y2="181.5" stroke="#5c5c5c" stroke-width="1.0"/>
<line x1="334.6" y1="318.5" x2="334.6" y2="315.1" stroke="#5c5c5c" stroke-width="1.0"/>
<line x1="334.6" y1="179.5" x2="334.6" y2="182.9" stroke="#5c5c5c" stroke-width="1.0"/>
<line x1="348.15" y1="318.5" x2="348.15" y2="316.5" stroke="#5c5c5c" stroke-width="1.0"/>
<line x1="348.15" y1="179.5" x2="348.15" y2="181.5" stroke="#5c5c5c" stroke-width="1.0"/>
<line x1="361.7" y1="318.5" x2="361.7" y2="315.1" stroke="#5c5c5c" stroke-width="1.0"/>
<line x1="361.7" y1="179.5" x2="361.7" y2="182.9" stroke="#5c5c5c" stroke-width="1.0"/>
<line x1="375.25" y1="318.5" x2="375.25" y2="316.5" stroke="#5c5c5c" stroke-width="1.0"/>
<line x1="375.25" y1="179.5" x2="375.25" y2="181.5" stroke="#5c5c5c" stroke-width="1.0"/>
<line x1="388.8" y1="318.5" x2="388.8" y2="315.1" stroke="#5c5c5c" stroke-width="1.0"/>
<line x1="388.8" y1="179.5" x2="388.8" y2="182.9" stroke="#5c5c5c" stroke-width="1.0"/>
<line x1="402.35" y1="318.5" x2="402.35" y2="316.5" stroke="#5c5c5c" stroke-width="1.0"/>
<line x1="402.35" y1="179.5" x2="402.35" y2="181.5" stroke="#5c5c5c" stroke-width="1.0"/>
<line x1="415.9" y1="318.5" x2="415.9" y2="315.1" stroke="#5c5c5c" stroke-width="1.0"/>
<line x1="415.9" y1="179.5" x2="415.9" y2="182.9" stroke="#5c5c5c" stroke-width="1.0"/>
<line x1="429.45" y1="318.5" x2="429.45" y2="316.5" stroke="#5c5c5c" stroke-width="1.0"/>
<line x1="429.45" y1="179.5" x2="429.45" y2="181.5" stroke="#5c5c5c" stroke-width="1.0"/>
<line x1="253.5" y1="182.7" x2="256.9" y2="182.7" stroke="#5c5c5c" stroke-width="1.0"/>
<line x1="443.5" y1="182.7" x2="440.1" y2="182.7" stroke="#5c5c5c" stroke-width="1.0"/>
<line x1="253.5" y1="190.91" x2="255.5" y2="190.91" stroke="#5c5c5c" stroke-width="1.0"/>
<line x1="443.5" y1="190.91" x2="441.5" y2="190.91" stroke="#5c5c5c" stroke-width="1.0"/>
<line x1="253.5" y1="199.12" x2="256.9" y2="199.12" stroke="#5c5c5c" stroke-width="1.0"/>
<line x1="443.5" y1="199.12" x2="440.1" y2="199.12" stroke="#5c5c5c" stroke-width="1.0"/>
<line x1="253.5" y1="207.33" x2="255.5" y2="207.33" stroke="#5c5c5c" stroke-width="1.0"/>
<line x1="443.5" y1="207.33" x2="441.5" y2="207.33" stroke="#5c5c5c" stroke-width="1.0"/>
<line x1="253.5" y1="215.54" x2="256.9" y2="215.54" stroke="#5c5c5c" stroke-width="1.0"/>
<line x1="443.5" y1="215.54" x2="440.1" y2="215.54" stroke="#5c5c5c" stroke-width="1.0"/>
<line x1="253.5" y1="223.75" x2="255.5" y2="223.75" stroke="#5c5c5c" stroke-width="1.0"/>
<line x1="443.5" y1="223.75" x2="441.5" y2="223.75" stroke="#5c5c5c" stroke-width="1.0"/>
<line x1="253.5" y1="231.96" x2="256.9" y2="231.96" stroke="#5c5c5c" stroke-width="1.0"/>
<line x1="443.5" y1="231.96" x2="440.1" y2="231.96" stroke="#5c5c5c" stroke-width="1.0"/>
<line x1="253.5" y1="240.17" x2="255.5" y2="240.17" stroke="#5c5c5c" stroke-width="1.0"/>
<line x1="443.5" y1="240.17" x2="441.5" y2="240.17" stroke="#5c5c5c" stroke-width="1.0"/>
<line x1="253.5" y1="248.38" x2="256.9" y2="248.38" stroke="#5c5c5c" stroke-width="1.0"/>
<line x1="443.5" y1="248.38" x2="440.1" y2="248.38" stroke="#5c5c5c" stroke-width="1.0"/>
<line x1="253.5" y1="256.59" x2="255.5" y2="256.59" stroke="#5c5c5c" stroke-width="1.0"/>
<line x1="443.5" y1="256.59" x2="441.5" y2="256.59" stroke="#5c5c5c" stroke-width="1.0"/>
<line x1="253.5" y1="264.8" x2="256.9" y2="264.8" stroke="#5c5c5c" stroke-width="1.0"/>
<line x1="443.5" y1="264.8" x2="440.1" y2="264.8" stroke="#5c5c5c" stroke-width="1.0"/>
<line x1="253.5" y1="273.01" x2="255.5" y2="273.01" stroke="#5c5c5c" stroke-width="1.0"/>
<line x1="443.5" y1="273.01" x2="441.5" y2="273.01" stroke="#5c5c5c" stroke-width="1.0"/>
<line x1="253.5" y1="281.22" x2="256.9" y2="281.22" stroke="#5c5c5c" stroke-width="1.0"/>
<line x1="443.5" y1="281.22" x2="440.1" y2="281.22" stroke="#5c5c5c" stroke-width="1.0"/>
<line x1="253.5" y1="289.43" x2="255.5" y2="289.43" stroke="#5c5c5c" stroke-width="1.0"/>
<line x1="443.5" y1="289.43" x2="441.5" y2="289.43" stroke="#5c5c5c" stroke-width="1.0"/>
<line x1="253.5" y1="297.64" x2="256.9" y2="297.64" stroke="#5c5c5c" stroke-width="1.0"/>
<line x1="443.5" y1="297.64" x2="440.1" y2="297.64" stroke="#5c5c5c" stroke-width="1.0"/>
<line x1="253.5" y1="305.85" x2="255.5" y2="305.85" stroke="#5c5c5c" stroke-width="1.0"/>
<line x1="443.5" y1="305.85" x2="441.5" y2="305.85" stroke="#5c5c5c" stroke-width="1.0"/>
<line x1="253.5" y1="314.06" x2="256.9" y2="314.06" stroke="#5c5c5c" stroke-width="1.0"/>
<line x1="443.5" y1="314.06" x2="440.1" y2="314.06" stroke="#5c5c5c" stroke-width="1.0"/>
<text transform="translate(253.3 331.5) scale(0.92 1)" font-size="13.2" text-anchor="middle" fill="#1c1c1c">0</text>
<text transform="translate(280.4 331.5) scale(0.92 1)" font-size="13.2" text-anchor="middle" fill="#1c1c1c">5</text>
<text transform="translate(307.5 331.5) scale(0.92 1)" font-size="13.2" text-anchor="middle" fill="#1c1c1c">10</text>
<text transform="translate(334.6 331.5) scale(0.92 1)" font-size="13.2" text-anchor="middle" fill="#1c1c1c">15</text>
<text transform="translate(361.7 331.5) scale(0.92 1)" font-size="13.2" text-anchor="middle" fill="#1c1c1c">20</text>
<text transform="translate(388.8 331.5) scale(0.92 1)" font-size="13.2" text-anchor="middle" fill="#1c1c1c">25</text>
<text transform="translate(415.9 331.5) scale(0.92 1)" font-size="13.2" text-anchor="middle" fill="#1c1c1c">30</text>
<text transform="translate(443 331.5) scale(0.92 1)" font-size="13.2" text-anchor="middle" fill="#1c1c1c">35</text>
<text x="241" y="249" font-size="12" text-anchor="middle" fill="#1c1c1c" transform="rotate(-90 241 249)" dominant-baseline="central">FFT Amplitude (a.u.)</text>
<text x="348.5" y="344.6" font-size="12.5" text-anchor="middle" fill="#1c1c1c">T (K)</text>
<text x="240" y="180.7" font-size="16.5" text-anchor="middle" fill="#1c1c1c">(e)</text>
<polyline fill="none" stroke="#ff1a1a" stroke-width="1.0" stroke-linejoin="round" points="253.3,192.5 254.66,192.55 256.01,192.7 257.37,192.96 258.72,193.31 260.07,193.76 261.43,194.31 262.79,194.96 264.14,195.69 265.5,196.52 266.85,197.44 268.2,198.44 269.56,199.52 270.92,200.69 272.27,201.92 273.62,203.23 274.98,204.6 276.34,206.04 277.69,207.54 279.05,209.09 280.4,210.69 281.75,212.34 283.11,214.02 284.47,215.75 285.82,217.51 287.18,219.3 288.53,221.12 289.88,222.95 291.24,224.81 292.6,226.68 293.95,228.56 295.31,230.44 296.66,232.33 298.01,234.22 299.37,236.11 300.73,237.99 302.08,239.86 303.44,241.72 304.79,243.57 306.14,245.41 307.5,247.22 308.86,249.02 310.21,250.8 311.56,252.55 312.92,254.28 314.28,255.99 315.63,257.66 316.99,259.31 318.34,260.93 319.69,262.53 321.05,264.09 322.41,265.62 323.76,267.12 325.12,268.59 326.47,270.02 327.83,271.43 329.18,272.8 330.54,274.14 331.89,275.45 333.25,276.72 334.6,277.97 335.96,279.18 337.31,280.36 338.67,281.5 340.02,282.62 341.38,283.71 342.73,284.76 344.09,285.79 345.44,286.78 346.8,287.75 348.15,288.69 349.5,289.6 350.86,290.48 352.22,291.34 353.57,292.17 354.93,292.97 356.28,293.75 357.63,294.5 358.99,295.23 360.35,295.94 361.7,296.62 363.06,297.28 364.41,297.92 365.76,298.53 367.12,299.13 368.48,299.7 369.83,300.26 371.19,300.8 372.54,301.32 373.89,301.82 375.25,302.3 376.61,302.77 377.96,303.22 379.31,303.65 380.67,304.07 382.02,304.47 383.38,304.86 384.74,305.24 386.09,305.6 387.45,305.94 388.8,306.28 390.15,306.6 391.51,306.91 392.87,307.21 394.22,307.5 395.58,307.78 396.93,308.04 398.28,308.3 399.64,308.55 401,308.79 402.35,309.02 403.71,309.24 405.06,309.45 406.42,309.65 407.77,309.85 409.12,310.03 410.48,310.22 411.84,310.39 413.19,310.56 414.55,310.72 415.9,310.87 417.25,311.02 418.61,311.16 419.97,311.3 421.32,311.43 422.68,311.56 424.03,311.68 425.38,311.79 426.74,311.91 428.1,312.01 429.45,312.12 430.81,312.21 432.16,312.31 433.51,312.4 434.87,312.49 436.23,312.57 437.58,312.65 438.94,312.73 440.29,312.8 441.64,312.87 443,312.94"/>
<polyline fill="none" stroke="#ff1a1a" stroke-width="1.0" stroke-linejoin="round" points="253.3,220.5 254.66,220.56 256.01,220.73 257.37,221.01 258.72,221.4 260.07,221.9 261.43,222.5 262.79,223.21 264.14,224.01 265.5,224.92 266.85,225.91 268.2,226.99 269.56,228.16 270.92,229.4 272.27,230.71 273.62,232.09 274.98,233.52 276.34,235.02 277.69,236.56 279.05,238.15 280.4,239.77 281.75,241.43 283.11,243.11 284.47,244.82 285.82,246.54 287.18,248.28 288.53,250.02 289.88,251.77 291.24,253.52 292.6,255.26 293.95,256.99 295.31,258.71 296.66,260.42 298.01,262.11 299.37,263.77 300.73,265.42 302.08,267.04 303.44,268.63 304.79,270.19 306.14,271.73 307.5,273.23 308.86,274.7 310.21,276.13 311.56,277.53 312.92,278.9 314.28,280.23 315.63,281.53 316.99,282.79 318.34,284.01 319.69,285.2 321.05,286.35 322.41,287.47 323.76,288.55 325.12,289.6 326.47,290.61 327.83,291.59 329.18,292.53 330.54,293.44 331.89,294.33 333.25,295.17 334.6,295.99 335.96,296.78 337.31,297.54 338.67,298.27 340.02,298.98 341.38,299.65 342.73,300.3 344.09,300.93 345.44,301.53 346.8,302.1 348.15,302.66 349.5,303.19 350.86,303.7 352.22,304.18 353.57,304.65 354.93,305.1 356.28,305.53 357.63,305.94 358.99,306.34 360.35,306.71 361.7,307.07 363.06,307.42 364.41,307.75 365.76,308.06 367.12,308.37 368.48,308.65 369.83,308.93 371.19,309.19 372.54,309.44 373.89,309.69 375.25,309.91 376.61,310.13 377.96,310.34 379.31,310.54 380.67,310.73 382.02,310.91 383.38,311.09 384.74,311.25 386.09,311.41 387.45,311.56 388.8,311.7 390.15,311.84 391.51,311.97 392.87,312.09 394.22,312.21 395.58,312.33 396.93,312.43 398.28,312.53 399.64,312.63 401,312.72 402.35,312.81 403.71,312.9 405.06,312.98 406.42,313.05 407.77,313.12 409.12,313.19 410.48,313.26 411.84,313.32 413.19,313.38 414.55,313.44 415.9,313.49 417.25,313.54 418.61,313.59 419.97,313.63 421.32,313.68 422.68,313.72 424.03,313.76 425.38,313.8 426.74,313.83 428.1,313.87 429.45,313.9 430.81,313.93 432.16,313.96 433.51,313.99 434.87,314.01 436.23,314.04 437.58,314.06 438.94,314.08 440.29,314.11 441.64,314.13 443,314.14"/>
<polyline fill="none" stroke="#ff1a1a" stroke-width="1.0" stroke-linejoin="round" points="253.3,242.5 254.66,242.52 256.01,242.6 257.37,242.72 258.72,242.89 260.07,243.1 261.43,243.37 262.79,243.68 264.14,244.03 265.5,244.43 266.85,244.87 268.2,245.36 269.56,245.88 270.92,246.45 272.27,247.05 273.62,247.69 274.98,248.36 276.34,249.07 277.69,249.81 279.05,250.58 280.4,251.37 281.75,252.2 283.11,253.04 284.47,253.91 285.82,254.8 287.18,255.71 288.53,256.64 289.88,257.58 291.24,258.53 292.6,259.5 293.95,260.47 295.31,261.46 296.66,262.45 298.01,263.45 299.37,264.45 300.73,265.45 302.08,266.45 303.44,267.46 304.79,268.46 306.14,269.46 307.5,270.45 308.86,271.44 310.21,272.42 311.56,273.4 312.92,274.37 314.28,275.33 315.63,276.28 316.99,277.22 318.34,278.15 319.69,279.06 321.05,279.97 322.41,280.86 323.76,281.74 325.12,282.6 326.47,283.45 327.83,284.29 329.18,285.11 330.54,285.92 331.89,286.71 333.25,287.49 334.6,288.25 335.96,289 337.31,289.73 338.67,290.45 340.02,291.15 341.38,291.83 342.73,292.5 344.09,293.15 345.44,293.79 346.8,294.42 348.15,295.03 349.5,295.62 350.86,296.2 352.22,296.76 353.57,297.31 354.93,297.85 356.28,298.37 357.63,298.88 358.99,299.38 360.35,299.86 361.7,300.32 363.06,300.78 364.41,301.22 365.76,301.65 367.12,302.07 368.48,302.48 369.83,302.87 371.19,303.25 372.54,303.63 373.89,303.99 375.25,304.34 376.61,304.68 377.96,305.01 379.31,305.32 380.67,305.63 382.02,305.93 383.38,306.22 384.74,306.51 386.09,306.78 387.45,307.04 388.8,307.3 390.15,307.55 391.51,307.79 392.87,308.02 394.22,308.25 395.58,308.46 396.93,308.67 398.28,308.88 399.64,309.08 401,309.27 402.35,309.45 403.71,309.63 405.06,309.8 406.42,309.97 407.77,310.13 409.12,310.28 410.48,310.44 411.84,310.58 413.19,310.72 414.55,310.86 415.9,310.99 417.25,311.11 418.61,311.24 419.97,311.35 421.32,311.47 422.68,311.58 424.03,311.68 425.38,311.79 426.74,311.89 428.1,311.98 429.45,312.07 430.81,312.16 432.16,312.25 433.51,312.33 434.87,312.41 436.23,312.49 437.58,312.56 438.94,312.63 440.29,312.7 441.64,312.77 443,312.83"/>
<polyline fill="none" stroke="#ff1a1a" stroke-width="1.0" stroke-linejoin="round" points="253.3,266.5 254.66,266.52 256.01,266.57 257.37,266.66 258.72,266.79 260.07,266.95 261.43,267.14 262.79,267.37 264.14,267.64 265.5,267.93 266.85,268.26 268.2,268.62 269.56,269 270.92,269.42 272.27,269.86 273.62,270.33 274.98,270.83 276.34,271.35 277.69,271.89 279.05,272.45 280.4,273.03 281.75,273.62 283.11,274.24 284.47,274.87 285.82,275.51 287.18,276.17 288.53,276.83 289.88,277.51 291.24,278.19 292.6,278.88 293.95,279.58 295.31,280.28 296.66,280.98 298.01,281.69 299.37,282.39 300.73,283.1 302.08,283.8 303.44,284.51 304.79,285.21 306.14,285.9 307.5,286.59 308.86,287.28 310.21,287.96 311.56,288.63 312.92,289.3 314.28,289.96 315.63,290.6 316.99,291.24 318.34,291.88 319.69,292.5 321.05,293.11 322.41,293.71 323.76,294.3 325.12,294.88 326.47,295.45 327.83,296 329.18,296.55 330.54,297.08 331.89,297.61 333.25,298.12 334.6,298.62 335.96,299.11 337.31,299.59 338.67,300.05 340.02,300.51 341.38,300.95 342.73,301.38 344.09,301.8 345.44,302.21 346.8,302.61 348.15,303 349.5,303.38 350.86,303.75 352.22,304.11 353.57,304.45 354.93,304.79 356.28,305.12 357.63,305.44 358.99,305.74 360.35,306.04 361.7,306.34 363.06,306.62 364.41,306.89 365.76,307.15 367.12,307.41 368.48,307.66 369.83,307.9 371.19,308.13 372.54,308.36 373.89,308.58 375.25,308.79 376.61,308.99 377.96,309.19 379.31,309.38 380.67,309.57 382.02,309.75 383.38,309.92 384.74,310.09 386.09,310.25 387.45,310.4 388.8,310.55 390.15,310.7 391.51,310.84 392.87,310.98 394.22,311.11 395.58,311.23 396.93,311.36 398.28,311.47 399.64,311.59 401,311.7 402.35,311.8 403.71,311.9 405.06,312 406.42,312.1 407.77,312.19 409.12,312.27 410.48,312.36 411.84,312.44 413.19,312.52 414.55,312.6 415.9,312.67 417.25,312.74 418.61,312.81 419.97,312.87 421.32,312.94 422.68,313 424.03,313.05 425.38,313.11 426.74,313.16 428.1,313.22 429.45,313.27 430.81,313.31 432.16,313.36 433.51,313.41 434.87,313.45 436.23,313.49 437.58,313.53 438.94,313.57 440.29,313.6 441.64,313.64 443,313.67"/>
<polyline fill="none" stroke="#ff1a1a" stroke-width="1.0" stroke-linejoin="round" points="253.3,290.9 254.66,290.92 256.01,290.96 257.37,291.04 258.72,291.14 260.07,291.28 261.43,291.44 262.79,291.64 264.14,291.86 265.5,292.1 266.85,292.37 268.2,292.66 269.56,292.98 270.92,293.31 272.27,293.66 273.62,294.03 274.98,294.42 276.34,294.82 277.69,295.23 279.05,295.65 280.4,296.08 281.75,296.52 283.11,296.97 284.47,297.42 285.82,297.87 287.18,298.33 288.53,298.79 289.88,299.24 291.24,299.7 292.6,300.15 293.95,300.6 295.31,301.05 296.66,301.49 298.01,301.92 299.37,302.35 300.73,302.77 302.08,303.18 303.44,303.59 304.79,303.98 306.14,304.37 307.5,304.75 308.86,305.12 310.21,305.48 311.56,305.83 312.92,306.17 314.28,306.5 315.63,306.82 316.99,307.13 318.34,307.43 319.69,307.72 321.05,308.01 322.41,308.28 323.76,308.54 325.12,308.8 326.47,309.04 327.83,309.28 329.18,309.51 330.54,309.73 331.89,309.94 333.25,310.14 334.6,310.34 335.96,310.52 337.31,310.7 338.67,310.88 340.02,311.04 341.38,311.2 342.73,311.35 344.09,311.5 345.44,311.64 346.8,311.77 348.15,311.9 349.5,312.02 350.86,312.14 352.22,312.25 353.57,312.36 354.93,312.46 356.28,312.56 357.63,312.65 358.99,312.74 360.35,312.83 361.7,312.91 363.06,312.99 364.41,313.06 365.76,313.13 367.12,313.2 368.48,313.26 369.83,313.33 371.19,313.38 372.54,313.44 373.89,313.49 375.25,313.54 376.61,313.59 377.96,313.64 379.31,313.68 380.67,313.72 382.02,313.76 383.38,313.8 384.74,313.83 386.09,313.87 387.45,313.9 388.8,313.93 390.15,313.96 391.51,313.99 392.87,314.01 394.22,314.04 395.58,314.06 396.93,314.09 398.28,314.11 399.64,314.13 401,314.15 402.35,314.16 403.71,314.18 405.06,314.2 406.42,314.21 407.77,314.23 409.12,314.24 410.48,314.26 411.84,314.27 413.19,314.28 414.55,314.29 415.9,314.3 417.25,314.31 418.61,314.32 419.97,314.33 421.32,314.34 422.68,314.35 424.03,314.36 425.38,314.37 426.74,314.37 428.1,314.38 429.45,314.39 430.81,314.39 432.16,314.4 433.51,314.4 434.87,314.41 436.23,314.41 437.58,314.42 438.94,314.42 440.29,314.43 441.64,314.43 443,314.43"/>
<polyline fill="none" stroke="#ff1a1a" stroke-width="1.0" stroke-linejoin="round" points="253.3,297.2 254.66,297.21 256.01,297.25 257.37,297.31 258.72,297.39 260.07,297.5 261.43,297.63 262.79,297.78 264.14,297.96 265.5,298.15 266.85,298.36 268.2,298.59 269.56,298.84 270.92,299.1 272.27,299.38 273.62,299.66 274.98,299.97 276.34,300.28 277.69,300.6 279.05,300.92 280.4,301.26 281.75,301.6 283.11,301.94 284.47,302.29 285.82,302.63 287.18,302.98 288.53,303.33 289.88,303.68 291.24,304.02 292.6,304.36 293.95,304.7 295.31,305.04 296.66,305.37 298.01,305.69 299.37,306.01 300.73,306.32 302.08,306.63 303.44,306.93 304.79,307.22 306.14,307.5 307.5,307.78 308.86,308.05 310.21,308.31 311.56,308.57 312.92,308.81 314.28,309.05 315.63,309.28 316.99,309.51 318.34,309.72 319.69,309.93 321.05,310.13 322.41,310.33 323.76,310.51 325.12,310.69 326.47,310.87 327.83,311.03 329.18,311.19 330.54,311.34 331.89,311.49 333.25,311.63 334.6,311.77 335.96,311.9 337.31,312.02 338.67,312.14 340.02,312.25 341.38,312.36 342.73,312.47 344.09,312.56 345.44,312.66 346.8,312.75 348.15,312.84 349.5,312.92 350.86,313 352.22,313.07 353.57,313.14 354.93,313.21 356.28,313.28 357.63,313.34 358.99,313.4 360.35,313.45 361.7,313.51 363.06,313.56 364.41,313.61 365.76,313.65 367.12,313.7 368.48,313.74 369.83,313.78 371.19,313.82 372.54,313.85 373.89,313.88 375.25,313.92 376.61,313.95 377.96,313.98 379.31,314 380.67,314.03 382.02,314.06 383.38,314.08 384.74,314.1 386.09,314.12 387.45,314.14 388.8,314.16 390.15,314.18 391.51,314.2 392.87,314.21 394.22,314.23 395.58,314.24 396.93,314.26 398.28,314.27 399.64,314.28 401,314.29 402.35,314.31 403.71,314.32 405.06,314.33 406.42,314.34 407.77,314.34 409.12,314.35 410.48,314.36 411.84,314.37 413.19,314.38 414.55,314.38 415.9,314.39 417.25,314.4 418.61,314.4 419.97,314.41 421.32,314.41 422.68,314.42 424.03,314.42 425.38,314.43 426.74,314.43 428.1,314.43 429.45,314.44 430.81,314.44 432.16,314.44 433.51,314.45 434.87,314.45 436.23,314.45 437.58,314.46 438.94,314.46 440.29,314.46 441.64,314.46 443,314.46"/>
<circle cx="264.14" cy="191.8" r="2.5" fill="#ff1a1a"/>
<circle cx="274.98" cy="203.8" r="2.5" fill="#ff1a1a"/>
<circle cx="285.82" cy="219.4" r="2.5" fill="#ff1a1a"/>
<circle cx="296.66" cy="234.7" r="2.5" fill="#ff1a1a"/>
<circle cx="307.5" cy="248.6" r="2.5" fill="#ff1a1a"/>
<circle cx="318.34" cy="260.5" r="2.5" fill="#ff1a1a"/>
<circle cx="334.6" cy="276.2" r="2.5" fill="#ff1a1a"/>
<circle cx="361.7" cy="293.1" r="2.5" fill="#ff1a1a"/>
<circle cx="415.9" cy="310" r="2.5" fill="#ff1a1a"/>
<circle cx="264.14" cy="219.9" r="2.5" fill="#ff7a1a"/>
<circle cx="274.98" cy="232.2" r="2.5" fill="#ff7a1a"/>
<circle cx="285.82" cy="246.3" r="2.5" fill="#ff7a1a"/>
<circle cx="296.66" cy="259.1" r="2.5" fill="#ff7a1a"/>
<circle cx="307.5" cy="271" r="2.5" fill="#ff7a1a"/>
<circle cx="318.34" cy="281.5" r="2.5" fill="#ff7a1a"/>
<circle cx="334.6" cy="290" r="2.5" fill="#ff7a1a"/>
<circle cx="361.7" cy="300" r="2.5" fill="#ff7a1a"/>
<circle cx="415.9" cy="307.8" r="2.5" fill="#ff7a1a"/>
<circle cx="264.14" cy="238.6" r="2.5" fill="#ffee00"/>
<circle cx="274.98" cy="249.3" r="2.5" fill="#ffee00"/>
<circle cx="285.82" cy="258.3" r="2.5" fill="#ffee00"/>
<circle cx="296.66" cy="266.6" r="2.5" fill="#ffee00"/>
<circle cx="307.5" cy="273.8" r="2.5" fill="#ffee00"/>
<circle cx="318.34" cy="280.4" r="2.5" fill="#ffee00"/>
<circle cx="334.6" cy="288.1" r="2.5" fill="#ffee00"/>
<circle cx="361.7" cy="298.3" r="2.5" fill="#ffee00"/>
<circle cx="415.9" cy="308" r="2.5" fill="#ffee00"/>
<circle cx="264.14" cy="266" r="2.5" fill="#33dd33"/>
<circle cx="274.98" cy="271" r="2.5" fill="#33dd33"/>
<circle cx="285.82" cy="276.5" r="2.5" fill="#33dd33"/>
<circle cx="296.66" cy="285.9" r="2.5" fill="#33dd33"/>
<circle cx="307.5" cy="289.5" r="2.5" fill="#33dd33"/>
<circle cx="318.34" cy="291.7" r="2.5" fill="#33dd33"/>
<circle cx="334.6" cy="298.3" r="2.5" fill="#33dd33"/>
<circle cx="361.7" cy="305.2" r="2.5" fill="#33dd33"/>
<circle cx="415.9" cy="311" r="2.5" fill="#33dd33"/>
<circle cx="264.14" cy="290.9" r="2.5" fill="#22e8f0"/>
<circle cx="274.98" cy="296.4" r="2.5" fill="#22e8f0"/>
<circle cx="285.82" cy="301.9" r="2.5" fill="#22e8f0"/>
<circle cx="296.66" cy="305" r="2.5" fill="#22e8f0"/>
<circle cx="307.5" cy="308" r="2.5" fill="#22e8f0"/>
<circle cx="318.34" cy="310" r="2.5" fill="#22e8f0"/>
<circle cx="334.6" cy="311.5" r="2.5" fill="#22e8f0"/>
<circle cx="361.7" cy="313" r="2.5" fill="#22e8f0"/>
<circle cx="415.9" cy="314" r="2.5" fill="#22e8f0"/>
<circle cx="264.14" cy="296.4" r="2.5" fill="#1a2aff"/>
<circle cx="274.98" cy="300.5" r="2.5" fill="#1a2aff"/>
<circle cx="285.82" cy="303.3" r="2.5" fill="#1a2aff"/>
<circle cx="296.66" cy="306" r="2.5" fill="#1a2aff"/>
<circle cx="307.5" cy="307.4" r="2.5" fill="#1a2aff"/>
<circle cx="318.34" cy="309.3" r="2.5" fill="#1a2aff"/>
<circle cx="334.6" cy="310.2" r="2.5" fill="#1a2aff"/>
<circle cx="361.7" cy="312.4" r="2.5" fill="#1a2aff"/>
<circle cx="415.9" cy="313.8" r="2.5" fill="#1a2aff"/>
<circle cx="333.8" cy="209.7" r="2.3" fill="#ff1a1a"/>
<text x="348.4" y="213.2" font-size="10" text-anchor="start" fill="#1c1c1c">β band</text>
<circle cx="333.8" cy="222.5" r="2.3" fill="#ff7a1a"/>
<text x="348.4" y="226" font-size="10" text-anchor="start" fill="#1c1c1c">η band</text>
<circle cx="333.8" cy="236" r="2.3" fill="#ffee00"/>
<text x="348.4" y="239.5" font-size="10" text-anchor="start" fill="#1c1c1c">γ&#160; band</text>
<rect x="392" y="205.9" width="4" height="4" fill="#33dd33"/>
<text x="408" y="211.4" font-size="10" text-anchor="start" fill="#1c1c1c">α band</text>
<circle cx="394" cy="221.2" r="2.3" fill="#22e8f0"/>
<text x="408" y="224.7" font-size="10" text-anchor="start" fill="#1c1c1c">λ band</text>
<circle cx="394" cy="235.3" r="2.3" fill="#1a2aff"/>
<text x="408" y="238.8" font-size="10" text-anchor="start" fill="#1c1c1c">δ band</text>
<rect x="470.5" y="179.5" width="190" height="139" fill="none" stroke="#5c5c5c" stroke-width="1"/>
<line x1="482.1" y1="318.5" x2="482.1" y2="316.5" stroke="#5c5c5c" stroke-width="1.0"/>
<line x1="482.1" y1="179.5" x2="482.1" y2="181.5" stroke="#5c5c5c" stroke-width="1.0"/>
<line x1="510.9" y1="318.5" x2="510.9" y2="315.1" stroke="#5c5c5c" stroke-width="1.0"/>
<line x1="510.9" y1="179.5" x2="510.9" y2="182.9" stroke="#5c5c5c" stroke-width="1.0"/>
<line x1="539.7" y1="318.5" x2="539.7" y2="316.5" stroke="#5c5c5c" stroke-width="1.0"/>
<line x1="539.7" y1="179.5" x2="539.7" y2="181.5" stroke="#5c5c5c" stroke-width="1.0"/>
<line x1="568.5" y1="318.5" x2="568.5" y2="315.1" stroke="#5c5c5c" stroke-width="1.0"/>
<line x1="568.5" y1="179.5" x2="568.5" y2="182.9" stroke="#5c5c5c" stroke-width="1.0"/>
<line x1="597.3" y1="318.5" x2="597.3" y2="316.5" stroke="#5c5c5c" stroke-width="1.0"/>
<line x1="597.3" y1="179.5" x2="597.3" y2="181.5" stroke="#5c5c5c" stroke-width="1.0"/>
<line x1="626.1" y1="318.5" x2="626.1" y2="315.1" stroke="#5c5c5c" stroke-width="1.0"/>
<line x1="626.1" y1="179.5" x2="626.1" y2="182.9" stroke="#5c5c5c" stroke-width="1.0"/>
<line x1="654.9" y1="318.5" x2="654.9" y2="316.5" stroke="#5c5c5c" stroke-width="1.0"/>
<line x1="654.9" y1="179.5" x2="654.9" y2="181.5" stroke="#5c5c5c" stroke-width="1.0"/>
<line x1="470.5" y1="188.4" x2="473.1" y2="188.4" stroke="#5c5c5c" stroke-width="1.0"/>
<line x1="660.5" y1="188.4" x2="657.9" y2="188.4" stroke="#5c5c5c" stroke-width="1.0"/>
<line x1="470.5" y1="197.4" x2="473.1" y2="197.4" stroke="#5c5c5c" stroke-width="1.0"/>
<line x1="660.5" y1="197.4" x2="657.9" y2="197.4" stroke="#5c5c5c" stroke-width="1.0"/>
<line x1="470.5" y1="206.4" x2="473.1" y2="206.4" stroke="#5c5c5c" stroke-width="1.0"/>
<line x1="660.5" y1="206.4" x2="657.9" y2="206.4" stroke="#5c5c5c" stroke-width="1.0"/>
<line x1="470.5" y1="215.4" x2="473.1" y2="215.4" stroke="#5c5c5c" stroke-width="1.0"/>
<line x1="660.5" y1="215.4" x2="657.9" y2="215.4" stroke="#5c5c5c" stroke-width="1.0"/>
<line x1="470.5" y1="224.4" x2="473.1" y2="224.4" stroke="#5c5c5c" stroke-width="1.0"/>
<line x1="660.5" y1="224.4" x2="657.9" y2="224.4" stroke="#5c5c5c" stroke-width="1.0"/>
<line x1="470.5" y1="233.4" x2="473.1" y2="233.4" stroke="#5c5c5c" stroke-width="1.0"/>
<line x1="660.5" y1="233.4" x2="657.9" y2="233.4" stroke="#5c5c5c" stroke-width="1.0"/>
<line x1="470.5" y1="242.4" x2="473.1" y2="242.4" stroke="#5c5c5c" stroke-width="1.0"/>
<line x1="660.5" y1="242.4" x2="657.9" y2="242.4" stroke="#5c5c5c" stroke-width="1.0"/>
<line x1="470.5" y1="251.4" x2="473.1" y2="251.4" stroke="#5c5c5c" stroke-width="1.0"/>
<line x1="660.5" y1="251.4" x2="657.9" y2="251.4" stroke="#5c5c5c" stroke-width="1.0"/>
<line x1="470.5" y1="260.4" x2="473.1" y2="260.4" stroke="#5c5c5c" stroke-width="1.0"/>
<line x1="660.5" y1="260.4" x2="657.9" y2="260.4" stroke="#5c5c5c" stroke-width="1.0"/>
<line x1="470.5" y1="269.4" x2="473.1" y2="269.4" stroke="#5c5c5c" stroke-width="1.0"/>
<line x1="660.5" y1="269.4" x2="657.9" y2="269.4" stroke="#5c5c5c" stroke-width="1.0"/>
<line x1="470.5" y1="278.4" x2="473.1" y2="278.4" stroke="#5c5c5c" stroke-width="1.0"/>
<line x1="660.5" y1="278.4" x2="657.9" y2="278.4" stroke="#5c5c5c" stroke-width="1.0"/>
<line x1="470.5" y1="287.4" x2="473.1" y2="287.4" stroke="#5c5c5c" stroke-width="1.0"/>
<line x1="660.5" y1="287.4" x2="657.9" y2="287.4" stroke="#5c5c5c" stroke-width="1.0"/>
<line x1="470.5" y1="296.4" x2="473.1" y2="296.4" stroke="#5c5c5c" stroke-width="1.0"/>
<line x1="660.5" y1="296.4" x2="657.9" y2="296.4" stroke="#5c5c5c" stroke-width="1.0"/>
<line x1="470.5" y1="305.4" x2="473.1" y2="305.4" stroke="#5c5c5c" stroke-width="1.0"/>
<line x1="660.5" y1="305.4" x2="657.9" y2="305.4" stroke="#5c5c5c" stroke-width="1.0"/>
<line x1="470.5" y1="314.4" x2="473.1" y2="314.4" stroke="#5c5c5c" stroke-width="1.0"/>
<line x1="660.5" y1="314.4" x2="657.9" y2="314.4" stroke="#5c5c5c" stroke-width="1.0"/>
<text transform="translate(510.9 331.5) scale(0.92 1)" font-size="13.2" text-anchor="middle" fill="#1c1c1c">0.10</text>
<text transform="translate(568.5 331.5) scale(0.92 1)" font-size="13.2" text-anchor="middle" fill="#1c1c1c">0.15</text>
<text transform="translate(626.1 331.5) scale(0.92 1)" font-size="13.2" text-anchor="middle" fill="#1c1c1c">0.20</text>
<text x="460.5" y="250" font-size="12" text-anchor="middle" fill="#1c1c1c" transform="rotate(-90 460.5 250)" dominant-baseline="central">ΔM (a.u.)</text>
<text x="567.5" y="345.5" font-size="12.5" text-anchor="middle" fill="#1c1c1c">1/B (T<tspan font-size="8" dy="-4.5">-1</tspan><tspan dy="4.5">)</tspan></text>
<text x="459" y="180.4" font-size="16.5" text-anchor="middle" fill="#1c1c1c">(f)</text>
<text x="591.3" y="212.3" font-size="11.5" text-anchor="middle" fill="#1c1c1c">T=2K</text>
<path d="M474.3 274.4h2M474.4 277.3h2M474.6 279.1h2M474.3 283.0h2M474.6 284.5h2M475.1 288.2h2M475.1 291.2h2M475.1 293.6h2M475.1 297.4h2M475.2 300.3h2M475.4 301.9h2M475.6 305.6h2M475.5 307.4h2M476.1 310.7h2M476.7 308.9h2M476.8 306.5h2M476.8 303.5h2M476.9 301.0h2M477.3 296.7h2M476.9 294.3h2M477.5 291.8h2M477.4 288.6h2M477.4 285.5h2M477.4 282.5h2M477.6 280.4h2M477.8 277.8h2M478.0 275.3h2M477.9 271.3h2M478.1 269.8h2M478.2 266.3h2M478.1 262.8h2M478.3 260.4h2M478.0 256.5h2M478.4 254.9h2M478.0 251.4h2M478.3 247.2h2M478.3 245.0h2M478.7 240.7h2M478.7 238.1h2M478.8 236.0h2M479.0 234.5h2M478.9 231.9h2M478.8 227.9h2M479.1 225.3h2M479.0 222.8h2M479.3 219.4h2M479.1 217.6h2M479.4 214.9h2M479.9 211.3h2M479.7 208.9h2M480.0 206.2h2M480.1 203.6h2M480.4 200.8h2M480.3 198.6h2M480.5 195.4h2M481.8 198.4h2M481.7 200.3h2M481.8 204.0h2M481.7 206.9h2M482.2 208.5h2M482.3 211.8h2M482.5 214.4h2M482.6 218.0h2M482.3 220.0h2M482.8 224.0h2M482.6 225.7h2M482.9 228.1h2M482.9 230.8h2M483.0 233.9h2M483.0 236.3h2M483.4 238.4h2M483.4 242.3h2M483.3 244.1h2M483.6 246.6h2M483.3 249.5h2M483.7 252.2h2M483.6 255.9h2M484.0 259.2h2M484.1 261.9h2M483.9 265.7h2M484.3 268.3h2M484.0 270.6h2M484.3 273.4h2M484.5 276.9h2M484.3 279.0h2M484.8 282.4h2M484.9 284.4h2M484.6 287.0h2M485.2 289.5h2M485.1 292.3h2M486.3 289.9h2M486.7 286.6h2M486.3 285.2h2M487.0 282.4h2M486.8 279.7h2M487.3 275.6h2M487.3 273.5h2M487.3 270.5h2M487.2 267.5h2M487.2 264.3h2M487.5 261.9h2M487.8 258.6h2M487.9 256.7h2M488.0 254.0h2M488.1 250.5h2M487.7 247.7h2M487.8 244.5h2M488.2 242.0h2M488.1 239.7h2M488.4 235.9h2M488.2 233.8h2M488.5 230.8h2M488.5 227.0h2M488.7 225.3h2M488.6 222.6h2M489.1 220.0h2M489.1 216.2h2M489.1 214.6h2M488.9 210.8h2M489.1 208.5h2M489.4 205.5h2M489.7 202.2h2M489.4 199.7h2M489.7 197.0h2M490.5 195.7h2M490.7 197.7h2M491.1 200.0h2M491.3 203.0h2M491.6 205.5h2M491.5 208.2h2M491.6 211.6h2M492.0 213.9h2M491.8 216.4h2M492.1 220.0h2M492.4 222.6h2M492.5 226.1h2M492.4 228.2h2M492.5 231.3h2M492.6 233.8h2M492.7 235.7h2M492.8 239.0h2M492.7 241.1h2M493.0 244.8h2M493.4 247.0h2M493.5 250.6h2M493.2 252.9h2M493.3 256.2h2M493.7 258.9h2M493.9 261.1h2M494.0 263.7h2M493.8 266.4h2M493.9 268.4h2M494.5 271.0h2M494.3 273.8h2M495.2 276.5h2M495.6 275.2h2M495.9 272.7h2M496.4 269.9h2M496.8 267.0h2M496.8 263.3h2M497.0 261.6h2M497.1 258.3h2M497.2 256.9h2M496.9 253.0h2M497.4 250.9h2M497.3 247.0h2M497.5 244.7h2M497.9 241.5h2M497.8 238.6h2M497.9 235.8h2M497.9 233.2h2M498.6 230.4h2M498.6 227.5h2M498.7 225.7h2M498.9 222.8h2M498.9 220.4h2M499.4 216.9h2M499.2 215.3h2M501.2 217.1h2M501.2 219.9h2M501.2 221.9h2M501.4 225.0h2M501.7 227.3h2M502.0 231.0h2M502.0 233.3h2M502.2 236.3h2M502.5 238.1h2M502.4 240.5h2M502.7 243.9h2M502.7 246.5h2M503.0 249.8h2M503.0 253.0h2M503.4 255.0h2M503.6 258.1h2M504.1 260.2h2M504.1 263.0h2M504.8 265.0h2M505.8 263.5h2M506.0 259.8h2M506.1 257.9h2M506.6 255.6h2M506.9 251.8h2M506.7 249.3h2M506.9 247.4h2M507.4 245.1h2M507.3 242.4h2M507.5 239.1h2M507.9 236.0h2M507.7 234.7h2M508.0 231.2h2M508.4 229.2h2M508.3 226.0h2M508.9 223.7h2M509.3 221.4h2M510.6 223.5h2M510.6 225.7h2M510.8 229.2h2M510.9 232.2h2M511.6 233.5h2M511.9 236.6h2M512.1 239.7h2M512.2 242.2h2M512.9 244.9h2M513.4 247.2h2M514.5 249.6h2M514.8 251.1h2M515.5 254.0h2M516.6 252.1h2M516.9 248.8h2M517.2 247.0h2M517.2 244.9h2M517.7 241.0h2M518.2 238.4h2M518.2 236.8h2M520.3 238.2h2M522.4 236.7h2M523.8 238.2h2M524.0 241.7h2M524.7 243.9h2M524.9 246.3h2M524.9 249.0h2M525.5 251.0h2M525.6 253.8h2M526.2 256.5h2M527.1 254.3h2M527.6 252.4h2M527.8 250.0h2M528.0 246.4h2M528.6 243.7h2M530.2 242.4h2M530.6 239.2h2M531.3 237.6h2M531.9 235.0h2M532.2 231.6h2M533.7 233.6h2M534.1 236.8h2M534.1 238.9h2M534.7 241.2h2M534.9 245.2h2M535.3 247.0h2M535.3 249.9h2M535.6 253.2h2M536.1 254.6h2M537.9 253.0h2M538.4 251.0h2M538.7 248.6h2M539.9 245.7h2M540.3 243.2h2M540.5 240.7h2M540.7 238.2h2M541.5 235.5h2M541.8 233.8h2M542.4 230.0h2M543.9 232.8h2M543.8 235.0h2M544.2 237.1h2M544.6 241.0h2M544.7 243.4h2M545.2 244.8h2M545.6 248.1h2M546.1 250.9h2M546.5 252.8h2M548.8 252.8h2M549.5 249.5h2M550.0 247.0h2M550.0 243.8h2M550.4 241.5h2M550.8 239.4h2M551.6 237.0h2M551.9 234.7h2M553.8 236.0h2M554.6 238.4h2M554.8 241.7h2M555.6 243.3h2M555.9 246.1h2M556.7 248.1h2M558.8 247.6h2M559.9 245.0h2M560.3 242.6h2M560.8 240.1h2M561.7 237.7h2M563.5 236.2h2M564.7 239.1h2M565.4 240.8h2M566.4 243.8h2M567.5 245.6h2M569.6 245.1h2M570.2 243.6h2M571.0 239.8h2M572.0 237.5h2M573.8 236.0h2M574.8 237.7h2M575.9 240.5h2M576.7 243.2h2M577.6 245.3h2M579.7 245.1h2M580.9 243.3h2M581.3 240.0h2M582.3 239.0h2M583.6 235.3h2M584.9 237.4h2M585.8 239.8h2M586.4 243.2h2M587.8 244.9h2M590.3 245.8h2M591.1 244.2h2M591.9 240.3h2M592.3 238.8h2M593.8 235.7h2M595.3 238.6h2M596.0 240.2h2M596.9 243.2h2M598.1 244.7h2M600.1 246.9h2M601.2 244.2h2M602.0 241.5h2M602.4 238.9h2M603.6 236.9h2M605.6 237.4h2M606.7 240.5h2M607.4 242.6h2M608.1 244.6h2M609.9 246.3h2M611.0 245.3h2M611.9 241.8h2M612.4 240.6h2M613.5 238.2h2M616.1 237.6h2M617.0 240.5h2M617.4 242.3h2M618.0 244.8h2M619.9 246.4h2M621.3 244.5h2M621.8 243.0h2M622.6 239.5h2M623.4 238.1h2M626.1 236.5h2M626.8 240.4h2M627.5 242.2h2M628.4 245.0h2M629.6 247.3h2M631.5 244.7h2M632.1 242.1h2M633.2 239.7h2M633.6 238.7h2M635.6 237.0h2M636.7 238.7h2M637.5 241.6h2M638.5 243.8h2M639.4 246.5h2M641.7 245.5h2M642.6 242.3h2M643.5 240.6h2M644.3 237.6h2M645.8 236.1h2M647.2 237.6h2M647.8 240.7h2M648.3 243.2h2M649.6 245.4h2M652.0 245.8h2M652.6 243.0h2M653.8 240.5h2M654.3 237.7h2M655.4 235.7h2M657.5 238.4h2M658.3 241.2h2M658.9 243.6h2" stroke="#7b33ff" stroke-width="2.3" fill="none"/>
<polyline fill="none" stroke="#ff2020" stroke-width="1.1" stroke-linejoin="round" points="476.34,284.39 476.57,287.24 476.8,289.06 477.03,289.81 477.26,289.46 477.49,288.04 477.72,285.57 477.95,282.11 478.18,277.75 478.41,272.58 478.64,266.72 478.87,260.53 479.1,253.77 479.34,246.58 479.57,239.12 479.8,231.55 480.03,224.05 480.26,216.8 480.49,209.96 480.72,203.71 480.95,198.2 481.18,193.57 481.41,189.96 481.64,187.46 481.87,186.16 482.1,186.11 482.33,188.17 482.56,191.42 482.79,195.76 483.02,201.08 483.25,207.24 483.48,214.09 483.71,221.48 483.94,229.23 484.17,237.15 484.4,245.07 484.63,252.8 484.86,260.18 485.1,267.04 485.33,273.24 485.56,278.64 485.79,283.13 486.02,286.62 486.25,289.05 486.48,290.38 486.71,290.59 486.94,289.85 487.17,288.02 487.4,285.17 487.63,281.35 487.86,276.68 488.09,271.25 488.32,265.21 488.55,258.68 488.78,251.83 489.01,244.8 489.24,237.77 489.47,230.88 489.7,224.29 489.93,218.15 490.16,212.59 490.39,207.73 490.62,203.68 490.86,200.52 491.09,198.31 491.32,197.09 491.55,197.09 491.78,198.09 492.01,200.05 492.24,202.9 492.47,206.57 492.7,210.97 492.93,215.96 493.16,221.44 493.39,227.26 493.62,233.29 493.85,239.39 494.08,245.42 494.31,251.24 494.54,256.72 494.77,261.75 495,266.22 495.23,270.05 495.46,273.15 495.69,275.48 495.92,276.99 496.15,277.73 496.38,277.64 496.62,276.75 496.85,275.08 497.08,272.7 497.31,269.66 497.54,266.06 497.77,261.99 498,257.55 498.23,252.84 498.46,247.98 498.69,243.09 498.92,238.27 499.15,233.63 499.38,229.28 499.61,225.3 499.84,221.78 500.07,218.79 500.3,216.38 500.53,214.59 500.76,213.33 500.99,212.71 501.22,212.76 501.45,213.45 501.68,214.75 501.91,216.64 502.14,219.05 502.38,221.93 502.61,225.2 502.84,228.78 503.07,232.59 503.3,236.53 503.53,240.52 503.76,244.46 503.99,248.26 504.22,251.85 504.45,255.15 504.68,258.08 504.91,260.59 505.14,262.63 505.37,264.16 505.6,265.16 505.83,265.62 506.06,265.52 506.29,264.9 506.52,263.81 506.75,262.24 506.98,260.24 507.21,257.85 507.44,255.14 507.67,252.17 507.9,249.02 508.14,245.76 508.37,242.45 508.6,239.19 508.83,236.01 509.06,232.93 509.29,230.05 509.52,227.44 509.75,225.19 509.98,223.38 510.21,222.06 510.44,221.29 510.67,221.09 510.9,221.45 511.13,222.59 511.36,224.16 511.59,226.09 511.82,228.27 512.05,230.6 512.28,232.95 512.51,235.25 512.74,237.39 512.97,239.32 513.2,241.01 513.43,242.43 513.66,243.6 513.9,244.56 514.13,245.36 514.36,246.06 514.59,246.84 514.82,247.65 515.05,248.54 515.28,249.49 515.51,250.51 515.74,251.55 515.97,252.55 516.2,253.44 516.43,254.11 516.66,254.49 516.89,254.38 517.12,253.82 517.35,252.79 517.58,251.35 517.81,249.54 518.04,247.46 518.27,245.22 518.5,242.95 518.73,240.77 518.96,238.8 519.19,237.16 519.42,235.93 519.66,235.15 519.89,234.84 520.12,234.97 520.35,235.27 520.58,235.86 520.81,236.64 521.04,237.52 521.27,238.39 521.5,239.15 521.73,239.71 521.96,240.01 522.19,240.02 522.42,239.74 522.65,239.2 522.88,238.46 523.11,237.62 523.34,236.78 523.57,236.04 523.8,235.52 524.03,235.31 524.26,235.5 524.49,236.14 524.72,237.23 524.95,238.76 525.18,240.67 525.42,242.89 525.65,245.29 525.88,247.76 526.11,250.16 526.34,252.36 526.57,254.24 526.8,255.7 527.03,256.69 527.26,257.16 527.49,257.13 527.72,256.61 527.95,255.69 528.18,254.45 528.41,252.83 528.64,251.1 528.87,249.4 529.1,247.81 529.33,246.4 529.56,245.23 529.79,244.3 530.02,243.61 530.25,243.12 530.48,242.76 530.71,242.46 530.94,242.15 531.18,241.75 531.41,241.21 531.64,240.47 531.87,239.52 532.1,238.37 532.33,237.06 532.56,235.65 532.79,234.23 533.02,232.89 533.25,231.73 533.48,230.85 533.71,230.35 533.94,230.29 534.17,230.72 534.4,231.64 534.63,233.06 534.86,234.91 535.09,237.12 535.32,239.6 535.55,242.22 535.78,244.88 536.01,247.44 536.24,249.8 536.47,251.86 536.7,253.55 536.94,254.82 537.17,255.67 537.4,256.09 537.63,256.13 537.86,255.83 538.09,255.26 538.32,254.5 538.55,253.62 538.78,252.68 539.01,251.75 539.24,250.86 539.47,250.02 539.7,249.25 539.93,248.54 540.16,247.83 540.39,247.09 540.62,246.28 540.85,245.35 541.08,244.27 541.31,243.02 541.54,241.61 541.77,240.05 542,238.37 542.23,236.64 542.46,234.91 542.7,233.27 542.93,231.79 543.16,230.57 543.39,229.66 543.62,229.13 543.85,229.02 544.08,229.34 544.31,230.09 544.54,231.26 544.77,232.79 545,234.62 545.23,236.69 545.46,238.9 545.69,241.22 545.92,243.48 546.15,245.63 546.38,247.59 546.61,249.33 546.84,250.82 547.07,252.03 547.3,252.97 547.53,253.66 547.76,254.11 547.99,254.36 548.22,254.42 548.46,254.34 548.69,254.13 548.92,253.81 549.15,253.38 549.38,252.86 549.61,252.24 549.84,251.51 550.07,250.67 550.3,249.7 550.53,248.62 550.76,247.41 550.99,246.09 551.22,244.67 551.45,243.19 551.68,241.67 551.91,240.16 552.14,238.69 552.37,237.31 552.6,236.07 552.83,235.01 553.06,234.15 553.29,233.53 553.52,233.16 553.75,233.05 553.98,233.19 554.22,233.57 554.45,234.15 554.68,234.91 554.91,235.83 555.14,236.86 555.37,237.98 555.6,239.15 555.83,240.35 556.06,241.55 556.29,242.74 556.52,243.89 556.75,245 556.98,246.05 557.21,247.06 557.44,247.95 557.67,248.73 557.9,249.37 558.13,249.87 558.36,250.22 558.59,250.41 558.82,250.45 559.05,250.33 559.28,250.06 559.51,249.66 559.74,249.12 559.98,248.47 560.21,247.72 560.44,246.89 560.67,245.99 560.9,245.04 561.13,244.08 561.36,243.1 561.59,242.14 561.82,241.21 562.05,240.33 562.28,239.51 562.51,238.77 562.74,238.13 562.97,237.58 563.2,237.14 563.43,236.81 563.66,236.6 563.89,236.51 564.12,236.42 564.35,236.44 564.58,236.58 564.81,236.82 565.04,237.15 565.27,237.59 565.5,238.1 565.74,238.69 565.97,239.34 566.2,240.04 566.43,240.77 566.66,241.52 566.89,242.28 567.12,243.03 567.35,243.75 567.58,244.43 567.81,245.06 568.04,245.62 568.27,246.1 568.5,246.5 568.73,246.8 568.96,247 569.19,247.09 569.42,247.08 569.65,246.95 569.88,246.73 570.11,246.4 570.34,245.97 570.57,245.46 570.8,244.88 571.03,244.23 571.26,243.52 571.5,242.78 571.73,242.02 571.96,241.25 572.19,240.48 572.42,239.74 572.65,239.03 572.88,238.38 573.11,237.78 573.34,237.27 573.57,236.84 573.8,236.5 574.03,236.26 574.26,236.13 574.49,236.1 574.72,236.19 574.95,236.38 575.18,236.67 575.41,237.06 575.64,237.54 575.87,238.1 576.1,238.73 576.33,239.42 576.56,240.15 576.79,240.9 577.02,241.67 577.26,242.44 577.49,243.2 577.72,243.92 577.95,244.59 578.18,245.21 578.41,245.76 578.64,246.22 578.87,246.59 579.1,246.87 579.33,247.04 579.56,247.1 579.79,247.05 580.02,246.9 580.25,246.64 580.48,246.29 580.71,245.84 580.94,245.31 581.17,244.7 581.4,244.04 581.63,243.32 581.86,242.57 582.09,241.8 582.32,241.03 582.55,240.27 582.78,239.54 583.02,238.84 583.25,238.21 583.48,237.63 583.71,237.14 583.94,236.73 584.17,236.42 584.4,236.21 584.63,236.11 584.86,236.12 585.09,236.23 585.32,236.45 585.55,236.77 585.78,237.19 586.01,237.69 586.24,238.27 586.47,238.92 586.7,239.62 586.93,240.35 587.16,241.12 587.39,241.89 587.62,242.66 587.85,243.4 588.08,244.11 588.31,244.77 588.54,245.37 588.78,245.89 589.01,246.33 589.24,246.68 589.47,246.92 589.7,247.06 589.93,247.1 590.16,247.02 590.39,246.84 590.62,246.56 590.85,246.17 591.08,245.7 591.31,245.15 591.54,244.52 591.77,243.84 592,243.12 592.23,242.36 592.46,241.59 592.69,240.82 592.92,240.07 593.15,239.34 593.38,238.66 593.61,238.04 593.84,237.49 594.07,237.02 594.3,236.64 594.54,236.35 594.77,236.17 595,236.1 595.23,236.14 595.46,236.28 595.69,236.53 595.92,236.88 596.15,237.32 596.38,237.85 596.61,238.44 596.84,239.11 597.07,239.82 597.3,240.56 597.53,241.33 597.76,242.1 597.99,242.86 598.22,243.6 598.45,244.3 598.68,244.94 598.91,245.52 599.14,246.02 599.37,246.44 599.6,246.76 599.83,246.97 600.06,247.08 600.3,247.09 600.53,246.98 600.76,246.77 600.99,246.46 601.22,246.05 601.45,245.55 601.68,244.98 601.91,244.34 602.14,243.64 602.37,242.91 602.6,242.15 602.83,241.38 603.06,240.61 603.29,239.86 603.52,239.15 603.75,238.48 603.98,237.88 604.21,237.35 604.44,236.9 604.67,236.55 604.9,236.29 605.13,236.14 605.36,236.1 605.59,236.17 605.82,236.34 606.06,236.62 606.29,236.99 606.52,237.46 606.75,238 606.98,238.62 607.21,239.3 607.44,240.02 607.67,240.78 607.9,241.54 608.13,242.32 608.36,243.07 608.59,243.8 608.82,244.48 609.05,245.11 609.28,245.67 609.51,246.15 609.74,246.54 609.97,246.83 610.2,247.02 610.43,247.1 610.66,247.07 610.89,246.94 611.12,246.7 611.35,246.36 611.58,245.92 611.82,245.4 612.05,244.81 612.28,244.15 612.51,243.44 612.74,242.7 612.97,241.93 613.2,241.16 613.43,240.4 613.66,239.66 613.89,238.96 614.12,238.31 614.35,237.72 614.58,237.22 614.81,236.79 615.04,236.47 615.27,236.24 615.5,236.12 615.73,236.11 615.96,236.2 616.19,236.41 616.42,236.71 616.65,237.11 616.88,237.6 617.11,238.17 617.34,238.81 617.58,239.5 617.81,240.23 618.04,240.99 618.27,241.76 618.5,242.53 618.73,243.28 618.96,243.99 619.19,244.66 619.42,245.27 619.65,245.81 619.88,246.26 620.11,246.63 620.34,246.89 620.57,247.05 620.8,247.1 621.03,247.04 621.26,246.88 621.49,246.61 621.72,246.24 621.95,245.79 622.18,245.24 622.41,244.63 622.64,243.96 622.87,243.24 623.1,242.49 623.34,241.72 623.57,240.95 623.8,240.19 624.03,239.46 624.26,238.77 624.49,238.14 624.72,237.57 624.95,237.09 625.18,236.69 625.41,236.39 625.64,236.2 625.87,236.11 626.1,236.12 626.33,236.25 626.56,236.48 626.79,236.81 627.02,237.24 627.25,237.75 627.48,238.34 627.71,238.99 627.94,239.7 628.17,240.44 628.4,241.2 628.63,241.97 628.86,242.74 629.1,243.48 629.33,244.19 629.56,244.84 629.79,245.43 630.02,245.95 630.25,246.37 630.48,246.71 630.71,246.94 630.94,247.07 631.17,247.1 631.4,247.01 631.63,246.81 631.86,246.52 632.09,246.13 632.32,245.64 632.55,245.08 632.78,244.45 633.01,243.76 633.24,243.03 633.47,242.28 633.7,241.51 633.93,240.74 634.16,239.98 634.39,239.26 634.62,238.59 634.86,237.98 635.09,237.43 635.32,236.97 635.55,236.6 635.78,236.33 636.01,236.16 636.24,236.1 636.47,236.15 636.7,236.3 636.93,236.56 637.16,236.92 637.39,237.37 637.62,237.91 637.85,238.51 638.08,239.18 638.31,239.9 638.54,240.65 638.77,241.41 639,242.19 639.23,242.95 639.46,243.68 639.69,244.37 639.92,245.01 640.15,245.58 640.38,246.07 640.62,246.48 640.85,246.79 641.08,246.99 641.31,247.09 641.54,247.08 641.77,246.97 642,246.74 642.23,246.42 642.46,246 642.69,245.49 642.92,244.91 643.15,244.27 643.38,243.57 643.61,242.83 643.84,242.06 644.07,241.29 644.3,240.53 644.53,239.78 644.76,239.07 644.99,238.41 645.22,237.82 645.45,237.3 645.68,236.86 645.91,236.51 646.14,236.27 646.38,236.13 646.61,236.1 646.84,236.18 647.07,236.36 647.3,236.65 647.53,237.04 647.76,237.51 647.99,238.07 648.22,238.69 648.45,239.38 648.68,240.1 648.91,240.86 649.14,241.63 649.37,242.4 649.6,243.15 649.83,243.88 650.06,244.56 650.29,245.18 650.52,245.73 650.75,246.19 650.98,246.57 651.21,246.85 651.44,247.03 651.67,247.1 651.9,247.06 652.14,246.91 652.37,246.66 652.6,246.31 652.83,245.87 653.06,245.34 653.29,244.74 653.52,244.08 653.75,243.36 653.98,242.62 654.21,241.85 654.44,241.08 654.67,240.32 654.9,239.58 655.13,238.88 655.36,238.24 655.59,237.66 655.82,237.17 656.05,236.75 656.28,236.44 656.51,236.22 656.74,236.11 656.97,236.11 657.2,236.22 657.43,236.43 657.66,236.75 657.9,237.16 658.13,237.66 658.36,238.24 658.59,238.88 658.82,239.57 659.05,240.31 659.28,241.07 659.51,241.84 659.74,242.61 659.97,243.36 660.2,244.07"/>
<line x1="572.2" y1="252.4" x2="639.9" y2="252.4" stroke="#444" stroke-width="0.9"/>
<line x1="572.2" y1="302.3" x2="639.9" y2="302.3" stroke="#444" stroke-width="0.9"/>
<line x1="586.04" y1="252.4" x2="586.04" y2="253.9" stroke="#444" stroke-width="0.7"/>
<line x1="586.04" y1="302.3" x2="586.04" y2="300.8" stroke="#444" stroke-width="0.7"/>
<line x1="599.48" y1="252.4" x2="599.48" y2="253.9" stroke="#444" stroke-width="0.7"/>
<line x1="599.48" y1="302.3" x2="599.48" y2="300.8" stroke="#444" stroke-width="0.7"/>
<line x1="612.92" y1="252.4" x2="612.92" y2="253.9" stroke="#444" stroke-width="0.7"/>
<line x1="612.92" y1="302.3" x2="612.92" y2="300.8" stroke="#444" stroke-width="0.7"/>
<line x1="626.36" y1="252.4" x2="626.36" y2="253.9" stroke="#444" stroke-width="0.7"/>
<line x1="626.36" y1="302.3" x2="626.36" y2="300.8" stroke="#444" stroke-width="0.7"/>
<line x1="639.9" y1="252.4" x2="639.9" y2="302.3" stroke="#777" stroke-width="0.8" stroke-dasharray="1,4"/>
<text x="570.5" y="304" font-size="7.5" text-anchor="end" fill="#3a3a3a">0</text>
<text x="570.5" y="294.2" font-size="7.5" text-anchor="end" fill="#3a3a3a">1</text>
<text x="570.5" y="284.4" font-size="7.5" text-anchor="end" fill="#3a3a3a">2</text>
<text x="570.5" y="274.6" font-size="7.5" text-anchor="end" fill="#3a3a3a">3</text>
<text x="570.5" y="264.8" font-size="7.5" text-anchor="end" fill="#3a3a3a">4</text>
<text x="570.5" y="255" font-size="7.5" text-anchor="end" fill="#3a3a3a">5</text>
<text x="572.6" y="309.5" font-size="7.5" text-anchor="middle" fill="#3a3a3a">0.0</text>
<text x="586.04" y="309.5" font-size="7.5" text-anchor="middle" fill="#3a3a3a">0.1</text>
<text x="599.48" y="309.5" font-size="7.5" text-anchor="middle" fill="#3a3a3a">0.2</text>
<text x="612.92" y="309.5" font-size="7.5" text-anchor="middle" fill="#3a3a3a">0.3</text>
<text x="626.36" y="309.5" font-size="7.5" text-anchor="middle" fill="#3a3a3a">0.4</text>
<text x="639.8" y="309.5" font-size="7.5" text-anchor="middle" fill="#3a3a3a">0.5</text>
<text x="606" y="317.5" font-size="7.5" text-anchor="middle" fill="#3a3a3a">1/B (T<tspan font-size="5" dy="-3">-1</tspan><tspan dy="3">)</tspan></text>
<text x="563" y="279.5" font-size="7.5" text-anchor="middle" fill="#3a3a3a">n</text>
<line x1="571.7" y1="298.1" x2="639.9" y2="256.1" stroke="#ff2020" stroke-width="0.9"/>
<circle cx="585.1" cy="290" r="1.5" fill="#111"/>
<circle cx="602" cy="280.1" r="1.5" fill="#111"/>
<circle cx="618.7" cy="269.9" r="1.5" fill="#111"/>
<circle cx="633.6" cy="259.7" r="1.5" fill="#111"/>
</svg>
</body></html>
